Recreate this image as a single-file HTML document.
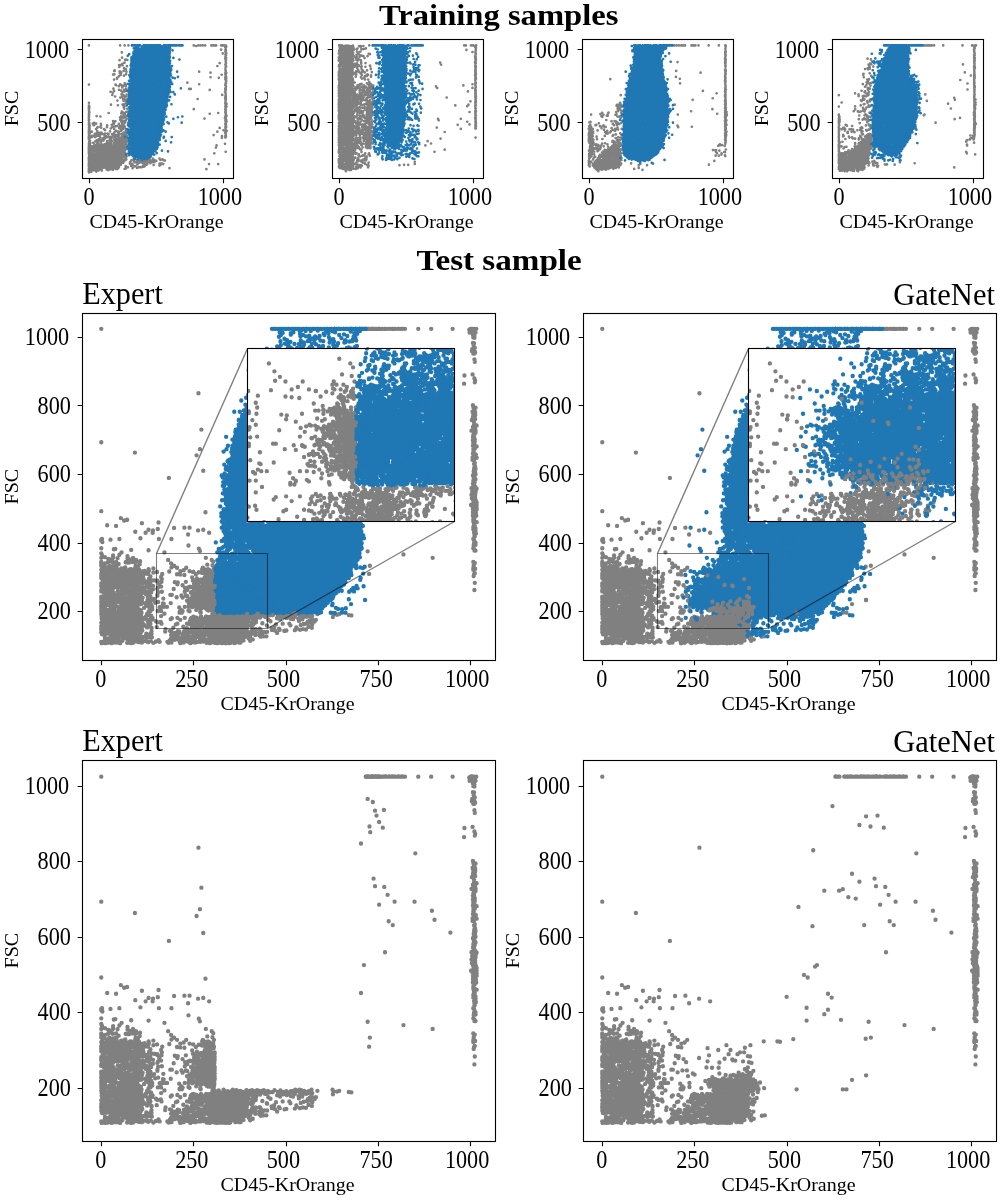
<!DOCTYPE html>
<html lang="en"><head><meta charset="utf-8"><title>Training samples / Test sample</title>
<style>html,body{margin:0;padding:0;background:#fff}svg{display:block}text{font-family:"Liberation Serif", "DejaVu Serif", serif;fill:#000}.tk{font-size:24.2px}.al{font-size:18.2px}.ti{font-size:31px}.st{font-size:29.4px;font-weight:bold}.pg{fill:none;stroke:#7f7f7f;stroke-linecap:round}.pb{fill:none;stroke:#1f77b4;stroke-linecap:round}</style></head><body>
<svg width="1000" height="1200" viewBox="0 0 1000 1200">
<rect width="1000" height="1200" fill="#fff"/>
<defs>
<path id="cgf" d="M9 107h5v3h-5zM79 107h5v3h-5zM292 107h5v3h-5zM311 107h5v3h-5zM335 107h5v3h-5zM344 107h5v3h-5zM0 110h54v3h-54zM72 110h18v3h-18zM100 110h13v3h-13zM180 110h11v3h-11zM212 110h14v3h-14zM248 110h11v3h-11zM283 110h69v3h-69zM371 110h9v3h-9zM7 113h50v3h-50zM72 113h22v3h-22zM95 113h19v3h-19zM183 113h10v3h-10zM211 113h26v3h-26zM246 113h11v3h-11zM265 113h89v3h-89zM360 113h22v3h-22zM9 116h42v3h-42zM52 116h6v3h-6zM71 116h39v3h-39zM185 116h11v3h-11zM210 116h28v3h-28zM245 116h7v3h-7zM266 116h120v3h-120zM9 119h39v3h-39zM69 119h36v3h-36zM187 119h17v3h-17zM205 119h45v3h-45zM267 119h14v3h-14zM289 119h97v3h-97zM21 122h26v3h-26zM57 122h20v3h-20zM78 122h26v3h-26zM190 122h28v3h-28zM219 122h32v3h-32zM266 122h13v3h-13zM292 122h95v3h-95zM23 125h25v3h-25zM56 125h18v3h-18zM81 125h24v3h-24zM191 125h16v3h-16zM222 125h32v3h-32zM256 125h5v3h-5zM262 125h16v3h-16zM293 125h98v3h-98zM396 125h6v3h-6zM24 128h28v3h-28zM53 128h20v3h-20zM82 128h25v3h-25zM190 128h16v3h-16zM223 128h15v3h-15zM248 128h32v3h-32zM291 128h112v3h-112zM24 131h51v3h-51zM80 131h26v3h-26zM189 131h18v3h-18zM221 131h15v3h-15zM249 131h34v3h-34zM288 131h111v3h-111zM1 134h15v3h-15zM22 134h84v3h-84zM190 134h20v3h-20zM220 134h17v3h-17zM253 134h145v3h-145zM0 137h107v3h-107zM198 137h13v3h-13zM222 137h18v3h-18zM260 137h139v3h-139zM-1 140h104v3h-104zM205 140h7v3h-7zM225 140h13v3h-13zM263 140h134v3h-134zM0 143h101v3h-101zM293 143h12v3h-12zM313 143h5v3h-5zM327 143h21v3h-21zM351 143h12v3h-12zM-1 146h103v3h-103zM295 146h8v3h-8zM314 146h36v3h-36zM355 146h9v3h-9zM-1 149h106v3h-106zM314 149h36v3h-36zM356 149h7v3h-7zM-1 152h112v3h-112zM325 152h35v3h-35zM0 155h113v3h-113zM324 155h25v3h-25zM350 155h8v3h-8zM0 158h118v3h-118zM126 158h6v3h-6zM323 158h14v3h-14zM338 158h9v3h-9zM352 158h7v3h-7zM2 161h115v3h-115zM127 161h7v3h-7zM308 161h6v3h-6zM323 161h12v3h-12zM340 161h5v3h-5zM1 164h114v3h-114zM127 164h8v3h-8zM292 164h6v3h-6zM304 164h14v3h-14zM326 164h11v3h-11zM340 164h7v3h-7zM348 164h6v3h-6zM0 167h27v3h-27zM32 167h81v3h-81zM126 167h8v3h-8zM293 167h7v3h-7zM302 167h5v3h-5zM311 167h9v3h-9zM328 167h12v3h-12zM343 167h13v3h-13zM357 167h8v3h-8zM1 170h24v3h-24zM34 170h79v3h-79zM127 170h6v3h-6zM294 170h12v3h-12zM312 170h6v3h-6zM327 170h12v3h-12zM347 170h19v3h-19zM2 173h23v3h-23zM34 173h79v3h-79zM126 173h8v3h-8zM294 173h14v3h-14zM310 173h7v3h-7zM330 173h10v3h-10zM347 173h11v3h-11zM1 176h26v3h-26zM32 176h83v3h-83zM130 176h9v3h-9zM295 176h12v3h-12zM332 176h24v3h-24zM0 179h116v3h-116zM132 179h9v3h-9zM332 179h19v3h-19zM1 182h110v3h-110zM133 182h6v3h-6zM313 182h36v3h-36zM0 185h109v3h-109zM315 185h8v3h-8zM326 185h6v3h-6zM337 185h9v3h-9zM0 188h110v3h-110zM338 188h5v3h-5zM-1 191h16v3h-16zM20 191h90v3h-90zM0 194h13v3h-13zM22 194h88v3h-88zM0 197h13v3h-13zM22 197h89v3h-89zM-1 200h16v3h-16zM20 200h20v3h-20zM42 200h67v3h-67zM0 203h37v3h-37zM45 203h63v3h-63zM130 203h6v3h-6zM-1 206h15v3h-15zM22 206h14v3h-14zM47 206h56v3h-56zM130 206h9v3h-9zM0 209h12v3h-12zM25 209h12v3h-12zM47 209h53v3h-53zM131 209h8v3h-8zM-1 212h13v3h-13zM26 212h13v3h-13zM47 212h52v3h-52zM129 212h11v3h-11zM-1 215h12v3h-12zM25 215h16v3h-16zM52 215h47v3h-47zM126 215h12v3h-12zM-1 218h13v3h-13zM20 218h20v3h-20zM54 218h47v3h-47zM122 218h15v3h-15zM0 221h39v3h-39zM54 221h53v3h-53zM120 221h15v3h-15zM0 224h40v3h-40zM52 224h59v3h-59zM120 224h14v3h-14zM-1 227h44v3h-44zM45 227h65v3h-65zM123 227h11v3h-11zM0 230h111v3h-111zM124 230h12v3h-12zM0 233h112v3h-112zM124 233h16v3h-16zM-1 236h81v3h-81zM82 236h30v3h-30zM126 236h13v3h-13zM-1 239h57v3h-57zM63 239h14v3h-14zM87 239h26v3h-26zM126 239h10v3h-10zM0 242h55v3h-55zM89 242h21v3h-21zM125 242h10v3h-10zM7 245h49v3h-49zM88 245h20v3h-20zM126 245h7v3h-7zM9 248h34v3h-34zM45 248h19v3h-19zM74 248h9v3h-9zM85 248h24v3h-24zM124 248h7v3h-7zM9 251h28v3h-28zM48 251h18v3h-18zM72 251h38v3h-38zM119 251h13v3h-13zM7 254h29v3h-29zM49 254h66v3h-66zM116 254h19v3h-19zM3 257h30v3h-30zM49 257h78v3h-78zM128 257h8v3h-8zM0 260h32v3h-32zM54 260h62v3h-62zM131 260h6v3h-6zM0 263h32v3h-32zM56 263h18v3h-18zM79 263h36v3h-36zM11 266h22v3h-22zM56 266h15v3h-15zM81 266h35v3h-35zM12 269h23v3h-23zM54 269h16v3h-16zM81 269h36v3h-36zM11 272h61v3h-61zM82 272h23v3h-23zM0 275h75v3h-75zM80 275h23v3h-23zM-1 278h104v3h-104zM0 281h15v3h-15zM20 281h84v3h-84zM2 284h10v3h-10zM22 284h85v3h-85zM108 284h8v3h-8zM3 287h8v3h-8zM21 287h98v3h-98zM3 290h9v3h-9zM20 290h98v3h-98zM2 293h13v3h-13zM16 293h100v3h-100zM0 296h116v3h-116zM-1 299h82v3h-82zM90 299h25v3h-25zM-1 302h81v3h-81zM91 302h24v3h-24zM-1 305h82v3h-82zM90 305h25v3h-25zM-1 308h118v3h-118zM-1 311h121v3h-121zM1 314h117v3h-117zM1 317h108v3h-108zM113 317h5v3h-5zM-1 320h11v3h-11zM11 320h94v3h-94zM1 323h5v3h-5zM14 323h31v3h-31zM52 323h16v3h-16zM78 323h6v3h-6zM89 323h14v3h-14zM15 326h29v3h-29zM60 326h7v3h-7zM91 326h10v3h-10zM15 329h28v3h-28zM91 329h9v3h-9zM20 332h5v3h-5zM36 332h4v3h-4zM1007 476h7v3h-7zM1005 479h11v3h-11zM1005 482h11v3h-11zM1006 485h9v3h-9zM1005 488h11v3h-11zM1006 491h9v3h-9zM1006 494h10v3h-10zM1005 497h12v3h-12zM1005 500h13v3h-13zM1005 503h13v3h-13zM1003 506h14v3h-14zM1002 509h16v3h-16zM1004 512h13v3h-13zM1007 515h10v3h-10zM1008 518h10v3h-10zM1006 521h10v3h-10zM1005 524h11v3h-11zM1004 527h10v3h-10zM1003 530h11v3h-11zM1003 533h10v3h-10zM1004 536h9v3h-9zM1002 539h12v3h-12zM1003 542h11v3h-11zM1004 545h11v3h-11zM1003 548h12v3h-12zM1004 551h11v3h-11zM1004 554h12v3h-12zM1003 557h15v3h-15zM1002 560h14v3h-14zM1006 563h8v3h-8zM1008 719h5v3h-5zM1008 722h7v3h-7zM1006 725h9v3h-9zM1004 728h11v3h-11zM1005 731h9v3h-9zM1006 734h7v3h-7zM1005 737h9v3h-9zM1007 740h9v3h-9zM1008 743h6v3h-6zM1003 758h8v3h-8zM1005 761h8v3h-8zM1006 764h7v3h-7zM1005 767h7v3h-7zM1006 770h7v3h-7zM1007 773h7v3h-7zM1006 776h8v3h-8zM1005 779h9v3h-9zM1005 782h9v3h-9zM1007 785h5v3h-5zM1006 1004h5v3h-5zM1006 1007h5v3h-5zM1004 1010h8v3h-8zM1001 1013h13v3h-13zM997 1016h17v3h-17zM996 1019h17v3h-17zM996 1022h18v3h-18z"/>
<path id="cg" vector-effect="non-scaling-stroke" d="M410 119h0m-7-4h0m-18 1h0m-4-1h0m-1 2h0m-2 2h0m-1-9h0m-4 0h0m0 3h0m-5 3h0m-3-2h0m-2 5h0m0-9h0m-6 6h0m-4 3h0m-2-6h0m-2-4h0m0 7h0m-3-8h0m-4 4h0m-5-4h0m-7 4h0m-1-3h0m-2 0h0m-3 4h0m-4-3h0m-1 3h0m0-4h0m-4 4h0m-2-5h0m-4 7h0m0-5h0m-2-1h0m-3 4h0m-1-2h0m-1 4h0m-6-2h0m0-4h0m-2-1h0m-2 7h0m0 2h0m-1-1h0m-3-4h0m-2 7h0m0-4h0m-1-6h0m-9 4h0m-7-1h0m-2 5h0m-6-5h0m-4-1h0m-3 4h0m0-5h0m-5 1h0m-1 8h0m-1-4h0m-6-7h0m-5 11h0m-1-6h0m-6 1h0m0 2h0m-6 3h0m0-9h0m-5 8h0m-4-10h0m-2 5h0m-3 6h0m-10-1h0m-5 0h0m-4-8h0m-4 7h0m-4-8h0m-3 3h0m-21 0h0m-3 5h0m-7-4h0m-7-4h0m-7 5h0m-7-3h0m-2 2h0m-9 1h0m-2 0h0m-4-4h0m-2 7h0m-2-6h0m-1 2h0m-4-2h0m0 2h0m-2-1h0m-1 4h0m-5 0h0m-4-4h0m-3-3h0m-3 5h0m-2-6h0m-5 3h0m-1-1h0m-5-1h0m-13 6h0m-6-7h0m-1 8h0m-4 2h0m-2-6h0m0-2h0m-7 0h0m-9-2h0m-3 5h0m-6-1h0m-1 6h0m0-9h0m-5 1h0m-1 3h0m-1-5h0m-1 11h0m-2-6h0m-3-4h0m-4-1h0m-1 4h0m10 12h0m1-4h0m1 0h0m5 1h0m4 1h0m4-1h0m0 6h0m3 2h0m17-2h0m0-5h0m2 9h0m2-2h0m4 1h0m4-9h0m2 7h0m4-5h0m1 1h0m6-4h0m1 9h0m0-4h0m2-3h0m5 0h0m3 1h0m2 2h0m17 0h0m0-4h0m5 7h0m8-2h0m5 1h0m3 4h0m2-7h0m5 2h0m9-1h0m52-4h0m8 3h0m5 3h0m3-1h0m8-2h0m2-3h0m7 1h0m1 3h0m3 3h0m2 2h0m8-2h0m5-2h0m1-6h0m4 6h0m1-6h0m2 4h0m8 6h0m1-4h0m6 5h0m3-8h0m2 1h0m2-1h0m4 8h0m3-11h0m1 10h0m11 1h0m3-10h0m3 2h0m0 7h0m1-3h0m54-7h0m1 0h0m30 3h0m2 0h0m3 8h0m1-5h0m4 2h0m4 2h0m2-5h0m1-3h0m4 7h0m29-2h0m8 1h0m-31 10h0m-11 2h0m-2-6h0m-7 8h0m-8-3h0m-4 0h0m0 2h0m-5-1h0m-3-3h0m0 4h0m-9 1h0m-1-3h0m-4 2h0m-4 2h0m0-1h0m-2-5h0m-4 6h0m-1-4h0m-2 4h0m-11 0h0m-1-2h0m-9-4h0m-5 1h0m-1 4h0m-4-2h0m-7 1h0m-3-1h0m-3 2h0m-1 1h0m-2-4h0m-4-2h0m-1-4h0m-3 1h0m-6 9h0m-3-10h0m-2 8h0m-1 1h0m-11-7h0m-2 4h0m-7-4h0m-5-2h0m-5 6h0m-4 0h0m-1 2h0m-3-3h0m-2 2h0m-9-1h0m-2 1h0m0 3h0m-4-9h0m-9 8h0m-2-6h0m-2 7h0m-7-11h0m0 6h0m-3-5h0m-3-1h0m-4 10h0m-1-10h0m-16 10h0m-37 0h0m0-7h0m-2 1h0m-6-4h0m-3 1h0m-3 3h0m-15 3h0m-3-6h0m-2-1h0m-1 8h0m-3 3h0m0-5h0m-13-6h0m-5 1h0m-2 4h0m-2-2h0m-1 2h0m-5-1h0m-2-4h0m-11 1h0m-4 3h0m-3-3h0m-25-1h0m-6 5h0m-4 1h0m-2-3h0m-2 4h0m-5-5h0m-4 5h0m0-5h0m-2 6h0m0 7h0m0 5h0m0-2h0m4 0h0m95-2h0m0 4h0m2 0h0m1-2h0m2 3h0m7-8h0m13 9h0m12-1h0m0-2h0m14 4h0m24-6h0m12-5h0m9 9h0m34-8h0m3 7h0m1-7h0m2 2h0m5-3h0m4 1h0m1 8h0m5 1h0m1-1h0m1-7h0m3 3h0m0 2h0m1-1h0m2 2h0m4-5h0m8-3h0m6 0h0m4 8h0m0-8h0m2 5h0m5-1h0m2 6h0m1-3h0m0-7h0m4 0h0m0 9h0m1 2h0m0-8h0m1 1h0m3-4h0m0 5h0m1 1h0m0 4h0m1-8h0m1 1h0m0 6h0m1-9h0m3 10h0m2-7h0m0 4h0m5 3h0m0-9h0m1 4h0m1-3h0m0 8h0m1-3h0m0-5h0m1-1h0m0 7h0m3-1h0m1-5h0m4 7h0m0-6h0m0 4h0m1-7h0m1 3h0m1-1h0m1 4h0m0-5h0m3 10h0m2 0h0m1-3h0m4 1h0m2 2h0m3-9h0m2 4h0m1 4h0m0-9h0m1 5h0m1-3h0m2 7h0m0-2h0m1 3h0m2-3h0m1 3h0m0-9h0m1 5h0m3-1h0m0-4h0m1 7h0m1-9h0m0 6h0m1-1h0m1-4h0m1 0h0m0 10h0m4-7h0m1 4h0m2 3h0m1-11h0m1 11h0m5-7h0m2-4h0m1 2h0m1 7h0m3 2h0m2-6h0m7 1h0m18 14h0m-3 2h0m-1-5h0m0-4h0m-1 8h0m-1-3h0m-9-4h0m-2 6h0m0-4h0m-9 5h0m0-8h0m-1 4h0m-7-4h0m-1 6h0m-9-1h0m-1-4h0m-3 8h0m-5-4h0m0-3h0m0 5h0m-2-6h0m-1 3h0m-1 1h0m-1-1h0m-1-5h0m-1 9h0m0 1h0m0-6h0m-1-4h0m-1 9h0m0-2h0m-1 4h0m-1-2h0m-1 0h0m0 2h0m-1-9h0m-2 6h0m0-7h0m0 4h0m-2-3h0m-2 5h0m-1 4h0m-2-2h0m0-9h0m0 2h0m-3 3h0m-2 3h0m-1-5h0m-3-3h0m0 10h0m-1-8h0m0 3h0m0 1h0m-2 1h0m-1-3h0m-1 3h0m0-6h0m-1 10h0m-1-10h0m-1 10h0m-3-1h0m0-7h0m-1 6h0m-1 1h0m0-1h0m0-2h0m-1-2h0m-1 3h0m-1 2h0m0-5h0m-1 6h0m0-5h0m-1-1h0m-1 1h0m0-1h0m-1 6h0m-1-9h0m-2 6h0m-1 3h0m-1-10h0m-2 4h0m0-2h0m-2 3h0m-2 1h0m-1 1h0m0-3h0m-1 6h0m-1-2h0m0-5h0m-1 7h0m0-2h0m-4-1h0m-1-1h0m-2-1h0m-1-6h0m0 11h0m-1-2h0m-10-3h0m-4-6h0m0 2h0m-4 5h0m-3 0h0m-1-4h0m-2-2h0m0 5h0m-2 2h0m-4-3h0m-7-1h0m-4 3h0m-4 1h0m-7 1h0m-10-9h0m-16 9h0m-4-2h0m-39 2h0m-30 0h0m-2-7h0m-1 9h0m-3 0h0m0-9h0m-10 1h0m-1 2h0m-2 1h0m-1 2h0m-2-8h0m-3 4h0m-81 6h0m-20-5h0m-3-2h0m0 7h0m-4-8h0m0 10h0m3 6h0m2-6h0m16 4h0m0 4h0m1-6h0m2 6h0m6 3h0m3 0h0m1-11h0m1 7h0m1-4h0m3 1h0m72-2h0m0 3h0m2 5h0m12-3h0m3-3h0m3-1h0m3 6h0m4 0h0m10-5h0m4-3h0m9 1h0m27 8h0m26-2h0m26-4h0m2 7h0m1-4h0m5-3h0m3 4h0m7-7h0m4 4h0m3-4h0m2-1h0m0 3h0m1 0h0m2 5h0m5 3h0m2-8h0m1 2h0m1 6h0m3-10h0m7 6h0m5-1h0m0-4h0m1 8h0m1 0h0m0-6h0m1-4h0m2 1h0m0 3h0m0 4h0m1-8h0m0 5h0m1 4h0m1-3h0m0 5h0m1-9h0m1 0h0m1 3h0m0 3h0m1-8h0m0 6h0m0 4h0m3-4h0m1 2h0m1-3h0m1-2h0m1 2h0m0-4h0m2 7h0m0-3h0m0 1h0m1-5h0m0 6h0m0 3h0m2-7h0m7 0h0m1 2h0m3-1h0m1-3h0m1 5h0m1-3h0m0 1h0m1 5h0m1-8h0m0 8h0m0-5h0m0 3h0m2-4h0m2-3h0m0 5h0m1 5h0m1 0h0m1-3h0m1 4h0m2-10h0m1 8h0m1 0h0m1-8h0m0 5h0m1 5h0m2-4h0m0-4h0m1-2h0m1 7h0m0 2h0m1-5h0m1-5h0m1 8h0m0-4h0m1-4h0m2 6h0m3-5h0m0 2h0m1 7h0m1-3h0m1-3h0m0 2h0m2 2h0m1-6h0m4-1h0m1 4h0m0 2h0m3-5h0m1 3h0m1-2h0m2 5h0m3-1h0m4 2h0m2-1h0m0-3h0m6-1h0m5 1h0m11-3h0m8 4h0m3 16h0m-13-7h0m-13 3h0m-1 2h0m-1-6h0m-2 5h0m-1-4h0m-1 2h0m-2-1h0m-4 3h0m-1 3h0m-1 1h0m0-5h0m-2-1h0m-4 2h0m-3-3h0m-1 3h0m-1-3h0m-1-4h0m-2 0h0m-6 9h0m-1-6h0m-1-3h0m-1 2h0m-2-1h0m-1 3h0m-1-2h0m0 8h0m-2-1h0m-1-9h0m-1 7h0m0 4h0m-2-9h0m-1 2h0m-1 2h0m0-4h0m-1 3h0m-1-3h0m-1 2h0m-1 5h0m-1-3h0m-1-4h0m-1 4h0m-1-5h0m0 8h0m0-6h0m-1 8h0m0-5h0m-1-3h0m0 1h0m-2-3h0m-2-1h0m0 11h0m-1-5h0m-2 3h0m-1-6h0m0 4h0m-1-5h0m0 3h0m-1-5h0m-1 2h0m0 2h0m-2 0h0m0 2h0m-1-4h0m0-1h0m-1 0h0m-1 6h0m0-3h0m0 6h0m0-8h0m-2-1h0m0 3h0m0 4h0m-2-7h0m0 6h0m-2-7h0m-1 4h0m-3 6h0m-2-7h0m-2 5h0m-2-3h0m-5-5h0m-2 2h0m-5 2h0m-2-4h0m-5 3h0m-1 2h0m-12-3h0m-2 3h0m-1-5h0m-8 0h0m-5 3h0m-7 2h0m-5-3h0m-38 0h0m-15-1h0m-29 6h0m-23-6h0m-4 7h0m-2-8h0m-3 10h0m-3 1h0m-6-5h0m-2-6h0m-5 1h0m-6 9h0m-1-3h0m-1-7h0m-2 8h0m-78-6h0m-3 7h0m-4 1h0m-1-3h0m-3-1h0m-5 4h0m-7-2h0m-2-8h0m0 7h0m-1 6h0m0 8h0m2-3h0m3 0h0m4-6h0m2 4h0m2 7h0m9-3h0m1-2h0m1 0h0m13 3h0m6-2h0m3 4h0m57-3h0m3-7h0m1 3h0m2 1h0m15-4h0m3 3h0m1 4h0m5 2h0m20 0h0m9 0h0m9-8h0m41 5h0m0-2h0m6 0h0m2 4h0m0 1h0m16 1h0m32-3h0m33-6h0m1 5h0m2 4h0m3-11h0m2 0h0m9 2h0m13 2h0m1-2h0m1-2h0m9 0h0m12 1h0m2-1h0m2 0h0m8 1h0m0 2h0m10-2h0m17 0h0m2 0h0m1-1h0m5 1h0m3-1h0m2 1h0m3 1h0m-107 13h0m0 4h0m-1-6h0m-4 2h0m-1 2h0m-4-2h0m-1 6h0m-1-9h0m-3 7h0m-51 3h0m-20-9h0m-5 7h0m-33 2h0m-8 0h0m-9-3h0m-3 2h0m-20 1h0m0-7h0m-7-1h0m-3 9h0m-12-4h0m-9-7h0m-6 3h0m-3 3h0m0-6h0m-3 4h0m-41 4h0m-3 2h0m-1-10h0m-2 5h0m-1 3h0m-5 3h0m-7-5h0m-1 5h0m0-8h0m-4 2h0m-2 3h0m-4-5h0m-3-2h0m-8 1h0m-2 2h0m-1 5h0m-1-8h0m-3 8h0m-5-7h0m-1 2h0m0 6h0m0 5h0m0 8h0m9-3h0m0-5h0m3 6h0m3-3h0m4 4h0m0-5h0m1-2h0m1 7h0m1-5h0m2-3h0m2 3h0m2-4h0m6 6h0m1-7h0m0 8h0m2 2h0m0-3h0m12 4h0m5-3h0m0-8h0m1 4h0m1-3h0m2 5h0m35-6h0m4 1h0m1 5h0m4-1h0m7 4h0m0-2h0m10 2h0m2 0h0m1-7h0m4 7h0m1-2h0m5 1h0m3-4h0m11 6h0m19-10h0m2 8h0m2-1h0m19 2h0m91-6h0m10 3h0m9-3h0m1 8h0m1-11h0m6 8h0m-8 5h0m-48 7h0m-5 3h0m-13-7h0m-64 6h0m-14-10h0m-11 9h0m-6-4h0m-1 4h0m-2-1h0m-1-6h0m-7 1h0m-1 2h0m-15 1h0m-20 1h0m-4 3h0m-2-7h0m-2 2h0m-5 4h0m-2-3h0m-2 5h0m-7 0h0m-2-5h0m-4 3h0m0-3h0m-7-5h0m0 7h0m0-4h0m-5-1h0m-3-2h0m0 5h0m-4 0h0m-1-4h0m-35 3h0m-2-1h0m-3-3h0m0 8h0m0 7h0m0-2h0m7 3h0m0-5h0m4 5h0m2 1h0m18 5h0m3-1h0m4-1h0m2 0h0m3-6h0m4 2h0m2 3h0m3 1h0m1-7h0m1 4h0m4 5h0m4-1h0m3-8h0m10 4h0m3 2h0m9 1h0m2-9h0m1 5h0m2 2h0m11 3h0m3-5h0m1 5h0m1-8h0m4-1h0m9 10h0m5-9h0m1 2h0m2 7h0m4-7h0m19 2h0m0 3h0m35 0h0m4 0h0m13-7h0m13 5h0m12 0h0m781 16h0m-713-9h0m-15 1h0m-118 3h0m-10-1h0m-19-1h0m-5-2h0m-4 3h0m-4 2h0m-9 3h0m-1-7h0m-23-2h0m-4 0h0m-2 1h0m-7 1h0m-1 1h0m-1 6h0m-2-9h0m-1 4h0m0 6h0m-4-9h0m-4 4h0m-2 5h0m0-9h0m-2 9h0m-1-11h0m-5 7h0m-3-4h0m-3 4h0m-2 1h0m-11-5h0m-4 4h0m0 4h0m-15 0h0m-2-10h0m-5 9h0m-1-6h0m-7 7h0m0-4h0m0 15h0m1-7h0m4-3h0m5 11h0m2-8h0m1 4h0m3 2h0m14 0h0m1-2h0m0-5h0m1 3h0m9 2h0m1 3h0m4 0h0m1-3h0m3 4h0m6-6h0m0 4h0m2-9h0m6 5h0m3-3h0m4-2h0m1 11h0m10-6h0m4-2h0m14 7h0m7-3h0m5 1h0m6-2h0m4 4h0m7-4h0m4-6h0m7 11h0m0-10h0m12 2h0m1 3h0m9 3h0m34-7h0m31 3h0m58 2h0m726 13h0m-722 3h0m-27-7h0m-42-3h0m-13 8h0m-1-5h0m-7 6h0m-36 1h0m-6-8h0m-24 3h0m0-6h0m-4 8h0m-6-6h0m-7 9h0m-2-1h0m-2-3h0m-2 4h0m-8-4h0m-1 1h0m0-6h0m-2 1h0m-17-1h0m-5 1h0m-5 1h0m-3-2h0m-45 6h0m-1 1h0m-4-7h0m-5-2h0m-2 7h0m-1-7h0m-4 9h0m-2-3h0m-2 3h0m-3-8h0m0 5h0m0 16h0m4-8h0m2 7h0m3-9h0m1 7h0m0 3h0m3 1h0m1-4h0m7-4h0m1 6h0m59 1h0m5-2h0m2-3h0m2 5h0m4 0h0m12-8h0m8 7h0m1-5h0m9-4h0m5 8h0m7-4h0m7-1h0m2 0h0m7-3h0m0 2h0m12 5h0m845 14h0m-1-5h0m-723 2h0m-71 2h0m-9 1h0m-40 1h0m-3-9h0m-29 2h0m-7 7h0m-7 1h0m-6-7h0m-2 2h0m-1 3h0m-15-3h0m-6 2h0m-4 2h0m-5-2h0m-1-1h0m-1-4h0m-1 6h0m-77-8h0m0 10h0m0-5h0m0 16h0m2-6h0m9 4h0m0-5h0m2 0h0m2 3h0m27 0h0m2 3h0m7 1h0m1-2h0m0-2h0m14 5h0m1-5h0m3 3h0m2-4h0m5 0h0m2-4h0m3 5h0m2 3h0m4 1h0m5 0h0m9 1h0m2-4h0m1-6h0m6 4h0m3-1h0m1-1h0m2 4h0m10-6h0m1 4h0m1 3h0m12-6h0m10 2h0m33 1h0m30 1h0m9 3h0m784 1h0m4-10h0m1 13h0m-4 6h0m0 4h0m-1-8h0m-280 7h0m-497-6h0m-25 0h0m-8 6h0m-7-5h0m-49-3h0m-13-2h0m-29 7h0m-6 3h0m-1-8h0m0 3h0m-11-5h0m-3 0h0m-13 5h0m-3-2h0m-8-1h0m-12 0h0m-1 6h0m-3 1h0m-1-6h0m-2 3h0m-5 2h0m-6 0h0m-2 2h0m-2-7h0m-3 3h0m-2-1h0m-7 4h0m-4-9h0m-2 0h0m-2 10h0m0 11h0m0-3h0m0-3h0m10 2h0m8 3h0m8 3h0m5-3h0m9 1h0m7-6h0m19 5h0m5-1h0m4 0h0m7 2h0m9-1h0m3 1h0m10-7h0m1 9h0m84-6h0m818 4h0m4-3h0m-114 15h0m-716-6h0m-87 0h0m-7 3h0m-1 3h0m-10-5h0m-5 3h0m-27 1h0m-12 2h0m-2-3h0m-11-1h0m-9 5h0m-10-2h0m0 13h0m2-5h0m30-1h0m17 2h0m22-4h0m747 5h0m195 11h0m-3 4h0m0-4h0m-289-2h0m-550-3h0m-43 6h0m-47 1h0m-26-7h0m-17 10h0m-4-1h0m-34 3h0m1007 0h0m1 9h0m5 1h0m0 6h0m-3-3h0m0 8h0m-1-6h0m-1006 3h0m-3 4h0m0 3h0m2 2h0m23-2h0m24 2h0m57 2h0m50-2h0m34 0h0m817 0h0m2-3h0m1 10h0m4 9h0m-3-8h0m-1 4h0m-1 7h0m-717-1h0m-57-5h0m-96 5h0m-19 0h0m-28 3h0m36 6h0m12-2h0m13 4h0m109-4h0m745 3h0m4-8h0m0 9h0m0-3h0m2-1h0m0 6h0m-2 9h0m-2-7h0m-1 5h0m-1-4h0m-782-1h0m-28-1h0m-157 6h0m-24 2h0m46 14h0m48-8h0m45 2h0m852 4h0m1-4h0m1-4h0m1 9h0m2-5h0m4 1h0m-5 15h0m-4-7h0m-1 10h0m-936-11h0m-17 5h0m953 17h0m0-8h0m1 3h0m2-2h0m1 1h0m1 4h0m1-4h0m2 4h0m1-8h0m1 18h0m0 5h0m-3-4h0m0 2h0m-1-6h0m-1-3h0m-1 10h0m-1-4h0m-2-6h0m-1 6h0m0 5h0m-1006-10h0m1001 18h0m1 1h0m3-1h0m0-5h0m1 7h0m2 2h0m0-9h0m4 9h0m2-10h0m0 6h0m2-1h0m0 8h0m-2 6h0m0-2h0m-1-4h0m-3-1h0m-1 9h0m-1-5h0m-1 2h0m-1 3h0m-3 5h0m3 4h0m1-5h0m1 6h0m0-6h0m2 4h0m2-3h0m0 8h0m0-7h0m1 15h0m0 4h0m-1-8h0m-1 5h0m-1-8h0m-2 4h0m-2 0h0m-2-2h0m0 8h0m-2-9h0m-234 19h0m234 0h0m4-7h0m0 10h0m1-4h0m3-6h0m0 10h0m1-4h0m1-2h0m1 6h0m1-8h0m2 4h0m-5 6h0m-1 3h0m-2 4h0m-2 1h0m1 8h0m1 5h0m3-7h0m2 7h0m-2 4h0m-3 3h0m0 3h0m-2 1h0m-823-7h0m825 19h0m0-8h0m1 3h0m3 2h0m1-5h0m0 15h0m-1 7h0m0-10h0m-2 8h0m-1-4h0m-64-5h0m-156 20h0m220-1h0m2 3h0m0-8h0m-2 16h0m-2 2h0m-2-1h0m-103 3h0m-124-4h0m227 8h0m3 7h0m3-2h0m1-6h0m2 9h0m2-9h0m-5 11h0m-3 7h0m-1 2h0m-1-8h0m-111 9h0m-804-6h0m916 13h0m0 4h0m1-4h0m1 5h0m2-7h0m1 7h0m4 0h0m-6 9h0m0-6h0m-3 10h0m0-4h0m-1-7h0m-158 10h0m-54 0h0m-42-8h0m-752 8h0m1006 6h0m1 6h0m4-3h0m0-6h0m-2 14h0m-1 2h0m0 6h0m-1-4h0m-1-5h0m-231 2h0m227 16h0m4 0h0m4 0h0m1-8h0m2 9h0m0-7h0m0 4h0m3 17h0m-3-2h0m-1-4h0m-2 5h0m-2-4h0m-1-4h0m-1 5h0m-240-6h0m-25 2h0m-4 20h0m272-10h0m0 7h0m3 10h0m-1 3h0m-2-3h0m-2-5h0m0 5h0m-4-3h0m3 9h0m1 8h0m2 0h0m1-6h0m1 2h0m1 1h0m0 4h0m0 5h0m-1 1h0m-1 4h0m-5-4h0m1 19h0m1-4h0m1-5h0m5 2h0m-163 27h0m-587 15h0m719 28h0m29 4h0m1 5h0m-2 6h0m-284 13h0m36-3h0m221-1h0m22 3h0m-260 30h0m266 7h0m-1 7h0m2 20h0m-1 2h0m-1-5h0m-3 0h0m-4 7h0m1 6h0m4-2h0m1-1h0m2 7h0m-2 2h0m0 11h0m-1-7h0m-1 6h0m-1 2h0m4 20h0m0-5h0m-2 2h0m-1-1h0m-1 7h0m-9 7h0m9-3h0m1 5h0m1-8h0m2 7h0m1 3h0m2-4h0m2 11h0m-6 0h0m-1-4h0m-2-1h0m-2 5h0m-1 0h0m0-2h0m-4 2h0m-3-3h0m-45 3h0m-58 0h0m-35 0h0m-36 0h0m-6 0h0m-2 0h0m-5 0h0m-5 0h0m-1 0h0m-7 0h0m-4 0h0m-4 0h0m-2 0h0m-6 0h0m-1 0h0m-6 0h0m-4 0h0m-2 0h0m-5 0h0m-9 0h0m-3 0h0m-6 0h0m-2 0h0m-3 0h0m-4 0h0m-4 0h0m-6 0h0m-5 0h0m-3 0h0m-717 0h0"/>
<path id="cbf" d="M456 197h28v3h-28zM486 197h14v3h-14zM511 197h13v3h-13zM533 197h6v3h-6zM553 197h10v3h-10zM568 197h5v3h-5zM577 197h5v3h-5zM583 197h13v3h-13zM406 200h8v3h-8zM426 200h13v3h-13zM440 200h11v3h-11zM455 200h141v3h-141zM353 203h8v3h-8zM404 203h14v3h-14zM419 203h32v3h-32zM456 203h139v3h-139zM354 206h9v3h-9zM400 206h196v3h-196zM309 209h18v3h-18zM331 209h6v3h-6zM342 209h6v3h-6zM354 209h11v3h-11zM371 209h9v3h-9zM401 209h199v3h-199zM308 212h42v3h-42zM353 212h15v3h-15zM369 212h17v3h-17zM401 212h200v3h-200zM309 215h75v3h-75zM388 215h216v3h-216zM309 218h33v3h-33zM345 218h35v3h-35zM388 218h220v3h-220zM309 221h32v3h-32zM346 221h10v3h-10zM359 221h22v3h-22zM387 221h55v3h-55zM444 221h7v3h-7zM456 221h154v3h-154zM309 224h46v3h-46zM360 224h23v3h-23zM385 224h55v3h-55zM446 224h6v3h-6zM455 224h159v3h-159zM309 227h46v3h-46zM361 227h81v3h-81zM444 227h171v3h-171zM308 230h49v3h-49zM359 230h257v3h-257zM309 233h312v3h-312zM308 236h83v3h-83zM396 236h230v3h-230zM309 239h83v3h-83zM395 239h9v3h-9zM411 239h217v3h-217zM309 242h89v3h-89zM410 242h220v3h-220zM310 245h87v3h-87zM403 245h227v3h-227zM312 248h112v3h-112zM428 248h203v3h-203zM313 251h110v3h-110zM432 251h202v3h-202zM310 254h117v3h-117zM434 254h23v3h-23zM458 254h180v3h-180zM308 257h122v3h-122zM436 257h205v3h-205zM308 260h21v3h-21zM332 260h100v3h-100zM435 260h211v3h-211zM308 263h20v3h-20zM333 263h118v3h-118zM453 263h195v3h-195zM308 266h141v3h-141zM455 266h192v3h-192zM308 269h143v3h-143zM453 269h194v3h-194zM309 272h95v3h-95zM405 272h244v3h-244zM309 275h93v3h-93zM408 275h245v3h-245zM309 278h94v3h-94zM407 278h50v3h-50zM458 278h200v3h-200zM308 281h351v3h-351zM314 284h88v3h-88zM406 284h255v3h-255zM317 287h83v3h-83zM408 287h255v3h-255zM318 290h51v3h-51zM370 290h32v3h-32zM406 290h256v3h-256zM313 293h54v3h-54zM372 293h290v3h-290zM310 296h59v3h-59zM370 296h294v3h-294zM311 299h18v3h-18zM334 299h337v3h-337zM313 302h16v3h-16zM334 302h39v3h-39zM374 302h10v3h-10zM389 302h283v3h-283zM314 305h17v3h-17zM332 305h17v3h-17zM355 305h16v3h-16zM376 305h7v3h-7zM389 305h286v3h-286zM318 308h20v3h-20zM339 308h8v3h-8zM359 308h14v3h-14zM375 308h10v3h-10zM387 308h291v3h-291zM319 311h17v3h-17zM341 311h8v3h-8zM361 311h12v3h-12zM377 311h27v3h-27zM411 311h13v3h-13zM425 311h253v3h-253zM319 314h19v3h-19zM346 314h7v3h-7zM361 314h11v3h-11zM378 314h25v3h-25zM413 314h9v3h-9zM428 314h15v3h-15zM449 314h8v3h-8zM458 314h220v3h-220zM318 317h24v3h-24zM348 317h8v3h-8zM363 317h12v3h-12zM379 317h23v3h-23zM411 317h10v3h-10zM429 317h13v3h-13zM451 317h225v3h-225zM324 320h16v3h-16zM383 320h14v3h-14zM411 320h9v3h-9zM428 320h18v3h-18zM452 320h224v3h-224zM382 323h14v3h-14zM411 323h10v3h-10zM426 323h21v3h-21zM458 323h219v3h-219zM376 326h21v3h-21zM415 326h6v3h-6zM423 326h24v3h-24zM458 326h220v3h-220zM374 329h22v3h-22zM425 329h24v3h-24zM458 329h221v3h-221zM373 332h24v3h-24zM425 332h12v3h-12zM440 332h8v3h-8zM456 332h226v3h-226zM685 332h6v3h-6zM373 335h22v3h-22zM423 335h12v3h-12zM456 335h235v3h-235zM371 338h16v3h-16zM423 338h6v3h-6zM457 338h231v3h-231zM373 341h6v3h-6zM423 341h7v3h-7zM455 341h232v3h-232zM425 344h5v3h-5zM455 344h233v3h-233zM458 347h234v3h-234zM458 350h237v3h-237zM457 353h239v3h-239zM458 356h38v3h-38zM498 356h200v3h-200zM458 359h35v3h-35zM501 359h199v3h-199zM458 362h34v3h-34zM502 362h197v3h-197zM458 365h36v3h-36zM500 365h155v3h-155zM662 365h36v3h-36zM458 368h196v3h-196zM663 368h37v3h-37zM458 371h197v3h-197zM662 371h38v3h-38zM458 374h242v3h-242zM365 377h6v3h-6zM376 377h5v3h-5zM435 377h4v3h-4zM454 377h247v3h-247zM341 380h6v3h-6zM362 380h24v3h-24zM411 380h292v3h-292zM342 383h8v3h-8zM361 383h24v3h-24zM410 383h296v3h-296zM343 386h8v3h-8zM360 386h26v3h-26zM397 386h309v3h-309zM341 389h48v3h-48zM393 389h312v3h-312zM336 392h55v3h-55zM395 392h309v3h-309zM336 395h20v3h-20zM357 395h31v3h-31zM398 395h306v3h-306zM337 398h16v3h-16zM364 398h22v3h-22zM399 398h307v3h-307zM336 401h16v3h-16zM366 401h21v3h-21zM397 401h308v3h-308zM334 404h20v3h-20zM366 404h22v3h-22zM395 404h108v3h-108zM504 404h200v3h-200zM330 407h27v3h-27zM364 407h135v3h-135zM507 407h149v3h-149zM657 407h46v3h-46zM331 410h166v3h-166zM508 410h145v3h-145zM660 410h42v3h-42zM333 413h165v3h-165zM506 413h146v3h-146zM661 413h42v3h-42zM335 416h166v3h-166zM503 416h151v3h-151zM659 416h51v3h-51zM336 419h374v3h-374zM336 422h364v3h-364zM336 425h363v3h-363zM334 428h366v3h-366zM332 431h17v3h-17zM355 431h349v3h-349zM331 434h16v3h-16zM357 434h347v3h-347zM331 437h16v3h-16zM357 437h346v3h-346zM330 440h17v3h-17zM357 440h347v3h-347zM327 443h22v3h-22zM355 443h348v3h-348zM329 446h375v3h-375zM331 449h376v3h-376zM331 452h109v3h-109zM450 452h256v3h-256zM331 455h61v3h-61zM401 455h38v3h-38zM452 455h252v3h-252zM336 458h54v3h-54zM403 458h35v3h-35zM452 458h250v3h-250zM337 461h52v3h-52zM403 461h35v3h-35zM451 461h231v3h-231zM687 461h14v3h-14zM336 464h54v3h-54zM401 464h39v3h-39zM449 464h231v3h-231zM689 464h12v3h-12zM331 467h349v3h-349zM689 467h13v3h-13zM328 470h354v3h-354zM687 470h16v3h-16zM327 473h381v3h-381zM325 476h383v3h-383zM325 479h161v3h-161zM494 479h111v3h-111zM613 479h42v3h-42zM656 479h51v3h-51zM325 482h159v3h-159zM497 482h107v3h-107zM615 482h37v3h-37zM659 482h46v3h-46zM325 485h159v3h-159zM498 485h107v3h-107zM614 485h37v3h-37zM660 485h45v3h-45zM328 488h158v3h-158zM498 488h110v3h-110zM611 488h27v3h-27zM644 488h9v3h-9zM658 488h48v3h-48zM330 491h160v3h-160zM496 491h140v3h-140zM646 491h60v3h-60zM330 494h144v3h-144zM481 494h156v3h-156zM645 494h62v3h-62zM331 497h142v3h-142zM483 497h39v3h-39zM527 497h113v3h-113zM642 497h66v3h-66zM339 500h21v3h-21zM366 500h20v3h-20zM393 500h81v3h-81zM484 500h36v3h-36zM529 500h176v3h-176zM341 503h17v3h-17zM368 503h17v3h-17zM395 503h81v3h-81zM483 503h37v3h-37zM529 503h175v3h-175zM341 506h18v3h-18zM367 506h19v3h-19zM395 506h127v3h-127zM527 506h176v3h-176zM340 509h22v3h-22zM364 509h24v3h-24zM393 509h311v3h-311zM338 512h366v3h-366zM336 515h368v3h-368zM337 518h368v3h-368zM336 521h142v3h-142zM483 521h142v3h-142zM633 521h71v3h-71zM333 524h133v3h-133zM487 524h136v3h-136zM635 524h68v3h-68zM334 527h9v3h-9zM344 527h120v3h-120zM488 527h135v3h-135zM634 527h68v3h-68zM347 530h118v3h-118zM487 530h137v3h-137zM635 530h60v3h-60zM348 533h120v3h-120zM484 533h141v3h-141zM634 533h59v3h-59zM346 536h127v3h-127zM482 536h147v3h-147zM631 536h63v3h-63zM335 539h141v3h-141zM478 539h40v3h-40zM523 539h68v3h-68zM599 539h16v3h-16zM622 539h74v3h-74zM333 542h183v3h-183zM526 542h64v3h-64zM600 542h14v3h-14zM623 542h73v3h-73zM331 545h185v3h-185zM527 545h64v3h-64zM599 545h16v3h-16zM622 545h74v3h-74zM334 548h184v3h-184zM526 548h172v3h-172zM335 551h186v3h-186zM522 551h185v3h-185zM334 554h373v3h-373zM342 557h361v3h-361zM345 560h162v3h-162zM509 560h192v3h-192zM346 563h66v3h-66zM413 563h91v3h-91zM512 563h186v3h-186zM346 566h63v3h-63zM416 566h87v3h-87zM513 566h184v3h-184zM345 569h63v3h-63zM417 569h88v3h-88zM511 569h187v3h-187zM332 572h5v3h-5zM343 572h67v3h-67zM415 572h30v3h-30zM446 572h257v3h-257zM331 575h111v3h-111zM449 575h252v3h-252zM331 578h110v3h-110zM451 578h81v3h-81zM539 578h24v3h-24zM570 578h117v3h-117zM692 578h7v3h-7zM334 581h108v3h-108zM450 581h81v3h-81zM540 581h22v3h-22zM571 581h65v3h-65zM643 581h42v3h-42zM335 584h106v3h-106zM450 584h79v3h-79zM539 584h24v3h-24zM570 584h44v3h-44zM616 584h18v3h-18zM645 584h41v3h-41zM693 584h5v3h-5zM333 587h110v3h-110zM448 587h80v3h-80zM537 587h74v3h-74zM620 587h15v3h-15zM644 587h45v3h-45zM690 587h8v3h-8zM329 590h163v3h-163zM497 590h32v3h-32zM536 590h74v3h-74zM622 590h16v3h-16zM641 590h58v3h-58zM327 593h163v3h-163zM499 593h113v3h-113zM623 593h79v3h-79zM327 596h13v3h-13zM341 596h150v3h-150zM498 596h117v3h-117zM621 596h84v3h-84zM332 599h5v3h-5zM345 599h149v3h-149zM495 599h212v3h-212zM347 602h360v3h-360zM348 605h358v3h-358zM347 608h357v3h-357zM344 611h359v3h-359zM339 614h362v3h-362zM337 617h360v3h-360zM338 620h5v3h-5zM346 620h248v3h-248zM601 620h94v3h-94zM349 623h244v3h-244zM602 623h94v3h-94zM350 626h203v3h-203zM554 626h40v3h-40zM601 626h98v3h-98zM348 629h97v3h-97zM450 629h100v3h-100zM559 629h46v3h-46zM610 629h94v3h-94zM345 632h98v3h-98zM452 632h97v3h-97zM560 632h43v3h-43zM613 632h94v3h-94zM344 635h99v3h-99zM452 635h99v3h-99zM559 635h45v3h-45zM614 635h92v3h-92zM342 638h103v3h-103zM450 638h105v3h-105zM556 638h50v3h-50zM613 638h85v3h-85zM345 641h120v3h-120zM466 641h230v3h-230zM350 644h112v3h-112zM469 644h226v3h-226zM353 647h10v3h-10zM365 647h96v3h-96zM470 647h227v3h-227zM355 650h5v3h-5zM368 650h95v3h-95zM468 650h237v3h-237zM369 653h316v3h-316zM691 653h12v3h-12zM367 656h316v3h-316zM693 656h9v3h-9zM353 659h9v3h-9zM363 659h287v3h-287zM651 659h33v3h-33zM692 659h11v3h-11zM352 662h295v3h-295zM654 662h33v3h-33zM689 662h16v3h-16zM352 665h278v3h-278zM633 665h13v3h-13zM655 665h51v3h-51zM353 668h273v3h-273zM636 668h12v3h-12zM653 668h51v3h-51zM354 671h270v3h-270zM637 671h64v3h-64zM353 674h272v3h-272zM635 674h64v3h-64zM354 677h274v3h-274zM630 677h70v3h-70zM355 680h214v3h-214zM570 680h133v3h-133zM355 683h211v3h-211zM573 683h133v3h-133zM359 686h206v3h-206zM574 686h135v3h-135zM360 689h206v3h-206zM573 689h83v3h-83zM657 689h50v3h-50zM359 692h294v3h-294zM661 692h44v3h-44zM359 695h293v3h-293zM662 695h42v3h-42zM358 698h293v3h-293zM661 698h42v3h-42zM355 701h297v3h-297zM659 701h43v3h-43zM359 704h342v3h-342zM361 707h341v3h-341zM361 710h342v3h-342zM363 713h343v3h-343zM365 716h55v3h-55zM425 716h282v3h-282zM364 719h54v3h-54zM427 719h275v3h-275zM703 719h5v3h-5zM363 722h56v3h-56zM426 722h273v3h-273zM362 725h60v3h-60zM423 725h275v3h-275zM363 728h335v3h-335zM366 731h37v3h-37zM404 731h294v3h-294zM371 734h29v3h-29zM407 734h292v3h-292zM372 737h27v3h-27zM408 737h293v3h-293zM372 740h29v3h-29zM406 740h98v3h-98zM505 740h194v3h-194zM372 743h129v3h-129zM509 743h141v3h-141zM657 743h41v3h-41zM372 746h128v3h-128zM510 746h139v3h-139zM658 746h40v3h-40zM375 749h126v3h-126zM509 749h141v3h-141zM657 749h43v3h-43zM376 752h255v3h-255zM636 752h71v3h-71zM375 755h253v3h-253zM641 755h24v3h-24zM674 755h32v3h-32zM374 758h187v3h-187zM568 758h59v3h-59zM642 758h22v3h-22zM675 758h30v3h-30zM378 761h182v3h-182zM569 761h57v3h-57zM642 761h23v3h-23zM674 761h29v3h-29zM380 764h180v3h-180zM570 764h58v3h-58zM640 764h29v3h-29zM670 764h33v3h-33zM381 767h180v3h-180zM569 767h133v3h-133zM380 770h323v3h-323zM383 773h322v3h-322zM388 776h140v3h-140zM533 776h169v3h-169zM389 779h137v3h-137zM535 779h166v3h-166zM388 782h138v3h-138zM536 782h166v3h-166zM387 785h141v3h-141zM534 785h168v3h-168zM390 788h313v3h-313zM392 791h254v3h-254zM651 791h47v3h-47zM393 794h251v3h-251zM653 794h43v3h-43zM392 797h155v3h-155zM555 797h89v3h-89zM653 797h42v3h-42zM392 800h154v3h-154zM556 800h90v3h-90zM651 800h44v3h-44zM397 803h148v3h-148zM557 803h139v3h-139zM402 806h144v3h-144zM556 806h141v3h-141zM403 809h146v3h-146zM551 809h148v3h-148zM404 812h296v3h-296zM406 815h297v3h-297zM407 818h297v3h-297zM406 821h297v3h-297zM403 824h179v3h-179zM585 824h116v3h-116zM405 827h113v3h-113zM525 827h54v3h-54zM588 827h111v3h-111zM408 830h109v3h-109zM526 830h52v3h-52zM589 830h109v3h-109zM409 833h109v3h-109zM525 833h54v3h-54zM589 833h108v3h-108zM407 836h175v3h-175zM587 836h111v3h-111zM403 839h299v3h-299zM407 842h295v3h-295zM409 845h292v3h-292zM416 848h286v3h-286zM419 851h285v3h-285zM420 854h284v3h-284zM419 857h249v3h-249zM673 857h27v3h-27zM416 860h250v3h-250zM675 860h23v3h-23zM419 863h246v3h-246zM675 863h22v3h-22zM422 866h42v3h-42zM465 866h201v3h-201zM674 866h24v3h-24zM424 869h37v3h-37zM468 869h231v3h-231zM424 872h36v3h-36zM469 872h44v3h-44zM520 872h182v3h-182zM423 875h39v3h-39zM467 875h45v3h-45zM521 875h187v3h-187zM421 878h92v3h-92zM520 878h189v3h-189zM422 881h287v3h-287zM423 884h287v3h-287zM425 887h284v3h-284zM425 890h280v3h-280zM431 893h271v3h-271zM434 896h266v3h-266zM435 899h264v3h-264zM435 902h263v3h-263zM437 905h262v3h-262zM437 908h264v3h-264zM436 911h266v3h-266zM435 914h269v3h-269zM434 917h272v3h-272zM434 920h251v3h-251zM692 920h12v3h-12zM439 923h245v3h-245zM693 923h10v3h-10zM444 926h241v3h-241zM692 926h13v3h-13zM445 929h261v3h-261zM445 932h259v3h-259zM445 935h259v3h-259zM446 938h140v3h-140zM593 938h112v3h-112zM447 941h137v3h-137zM594 941h96v3h-96zM697 941h9v3h-9zM447 944h138v3h-138zM593 944h96v3h-96zM698 944h6v3h-6zM445 947h143v3h-143zM590 947h100v3h-100zM445 950h46v3h-46zM494 950h146v3h-146zM642 950h57v3h-57zM445 953h43v3h-43zM497 953h30v3h-30zM529 953h107v3h-107zM646 953h52v3h-52zM446 956h41v3h-41zM498 956h25v3h-25zM544 956h76v3h-76zM629 956h6v3h-6zM647 956h52v3h-52zM449 959h5v3h-5zM457 959h32v3h-32zM498 959h24v3h-24zM557 959h62v3h-62zM646 959h25v3h-25zM672 959h25v3h-25zM460 962h5v3h-5zM477 962h13v3h-13zM502 962h19v3h-19zM559 962h20v3h-20zM588 962h20v3h-20zM614 962h5v3h-5zM645 962h23v3h-23zM675 962h17v3h-17zM479 965h7v3h-7zM504 965h15v3h-15zM560 965h14v3h-14zM589 965h8v3h-8zM682 965h9v3h-9zM504 968h12v3h-12zM562 968h11v3h-11zM588 968h8v3h-8zM685 968h7v3h-7zM505 971h7v3h-7zM564 971h7v3h-7zM589 971h7v3h-7zM687 971h5v3h-5zM682 995h8v3h-8zM683 998h7v3h-7zM683 1001h6v3h-6zM684 1004h6v3h-6zM685 1007h6v3h-6zM685 1010h9v3h-9zM688 1013h7v3h-7zM690 1016h7v3h-7zM689 1019h13v3h-13zM688 1022h15v3h-15z"/>
<path id="cb" vector-effect="non-scaling-stroke" d="M309 200h0m8 0h0m0 2h0m6-1h0m4-4h0m3 2h0m0 1h0m7 3h0m1 0h0m7-3h0m3 3h0m6 0h0m3-2h0m3 1h0m11 0h0m4-1h0m15 0h0m15-5h0m1 3h0m0 4h0m1-6h0m2 4h0m1 0h0m2-1h0m1-1h0m2 4h0m6-1h0m0-2h0m2 1h0m2 2h0m2-2h0m0 2h0m1-4h0m2 3h0m0-3h0m2 0h0m1 3h0m1-1h0m0-2h0m1 4h0m1-4h0m1 3h0m4 1h0m1-3h0m0 2h0m2 0h0m1-5h0m0 2h0m1 1h0m1 2h0m1-3h0m1 3h0m1-1h0m3-4h0m1 1h0m2 0h0m0 4h0m1-5h0m1 2h0m1 3h0m2-2h0m2-2h0m1 3h0m2-5h0m7 2h0m0 2h0m3-3h0m5 1h0m1 2h0m4-1h0m0 2h0m3 1h0m1-5h0m3-1h0m4 6h0m0-4h0m7 1h0m1 1h0m5-1h0m1 3h0m1 1h0m1-5h0m3 4h0m3-5h0m4 6h0m1-4h0m2 4h0m5-1h0m2-2h0m2-4h0m2 6h0m1-3h0m5 3h0m2-3h0m2 2h0m1-1h0m1-1h0m6 1h0m0-2h0m2 3h0m1-4h0m3 6h0m1-4h0m4 3h0m2-2h0m2-2h0m3 5h0m2-4h0m3 1h0m1-2h0m4 2h0m4-3h0m2-1h0m0 6h0m4 1h0m2-5h0m26-1h0m11-1h0m30 14h0m-10-3h0m-11 1h0m-6 3h0m-37-1h0m-1 3h0m-2 0h0m-2-8h0m-1 4h0m-3-4h0m-9-1h0m-7 1h0m-7 0h0m-5 0h0m-37-1h0m-2 1h0m-22-1h0m-39 0h0m-2 3h0m-3 3h0m-1-4h0m-1 3h0m-1 1h0m-3-4h0m-1 5h0m-1-5h0m0-2h0m-1 3h0m-1-2h0m-4-1h0m-1 0h0m0 2h0m-2-2h0m-7 0h0m-3 1h0m-1 2h0m-3 1h0m0-1h0m0-2h0m-2-1h0m-3 2h0m0 2h0m-1-3h0m-1 5h0m0-1h0m-1-5h0m-1 6h0m-1-1h0m-3-5h0m-1 2h0m-3 1h0m-1 1h0m0-1h0m-2 6h0m0 1h0m0-6h0m-1-2h0m0-2h0m0 7h0m-1-7h0m-1 9h0m-1 0h0m0-6h0m-1 1h0m-2 7h0m-2 0h0m-2-2h0m-1 0h0m0 2h0m0-6h0m-1 2h0m-2 4h0m-5 0h0m0-4h0m-2 2h0m-1 1h0m-3-4h0m-1-4h0m-1 9h0m0-6h0m-1 1h0m-1 2h0m0-1h0m-2 1h0m-1-5h0m-1 1h0m0 5h0m0-2h0m-3 4h0m-2-9h0m-1 8h0m0-2h0m-1-5h0m-1 5h0m-1 3h0m-1-8h0m-1 1h0m0 4h0m-1-5h0m-2 2h0m0 6h0m0-10h0m-2 9h0m0-5h0m-1 3h0m0-5h0m-4 7h0m0-9h0m-2 8h0m-1-5h0m-1 6h0m-1 0h0m-1-5h0m-1-1h0m0 4h0m-1-1h0m-3 3h0m-1-2h0m-1-6h0m-1 6h0m0-2h0m-1-3h0m-1 4h0m-2 1h0m0-3h0m-1-5h0m0 7h0m-1 4h0m-1-4h0m-2-7h0m-1 11h0m-1-10h0m0 5h0m0 2h0m0-5h0m-1 2h0m-2 0h0m-1-1h0m-1 5h0m-1 0h0m0-4h0m0 2h0m0 3h0m-2-6h0m0-1h0m-1 5h0m-2-1h0m-1 4h0m-1-7h0m-2 7h0m0-7h0m0 4h0m-1 2h0m0-6h0m0-1h0m-1 5h0m1 14h0m0-3h0m0-3h0m0-3h0m0 1h0m2 6h0m0-7h0m0 4h0m2-2h0m0-2h0m0 4h0m0 5h0m1-7h0m10-3h0m3 1h0m1-1h0m2 1h0m5 6h0m2-1h0m0-6h0m0 10h0m1 1h0m0-4h0m0-3h0m0-3h0m0 2h0m1 6h0m1-3h0m1 5h0m1-9h0m1 7h0m1-8h0m2 0h0m0 3h0m0 4h0m0-1h0m1-5h0m2 5h0m0-2h0m0 6h0m0-2h0m2-1h0m0-6h0m1 7h0m1-7h0m0 8h0m1-1h0m0 1h0m1-8h0m0 3h0m2-2h0m2 0h0m1 3h0m1 3h0m0 1h0m0-7h0m1-3h0m1 5h0m0 1h0m1-6h0m0 5h0m0 1h0m1-4h0m0 9h0m1-10h0m3 3h0m2-2h0m3 1h0m1 1h0m1 5h0m0-8h0m1 2h0m1 0h0m0 8h0m1-10h0m0 5h0m1 1h0m0-6h0m0 10h0m3-11h0m0 9h0m2-8h0m2 6h0m0-7h0m1 3h0m0 6h0m0 1h0m1-5h0m1 5h0m0-8h0m4 0h0m2 2h0m4-2h0m35 5h0m2-5h0m0 3h0m2 5h0m0-5h0m0-3h0m1 4h0m1-4h0m0-1h0m1 2h0m2 0h0m0 2h0m1 1h0m1 4h0m0-10h0m0 4h0m1 5h0m1-8h0m0 6h0m1 3h0m0-1h0m1-1h0m0-6h0m0 2h0m0 2h0m1-5h0m0 9h0m2-6h0m0 6h0m0-8h0m1-2h0m1 4h0m1 5h0m1 1h0m0-5h0m2 4h0m0-5h0m0-3h0m2 4h0m137-4h0m4-1h0m1 7h0m2 1h0m1-5h0m0 2h0m4 3h0m3 2h0m12-7h0m1 4h0m44 13h0m-44 3h0m-3-2h0m-3-3h0m-3 2h0m-3 0h0m0-1h0m-2-7h0m-155 1h0m-1 3h0m0-1h0m-2-1h0m-1 0h0m-2 2h0m-3-4h0m-2 6h0m0-1h0m0-2h0m-2 3h0m0-2h0m0-3h0m-1 5h0m0-3h0m-1-3h0m-1 1h0m-1 1h0m0 3h0m-2-4h0m-23 8h0m0 1h0m-3 1h0m0-5h0m-1 0h0m-2 1h0m-1 3h0m-2-3h0m0-2h0m0 5h0m-2 0h0m0-5h0m-1 0h0m-1 4h0m0 1h0m-1-3h0m0 1h0m-1-3h0m-1 5h0m-1-2h0m-1 2h0m0-3h0m0 1h0m0-6h0m-1 3h0m-2 2h0m0-3h0m-1 2h0m-1-3h0m0 2h0m-1-3h0m-1 2h0m0 2h0m0 3h0m-2 1h0m-1 0h0m0-3h0m-1 1h0m0-6h0m0 2h0m-2-2h0m0-1h0m-3 0h0m-1 1h0m-16-2h0m0 4h0m-2-2h0m0-1h0m-1 8h0m0-8h0m0 6h0m-1-4h0m-1 1h0m-1 6h0m0-3h0m-1 3h0m-1-1h0m-1-5h0m0 4h0m-1-7h0m0 6h0m-1-4h0m0 4h0m-1-7h0m-1 3h0m-4-2h0m-2 0h0m-2-1h0m-4 0h0m-26 11h0m0-6h0m0-5h0m0 6h0m-2-4h0m-1 3h0m-1 1h0m-1-4h0m0 7h0m1 7h0m0-3h0m1-1h0m1 8h0m0-5h0m0 4h0m1-7h0m1 2h0m0 2h0m1 4h0m0-7h0m0 4h0m0 6h0m0-5h0m2 5h0m70-11h0m3 3h0m1-1h0m1-1h0m1 6h0m0 1h0m2 1h0m1-5h0m0-1h0m0 7h0m0-4h0m1-5h0m0 7h0m0-6h0m0 4h0m3-5h0m1 7h0m1-8h0m0 2h0m0 8h0m1 0h0m1-2h0m0-8h0m0 2h0m1 3h0m1 6h0m1-5h0m1-2h0m0 5h0m0 1h0m2-2h0m0-2h0m1 4h0m1-8h0m0-2h0m0 6h0m0 3h0m1-6h0m1 3h0m0 2h0m1-8h0m4 8h0m1-2h0m0 5h0m1-2h0m1-2h0m0-2h0m1 5h0m0-3h0m0 2h0m1-7h0m2 3h0m2-1h0m0 3h0m1-5h0m0 7h0m0-2h0m0 3h0m1-5h0m2 2h0m1 2h0m0-3h0m1 5h0m1-4h0m2 1h0m1 3h0m16-1h0m1 1h0m1-3h0m1 2h0m0-2h0m3 3h0m2 0h0m159-10h0m4 3h0m0-2h0m1 7h0m3-5h0m1 5h0m55 10h0m-11 1h0m-2-2h0m-20 3h0m-10-2h0m-2 2h0m-3-4h0m-1-3h0m-1 6h0m-2-4h0m-1 1h0m0-5h0m-171 0h0m0 7h0m-2 3h0m-1 1h0m-1-11h0m0 5h0m0 4h0m-1-9h0m0 8h0m-1 3h0m-1-5h0m-1 2h0m0-4h0m-1 5h0m-2 0h0m0 1h0m-2-3h0m0 1h0m0 2h0m-7-5h0m0 2h0m-1-2h0m0 3h0m-1 3h0m0-9h0m-1-1h0m0 5h0m0 5h0m-1-2h0m0-4h0m-1-4h0m0 9h0m-1-7h0m-2 0h0m-2 1h0m0 4h0m-1 2h0m0-6h0m-1 2h0m-1 0h0m-1 5h0m0-8h0m0 5h0m-2-4h0m0-2h0m0 4h0m0 3h0m-1-2h0m0-3h0m-1-4h0m-1 5h0m0-2h0m0 4h0m-3-7h0m-13 0h0m-3 0h0m-4 1h0m-61 9h0m-1-3h0m0 2h0m-1-1h0m-1-2h0m-2-4h0m-1 1h0m-1 5h0m0-4h0m-2-2h0m-1 2h0m0 4h0m0 2h0m-1-4h0m-1 5h0m0-3h0m-2 0h0m-7-7h0m-3 5h0m0-6h0m-1 3h0m0 5h0m-1 0h0m-1-3h0m-2 1h0m0-3h0m0 1h0m0 6h0m0 9h0m0-6h0m0 4h0m1 3h0m0 3h0m1-6h0m1-2h0m0 4h0m0 1h0m0-8h0m1 10h0m0-3h0m0-7h0m0 5h0m11-4h0m1 1h0m0-2h0m1 6h0m0-1h0m1-1h0m0-4h0m1 6h0m1-2h0m0 3h0m1-5h0m1 1h0m3-2h0m1 4h0m0-3h0m2 0h0m60 9h0m2 0h0m1-4h0m1-2h0m0 5h0m1-4h0m1-1h0m0 4h0m0-2h0m0-5h0m2 7h0m3-4h0m1 6h0m1-2h0m2-2h0m18-6h0m4 3h0m0-1h0m0-2h0m3 3h0m2-2h0m6 1h0m0-3h0m2 9h0m0-9h0m0 6h0m1-3h0m1 6h0m0-7h0m1 5h0m1-7h0m1 11h0m0-5h0m1 3h0m0 1h0m1-3h0m1-7h0m0 11h0m1-9h0m0 7h0m1 2h0m1-7h0m0-1h0m0 4h0m1 3h0m0-8h0m0 3h0m183-3h0m4 2h0m0 4h0m5 3h0m28-11h0m4 5h0m2-5h0m7 11h0m3-7h0m16 6h0m-49 13h0m-4-8h0m-1 7h0m-2-3h0m-3-1h0m-2-6h0m-2 3h0m-184 0h0m-2 3h0m-2 1h0m-1-7h0m0 9h0m-1-9h0m0 7h0m-1-5h0m-1-1h0m0 4h0m0 1h0m-1-4h0m-1 3h0m0-3h0m-2 2h0m0-1h0m0-2h0m-2-1h0m-37 2h0m0 7h0m0-9h0m-1 3h0m-1 3h0m0-1h0m0 4h0m0-9h0m-1 2h0m0 8h0m0-6h0m0 2h0m-1-6h0m-1 4h0m-1 3h0m-1-2h0m-2 2h0m0 2h0m-2-7h0m0 3h0m-2 4h0m0-8h0m0 9h0m-1-4h0m0-2h0m0-1h0m-1 8h0m0-9h0m-1 6h0m-1 1h0m-24 2h0m0-2h0m-2 1h0m-1-2h0m-1 2h0m-3 1h0m-43-2h0m-1 1h0m-1-4h0m-1-1h0m-1 2h0m0 1h0m-2 2h0m0-6h0m-1 3h0m-1-2h0m-1 2h0m-1-5h0m-2-2h0m-1 8h0m0-3h0m0 11h0m2 5h0m0-8h0m1 4h0m2 6h0m1-4h0m1 1h0m1-1h0m0-2h0m1 4h0m1-8h0m1 9h0m0-5h0m0 3h0m1-3h0m0-5h0m1 2h0m1-1h0m1 1h0m1 6h0m0 2h0m3 1h0m0-2h0m1 1h0m0-2h0m1-2h0m1-1h0m3 5h0m0-2h0m1 3h0m0-2h0m1-2h0m26-1h0m1 2h0m1 2h0m1 0h0m1-4h0m0-1h0m1-4h0m0 1h0m0 2h0m0 4h0m2 1h0m1-6h0m0 7h0m2-10h0m0 2h0m1 3h0m0 2h0m1 2h0m0 2h0m0-10h0m0 1h0m1-1h0m0 8h0m0 1h0m1-7h0m1 2h0m1 2h0m4 4h0m4-1h0m1-2h0m0 3h0m3-3h0m2 3h0m0-2h0m2 2h0m2-11h0m1 1h0m0 2h0m2 0h0m1 5h0m1-2h0m0-3h0m0 6h0m2-6h0m0 6h0m0-2h0m0-3h0m1 6h0m1-7h0m0 2h0m1 1h0m1 1h0m0-2h0m2-4h0m0 2h0m1 2h0m0 3h0m0-1h0m2-6h0m245 3h0m1 6h0m1-10h0m2 6h0m0-5h0m0 8h0m10 1h0m31-5h0m1 5h0m7 13h0m-32-4h0m-7-3h0m-1 5h0m-3-5h0m-2-3h0m-4-1h0m-199 10h0m-4 1h0m-2 0h0m0-2h0m-4 2h0m-1-2h0m-2 2h0m-1-3h0m-1 2h0m-2-1h0m-1 2h0m0-2h0m-2-1h0m-12 1h0m-3 1h0m0-4h0m-1 4h0m0-1h0m-1-2h0m-1-1h0m-1 3h0m-2 1h0m-1 1h0m-7 0h0m-1-4h0m-1 1h0m-2-1h0m-1-1h0m-1 5h0m-1 0h0m-3-3h0m-2-1h0m-1 4h0m-5-4h0m-1-3h0m0-4h0m-2 3h0m0 2h0m-1 6h0m0-3h0m-1-1h0m0-5h0m0-2h0m-4 1h0m-1 8h0m0 2h0m-1-1h0m-1-8h0m0 2h0m-1 7h0m0-2h0m0-3h0m-1-5h0m-1-1h0m0 5h0m0-3h0m0 8h0m-3-2h0m0-4h0m0-3h0m0 1h0m-2 9h0m-1-10h0m-2 2h0m-1 7h0m0-3h0m-1-4h0m-1 7h0m-1-10h0m-1 6h0m0-4h0m-1-2h0m0 11h0m-4-3h0m0 3h0m-1-7h0m0-1h0m-1 3h0m-1-1h0m0 3h0m-1-1h0m0-3h0m0-4h0m-2 8h0m0-3h0m-1-5h0m-1 4h0m-1-3h0m-1 1h0m-1 2h0m-1-3h0m-1 1h0m0 4h0m-1-1h0m-1-4h0m0 10h0m-2-5h0m-3 5h0m0-4h0m-2-2h0m0 2h0m-1-5h0m-2 7h0m0-5h0m-1 1h0m0-5h0m0 8h0m-1-6h0m-2 9h0m-2-1h0m0-4h0m-2 4h0m0-3h0m0-3h0m0-4h0m-1 3h0m-1 3h0m-2 5h0m0-9h0m-3 6h0m0-4h0m-2 2h0m0 4h0m-1-7h0m-1-3h0m-1 3h0m-2 1h0m0 3h0m-1 3h0m0-6h0m-2-4h0m-2 9h0m0 13h0m3-10h0m1 9h0m2-3h0m3 1h0m1-2h0m0-3h0m1-1h0m0 2h0m0 8h0m3-3h0m1-7h0m0 4h0m2 5h0m1-3h0m0-3h0m1 4h0m0 2h0m1-4h0m1 5h0m2-11h0m0 11h0m1-7h0m1-4h0m0 3h0m0 2h0m0 2h0m2-4h0m0 7h0m2-7h0m1 4h0m0-3h0m1 6h0m1-6h0m0-1h0m1 8h0m0-2h0m2-7h0m2 9h0m1-7h0m1 6h0m0-1h0m2-6h0m0 5h0m1-8h0m0 4h0m3 3h0m0 4h0m1-7h0m1 3h0m4-3h0m3-1h0m0 5h0m1-7h0m0 2h0m0 6h0m2-1h0m0-4h0m1 3h0m2 1h0m1-2h0m0-4h0m1 7h0m1-4h0m0 3h0m2 3h0m0-4h0m0-2h0m4-4h0m0 4h0m1-2h0m1-3h0m0 7h0m1-5h0m1-1h0m1 10h0m2-11h0m0 2h0m0 4h0m1 4h0m6-4h0m3-2h0m0 6h0m0-8h0m1 6h0m0-5h0m1 3h0m1 0h0m1-2h0m1-3h0m0 5h0m1 3h0m0-5h0m1 0h0m2 7h0m3-5h0m2-6h0m1 6h0m1 5h0m1-1h0m1-9h0m0 4h0m1 3h0m0-3h0m2 4h0m0-2h0m1 3h0m0-10h0m0 3h0m1 1h0m1 3h0m0-4h0m1 0h0m1 2h0m3-5h0m3 2h0m0-2h0m0 11h0m1-1h0m1-3h0m0 2h0m0-6h0m1 2h0m1 4h0m0-3h0m0-3h0m0 8h0m0-10h0m1 0h0m1 9h0m0-7h0m0 2h0m1 1h0m3-3h0m1 6h0m1-8h0m2 10h0m0-3h0m0-6h0m0 4h0m1 2h0m0 3h0m0-11h0m2 2h0m0-1h0m0 7h0m2 3h0m1-10h0m2 9h0m1-7h0m0 1h0m1-4h0m0 6h0m1-5h0m0 8h0m1-4h0m1 5h0m0-2h0m0-8h0m1 6h0m0-4h0m1 0h0m1 5h0m0 1h0m0 2h0m2-1h0m0-8h0m0 6h0m1 4h0m1-10h0m210 6h0m2-3h0m2 7h0m1-9h0m32 13h0m-7 2h0m-11-2h0m-8 7h0m-5 1h0m-1-7h0m-2 5h0m-1-6h0m0 2h0m-2-5h0m-208 4h0m-1-4h0m-1 10h0m-2-4h0m-1 5h0m-2-3h0m0-8h0m0 11h0m-1-3h0m-2 1h0m-5-2h0m-1 1h0m0-2h0m0-1h0m-1 5h0m0-7h0m-1 1h0m0-4h0m0 9h0m0-3h0m-1-3h0m-2 0h0m-1 0h0m0 1h0m0 3h0m-2-7h0m0 2h0m-2 6h0m-1-1h0m-1 3h0m0-6h0m-2 2h0m0 5h0m-2-9h0m-1 5h0m-1-3h0m-1-1h0m0-2h0m0 8h0m-1-8h0m0 10h0m-1-6h0m-1 1h0m0-3h0m-2-2h0m-1 10h0m0-8h0m-3-3h0m0 2h0m-1 3h0m-1 2h0m0-2h0m-3-5h0m-1 2h0m-2 7h0m-2-1h0m-1-4h0m0 6h0m-1-6h0m0-2h0m-1 6h0m0-8h0m-2 8h0m0 2h0m-1-1h0m0-7h0m-2 4h0m0-3h0m-3-1h0m-2 6h0m-1-4h0m-1 5h0m-1-9h0m-1 11h0m0-3h0m-1-7h0m0 7h0m-1-3h0m0 6h0m0-5h0m-4 3h0m0-8h0m-2 3h0m-3-2h0m-3 6h0m0-2h0m0-5h0m0 4h0m0 6h0m-2-10h0m-2 5h0m-1 3h0m-7-5h0m-4-3h0m0 6h0m-1-6h0m-1 8h0m-1-1h0m0-1h0m-3-2h0m-6-1h0m-3-2h0m0 4h0m-1 5h0m-1-1h0m0-8h0m-2 1h0m-1 1h0m-1 3h0m-3 1h0m-7 1h0m-2-9h0m-3 7h0m0 1h0m-7-4h0m-3 0h0m-2-3h0m-1 4h0m-1-4h0m0 10h0m-3-9h0m7 13h0m7 3h0m2 2h0m6-2h0m3-3h0m0 3h0m1 3h0m0 2h0m7-9h0m2 5h0m1-7h0m1 4h0m1 7h0m0-2h0m1 2h0m3-4h0m1 3h0m2-1h0m3-9h0m5 3h0m3-2h0m4 2h0m1-1h0m2 3h0m2 1h0m0 3h0m1-9h0m0 4h0m1 7h0m1-3h0m1-2h0m1-6h0m1 4h0m2-3h0m1 2h0m1-3h0m1 4h0m1-3h0m0 4h0m2 4h0m0-8h0m4 0h0m1 7h0m0 2h0m1-9h0m3 1h0m1 2h0m0 4h0m1-7h0m1-1h0m0 11h0m2-1h0m1-8h0m1 5h0m1-6h0m1 6h0m3 3h0m1-9h0m1 10h0m3-6h0m0 2h0m1 4h0m1-2h0m0-5h0m6 4h0m1-4h0m2 4h0m2-4h0m0 7h0m1-6h0m1 6h0m0-10h0m1 6h0m4-4h0m1 3h0m0 5h0m2-5h0m1-1h0m0 5h0m0-1h0m3-9h0m0 7h0m0-2h0m1 0h0m2 1h0m0-1h0m3-3h0m0 6h0m3 3h0m3-2h0m2-2h0m0-2h0m1 1h0m1 4h0m0-9h0m1 5h0m1 5h0m223-6h0m0 5h0m6 1h0m2-11h0m10 23h0m-6-7h0m-4-4h0m-7 1h0m-179 8h0m-2 0h0m-4-5h0m-4 1h0m-1 4h0m-2 1h0m0-4h0m-28 5h0m0-11h0m-4 2h0m-1 2h0m-1 4h0m-2-1h0m-3-6h0m0 9h0m-1-5h0m0 2h0m-4 0h0m0 1h0m-1-5h0m-4 2h0m-1 0h0m-2 0h0m0 4h0m-2-5h0m0 5h0m-1-6h0m-2-1h0m-2 1h0m-4 3h0m-1 5h0m-2-5h0m-4 5h0m0-8h0m-3 3h0m-1 3h0m-2-6h0m-1 3h0m-1 3h0m-1-3h0m-1 0h0m0-2h0m-3 5h0m0-4h0m-3 2h0m-1-6h0m0 10h0m-1-4h0m0-5h0m-1 8h0m-5-9h0m0 5h0m0 3h0m-1-6h0m-2 7h0m-3-7h0m0 3h0m-11-3h0m-2-3h0m0 3h0m-3 7h0m-1-1h0m-4-2h0m-2 0h0m-1 1h0m-4-5h0m-1 5h0m-1-3h0m-6-5h0m-2 0h0m0 9h0m-4 1h0m-1-8h0m-3 9h0m-6-2h0m-3 1h0m-4-4h0m-2 1h0m-3-6h0m-2-1h0m-4 10h0m-1-4h0m-6-4h0m8 14h0m1 6h0m7-9h0m2 2h0m2 2h0m0-4h0m2 0h0m1 10h0m2-1h0m3-5h0m0 2h0m2-7h0m0 3h0m2 2h0m3-1h0m1 1h0m0-5h0m4 9h0m1-6h0m6-2h0m2 4h0m2-3h0m9 1h0m1 4h0m4-1h0m0-2h0m2-2h0m2-2h0m1 5h0m1-5h0m1 1h0m0 6h0m0 3h0m0-2h0m1-4h0m1 7h0m1-10h0m1 7h0m0 2h0m1-3h0m1 1h0m1-5h0m0 1h0m6-4h0m0 11h0m2-11h0m5 4h0m1-2h0m1 0h0m2-1h0m4 0h0m2 10h0m2-9h0m1 6h0m1-3h0m2-2h0m2 0h0m1 1h0m1 5h0m1 1h0m2-2h0m2 1h0m1-1h0m2-7h0m1 4h0m1 3h0m2-3h0m0 5h0m3-6h0m0 4h0m2-1h0m0 1h0m2-2h0m1 5h0m0-5h0m3-4h0m0-2h0m3 11h0m0-9h0m0 2h0m3-1h0m5 2h0m27 1h0m1-6h0m3 11h0m2-4h0m8 1h0m2-7h0m1 7h0m1-6h0m0 3h0m144 6h0m1-5h0m3-1h0m1-5h0m2 2h0m5 2h0m1-1h0m2-2h0m1 7h0m0-2h0m30-5h0m4 9h0m3 12h0m-3 1h0m0-4h0m-1-5h0m-3 3h0m-30-5h0m-3 6h0m-2-3h0m-1 2h0m0-2h0m-5 0h0m-154-2h0m-37-1h0m-1 7h0m-3-4h0m-2 0h0m-2 3h0m-4 5h0m0-11h0m-1 6h0m-2-2h0m-6 2h0m0 3h0m-5-7h0m-1 3h0m-2-4h0m-1 6h0m-4-4h0m0 2h0m-1 6h0m-8-3h0m-3-3h0m-2 2h0m-2 1h0m-2-3h0m-15-3h0m-5 5h0m0-6h0m-2 0h0m-2 3h0m-1 3h0m-6-6h0m-1 4h0m-1 5h0m0-9h0m-1 2h0m-1 3h0m-3-4h0m-1 6h0m-2-5h0m-2 4h0m0-4h0m-2 0h0m-3 1h0m-1 7h0m-14 0h0m-5-5h0m-2 3h0m-1-9h0m-1 4h0m-9-3h0m-10 4h0m-2 6h0m-4-10h0m13 13h0m4 3h0m7 3h0m4 3h0m2-6h0m3-3h0m2 7h0m1-2h0m4 2h0m1-3h0m4 1h0m2-3h0m4-4h0m16 6h0m2-5h0m3 10h0m2-4h0m6 1h0m0-1h0m2-3h0m3-1h0m2 3h0m0-4h0m1 9h0m5-7h0m0-1h0m3 0h0m1 4h0m6-7h0m13 0h0m7 0h0m4 0h0m262 6h0m2-5h0m0 15h0m-3 6h0m-2-10h0m-1 11h0m-41 0h0m-1-5h0m-3 2h0m-146-2h0m-1-2h0m-4-2h0m-2 2h0m-1 5h0m-2 2h0m0-4h0m-98-7h0m-3 7h0m-1 3h0m-11-3h0m-1-4h0m-16 3h0m-2 5h0m-3-10h0m-4-1h0m-5 11h0m-1-11h0m-3 5h0m-9 0h0m-3 0h0m-1-5h0m-1 8h0m-10 2h0m-16-4h0m22 10h0m4 4h0m0-8h0m2 6h0m16 0h0m1-5h0m4 2h0m2 3h0m6-2h0m1-1h0m19-1h0m1 2h0m2-4h0m4 1h0m5 0h0m97 0h0m1 10h0m6-1h0m2 1h0m3-6h0m2-5h0m138 6h0m2 5h0m1-9h0m1 8h0m1-10h0m5 11h0m3-9h0m1 3h0m2 5h0m32 0h0m1-8h0m3 2h0m1 5h0m5 2h0m5-5h0m-2 8h0m-5-2h0m-6 10h0m-1-10h0m-1 7h0m-36-6h0m-2 1h0m-5 1h0m-2 0h0m-150 1h0m-1-2h0m-2 1h0m-140 5h0m-1-2h0m-2 0h0m-5 4h0m-2-3h0m-1 2h0m-6-4h0m-1-5h0m-1 9h0m-1-3h0m-1-4h0m-3 8h0m-3 5h0m0 8h0m4-11h0m10 9h0m0-5h0m1-3h0m12 7h0m0-5h0m2 7h0m1-9h0m336 2h0m4-3h0m1 9h0m2-8h0m4 17h0m-5 5h0m-1-8h0m-4 7h0m-18 1h0m-230-9h0m-1 5h0m-9 0h0m-3 4h0m-1-4h0m-1 3h0m-29 1h0m-5-5h0m-4 4h0m-6 1h0m-36-10h0m0 3h0m-4-1h0m-1 2h0m-3-1h0m-2-2h0m-9 6h0m-5-5h0m-5-2h0m0 18h0m5-7h0m6 10h0m0-9h0m1 6h0m49 3h0m0-7h0m1 6h0m0-6h0m9 8h0m7-6h0m28 2h0m2 3h0m0-10h0m2 5h0m0-5h0m8 11h0m7-3h0m1 3h0m1-10h0m1 6h0m220 4h0m4-1h0m1-7h0m1-2h0m4 3h0m1-2h0m5 6h0m1-2h0m7-2h0m1-3h0m1 10h0m0-8h0m8 15h0m-3 5h0m-2-1h0m-16-6h0m-6 2h0m-1 2h0m-3-6h0m-2 2h0m-13 7h0m-7 0h0m-42 0h0m0-6h0m-6 0h0m-1 4h0m-6 0h0m-105 2h0m-6-2h0m-3 1h0m-34-10h0m-3 0h0m-2 3h0m-6-2h0m-2 1h0m-37 2h0m-2-4h0m-4 0h0m-2 1h0m-3 3h0m-53-1h0m-2 1h0m-2-4h0m-1 4h0m-4 0h0m-4 6h0m0 9h0m7 4h0m0-6h0m143 5h0m1 1h0m4-4h0m2 2h0m0-6h0m5 8h0m9-10h0m2 10h0m1-5h0m1-5h0m1 9h0m1-6h0m20 7h0m79-4h0m0 1h0m2-8h0m5 10h0m6 1h0m1-10h0m3 8h0m17 1h0m0-5h0m2-3h0m2 2h0m1 3h0m7 3h0m0-9h0m1 8h0m1-2h0m11 1h0m1-2h0m1-6h0m37 3h0m3 6h0m2-1h0m7 10h0m-7-5h0m-1 8h0m-41-8h0m-6 1h0m-2 1h0m-5-3h0m-5 6h0m-2 5h0m-5-3h0m-4-6h0m-20-2h0m-81 7h0m0 1h0m-2 2h0m-4-7h0m-6 2h0m0-4h0m-2 4h0m0 3h0m-20-7h0m-8 3h0m-1-2h0m-2 8h0m-3-7h0m-1 1h0m-7-4h0m-3 11h0m-2-3h0m0-1h0m-74-1h0m-1 2h0m-1 1h0m-3-2h0m-4-1h0m-6 1h0m0 2h0m-9 2h0m-5-1h0m0-6h0m-1 4h0m0-5h0m-3 1h0m-1 0h0m0-1h0m-4 5h0m-5 3h0m-8 0h0m-6-3h0m0-1h0m-7-7h0m-1 7h0m-1-2h0m0-4h0m-9 14h0m17 6h0m3-6h0m1 8h0m0-5h0m10-2h0m0-2h0m6 6h0m1 0h0m1-1h0m8 1h0m0-7h0m4-1h0m11 3h0m7 5h0m4-2h0m3-2h0m79 2h0m0 5h0m0-8h0m4 4h0m1-5h0m2 0h0m33 0h0m0 5h0m4-3h0m8 1h0m113-4h0m60 8h0m0-3h0m1 8h0m-1 5h0m-2 3h0m-61-1h0m-2-5h0m-2 3h0m-6-3h0m-5-3h0m-1 1h0m-2 5h0m0 4h0m-132 0h0m-4-11h0m0 6h0m-3-4h0m-1 2h0m-2-2h0m-2 3h0m-2 0h0m-2 3h0m-2-6h0m-3 5h0m-2-1h0m-2-3h0m-2 2h0m-1 3h0m-67-7h0m-7-1h0m-27 0h0m-15 11h0m-2-1h0m-2-4h0m-3 3h0m-1-9h0m0 7h0m-4 3h0m-6-1h0m10 13h0m0-7h0m3 7h0m8-1h0m3-3h0m2-1h0m110 0h0m4 2h0m3 0h0m13 2h0m1-2h0m0 2h0m6-6h0m21 8h0m4 0h0m1-4h0m6 3h0m0-5h0m6 5h0m60-3h0m0 1h0m4 1h0m1-4h0m5 5h0m1-4h0m3 3h0m13 1h0m3-5h0m0-5h0m5 6h0m1 4h0m9-1h0m2-8h0m1 9h0m1-10h0m2 5h0m49-3h0m3 2h0m1 7h0m3-11h0m5 2h0m4 7h0m3 10h0m-8 4h0m-5-7h0m0-4h0m-4 1h0m-63 4h0m-2-3h0m-2 4h0m-1 2h0m-3 3h0m-4 0h0m-3-8h0m-2-1h0m-7 3h0m0-2h0m-3 5h0m-2 2h0m-4-1h0m-3 0h0m-2-2h0m-1-7h0m-3 2h0m-56 1h0m0 6h0m-3 2h0m-1-10h0m-10 7h0m-3-4h0m-1 3h0m-27-4h0m-3 1h0m-1-3h0m-2 0h0m-3 0h0m-2 3h0m-126 0h0m-2-4h0m-4 3h0m-5 7h0m-1-2h0m-2-4h0m-4 1h0m4 11h0m4 0h0m2-3h0m1 1h0m2 3h0m3-2h0m2 1h0m1 5h0m1-4h0m62 0h0m0 6h0m4 0h0m4 0h0m83-5h0m2-3h0m0 6h0m0-2h0m4-4h0m1 5h0m1-4h0m11 0h0m0-3h0m70-1h0m25 1h0m5 0h0m77-1h0m1 9h0m1-7h0m6 2h0m-4 18h0m-4-2h0m-2-8h0m-1 0h0m0 11h0m-4 0h0m-4 0h0m-47 0h0m-3 0h0m-68-3h0m-3 3h0m-5-2h0m-20 1h0m-5-2h0m-19-6h0m0 5h0m-6 0h0m-3 2h0m-4-1h0m-2-3h0m-2 5h0m-2-4h0m-45 3h0m-4-5h0m-2 1h0m-7 1h0m0 5h0m-20-3h0m-2-3h0m-3-5h0m-1 11h0m-8-5h0m-1-3h0m-1 5h0m-55-6h0m-1 5h0m0 1h0m-1-8h0m-1 7h0m-5 4h0m-5-1h0m-3-6h0m-4-1h0m1 11h0m5 9h0m1-1h0m3-7h0m4-2h0m3-1h0m61 1h0m2 1h0m3 1h0m5-2h0m18 3h0m3-2h0m1 9h0m1-6h0m11 2h0m0-6h0m3 1h0m0 2h0m33 7h0m7 0h0m2-2h0m12-8h0m18 3h0m3 2h0m2-6h0m5 0h0m4 0h0m1 4h0m18 6h0m0-10h0m0 4h0m1 4h0m0-1h0m6-7h0m3 11h0m2-8h0m1-3h0m4 7h0m34-2h0m1 4h0m1-1h0m3-2h0m1 1h0m5-1h0m7 4h0m1-5h0m6 0h0m6-1h0m1-4h0m3 6h0m1 5h0m2-5h0m33 2h0m2-5h0m1 7h0m2-8h0m6 0h0m3 5h0m2-3h0m0 5h0m7 13h0m-3-3h0m-4-4h0m-5-1h0m-3 0h0m-1 4h0m-2-1h0m-41 2h0m-1-4h0m-4 1h0m-1 6h0m-2-4h0m-2-3h0m-1 3h0m-4-6h0m-4 6h0m-1-4h0m-2 7h0m-2-9h0m-5 11h0m-4-3h0m-1 0h0m-2-1h0m-2-1h0m0 2h0m-2-7h0m-37 1h0m-1 0h0m-2 2h0m-4 0h0m-1-3h0m-22-1h0m0 9h0m-4-2h0m-5-2h0m-4-2h0m-25 5h0m-3-8h0m-4 1h0m-2 0h0m-2 3h0m-1 5h0m-3-2h0m-37-1h0m-3-1h0m-2-3h0m-2 3h0m-3-3h0m0 2h0m-92 2h0m-1 5h0m-5-7h0m-1 4h0m-4 2h0m-6-7h0m-3 6h0m8 6h0m14-2h0m1 5h0m1 3h0m141-6h0m1 3h0m3-5h0m1 0h0m1 5h0m115-6h0m9 1h0m84 0h0m0 5h0m-4 6h0m-3 4h0m-2-4h0m-2 7h0m-2 3h0m-87-3h0m-3 2h0m0-6h0m-1 4h0m-4-1h0m-5 0h0m-4 4h0m-35-1h0m-110 2h0m-93-5h0m0 4h0m-6-2h0m-1-7h0m-1 4h0m-4 6h0m-1-7h0m-4 13h0m13 3h0m8-5h0m1 1h0m85 6h0m2-3h0m2-2h0m1-5h0m3 2h0m2 2h0m2 2h0m1 4h0m3-5h0m89-2h0m2 1h0m1 7h0m4-9h0m6 2h0m3 2h0m0 2h0m31-5h0m3 4h0m3 3h0m2 0h0m3-8h0m0 2h0m2 0h0m1-3h0m4 4h0m4 3h0m80-5h0m2 7h0m2-3h0m2-3h0m7 4h0m-2 15h0m-2-9h0m-9 3h0m-1 3h0m-2-5h0m-77 7h0m-2-5h0m-6 5h0m-2-7h0m-2-2h0m-41 2h0m-2 4h0m-2 1h0m-4-3h0m-1-2h0m-6-2h0m-75 10h0m-2-5h0m-6-1h0m-3 3h0m-1 2h0m-3-7h0m-1 2h0m-2-2h0m-3 7h0m-2-5h0m-2 2h0m-4-2h0m-1-5h0m-2 5h0m-69 6h0m-6-4h0m-3 1h0m-1-2h0m-1 3h0m-4 1h0m-2-5h0m-4 0h0m0 3h0m-5-3h0m-2-2h0m13 13h0m2 0h0m3-4h0m7 10h0m1-10h0m4 8h0m0-7h0m1 4h0m86-4h0m6 4h0m6-5h0m158 11h0m17-2h0m6 2h0m5-1h0m22 0h0m0-3h0m2 2h0m7-5h0m1-4h0m5 10h0m2 0h0m2-8h0m5 2h0m2 16h0m-1-5h0m-3 5h0m-5 1h0m0-5h0m-2-4h0m-1 7h0m-3 2h0m0-5h0m-5 0h0m-6-2h0m-20 4h0m-1 4h0m-2-9h0m-1 0h0m-1 10h0m-3 0h0m-7 0h0m0-8h0m-3 2h0m-1 5h0m-1 1h0m-1-7h0m-5-3h0m-1 4h0m-4-4h0m-1 2h0m-2 5h0m-2 2h0m-4-1h0m-249-7h0m-7-1h0m-5 2h0m0 5h0m-4-7h0m-2 5h0m-21 1h0m8 7h0m15 2h0m3 6h0m204-1h0m3 2h0m3-4h0m2 0h0m1 1h0m5 3h0m1-2h0m44-7h0m1 4h0m1 3h0m2-2h0m3 1h0m3 2h0m2-4h0m5 2h0m0-6h0m1 2h0m2-4h0m9 1h0m2 3h0m3-2h0m44 9h0m0-10h0m5 9h0m6 5h0m-3 2h0m-44 4h0m0-5h0m-2-1h0m-2-3h0m-6 6h0m-1 1h0m-4 1h0m-21-7h0m-50 8h0m-1-6h0m-3 6h0m-4 0h0m-4-3h0m-3-5h0m-200 0h0m-1 9h0m-5-10h0m-12 0h0m12 18h0m4 2h0m4-8h0m2 10h0m280-7h0m2 4h0m2-3h0m1-4h0m8 8h0m3-2h0m1 2h0m2-6h0m34 6h0m2-2h0m3-6h0m2 19h0m-5-7h0m-2 7h0m-46-6h0m-224 7h0m-3 0h0m-2-4h0m-4 2h0m-6 5h0m-49-7h0m-2 0h0m-24-2h0m25 13h0m0 2h0m1 6h0m35-1h0m4 1h0m2-2h0m1-2h0m3 4h0m3-11h0m4 0h0m0 9h0m3-3h0m3 5h0m3 0h0m1-4h0m3-2h0m2-5h0m262 3h0m0 7h0m3-3h0m0 3h0m3-10h0m8 1h0m2 10h0m-9 7h0m-4-1h0m-2 4h0m-37-3h0m-1 4h0m-3-3h0m-144 2h0m-3-3h0m0-4h0m-5 7h0m-1-5h0m-1 6h0m-1-4h0m-86 1h0m-3-5h0m-1 6h0m-2-8h0m0 10h0m-3 1h0m-3-11h0m-4 8h0m-2 0h0m-18-1h0m-3 2h0m-3-8h0m2 13h0m5 4h0m0 4h0m22-7h0m5-3h0m91 4h0m2-1h0m1 1h0m1 6h0m1 0h0m5-1h0m5-9h0m1 4h0m3-2h0m46 7h0m4-1h0m4 3h0m58-3h0m0-3h0m2 5h0m6-5h0m3 0h0m1 4h0m3 1h0m2-6h0m3 1h0m2-5h0m1 8h0m3 1h0m7-6h0m7 6h0m4-3h0m3 4h0m19-8h0m2 6h0m0-4h0m2-3h0m0 8h0m1-2h0m9 0h0m5-3h0m-7 10h0m-3 1h0m0 6h0m-3-4h0m0-3h0m-1 9h0m-18-7h0m-4 2h0m-5 4h0m-6-2h0m-1-1h0m-2-6h0m-1 8h0m-3-8h0m-11 7h0m0-6h0m-2 5h0m-1-4h0m0 3h0m0 4h0m-7 1h0m-9-1h0m-1-10h0m-4 8h0m-1-4h0m-49 4h0m-2-2h0m-7-6h0m-5 7h0m-1 3h0m-2-4h0m-55-6h0m-116 8h0m-6-3h0m-6-2h0m9 12h0m1 2h0m3 1h0m6 3h0m1-1h0m130 0h0m1-2h0m3 1h0m2-1h0m5 2h0m0-4h0m1-1h0m22-3h0m5 7h0m0-4h0m4 0h0m6 2h0m3-5h0m51 1h0m3 1h0m5 2h0m1-4h0m3 1h0m30 2h0m3-1h0m2 1h0m25-2h0m2 8h0m7-3h0m-4 16h0m-2-7h0m-2-3h0m-1 5h0m-47 0h0m-1 5h0m-4-2h0m-2 2h0m-95 1h0m-8-10h0m-3 10h0m-3-4h0m-1 3h0m-7-3h0m-1 3h0m-1-10h0m-2 5h0m-1-3h0m-128 6h0m-3 0h0m0-8h0m-1 7h0m-3 0h0m-11-4h0m-15 0h0m33 16h0m0-7h0m3 10h0m2-7h0m2 6h0m142 0h0m1-5h0m1 6h0m1-4h0m2-3h0m3-2h0m4 3h0m3 5h0m1-8h0m1 4h0m82 3h0m1-3h0m3 5h0m3 1h0m5-11h0m0 9h0m3 2h0m1-5h0m36 1h0m1-5h0m0 9h0m11-3h0m8-8h0m-3 12h0m-13 5h0m-2 0h0m-43-3h0m-1 2h0m0-4h0m-5 1h0m-3 1h0m-83 2h0m-1 2h0m-6 0h0m-4 1h0m-8-1h0m0-5h0m-135 6h0m-2 1h0m-5-8h0m-9 0h0m-11 12h0m13 8h0m10 2h0m6-7h0m1 2h0m3-3h0m103 9h0m3-2h0m2-2h0m9 1h0m19-7h0m30 8h0m1-5h0m1 3h0m3 1h0m2-3h0m2-2h0m1 2h0m1 4h0m3-1h0m107 1h0m3-4h0m0-5h0m10 23h0m-4 0h0m-11-11h0m-1 9h0m-1-3h0m-101 1h0m-2-6h0m-2 3h0m-4 7h0m-3 0h0m-4-2h0m-3-6h0m-46 0h0m-2 1h0m-2-4h0m-1 9h0m-7 1h0m-2-4h0m-4-4h0m-100 5h0m-2-2h0m-1-3h0m-1 8h0m-10-5h0m4 8h0m7 2h0m1 8h0m6-3h0m1-5h0m3 3h0m3 2h0m96-7h0m4-1h0m2 0h0m51 0h0m7 0h0m2 2h0m3 2h0m107-4h0m4 9h0m2 2h0m1-10h0m7 0h0m-1 15h0m-1 0h0m-8 1h0m0-3h0m-6 3h0m-17-2h0m0 5h0m-2-4h0m-1-4h0m-2 4h0m-2-3h0m-4 5h0m-2-3h0m-197 5h0m-4 0h0m-39-4h0m-2-1h0m-5 8h0m-4-3h0m-3-3h0m14 9h0m2 6h0m2-6h0m2 5h0m26-2h0m0 3h0m2-2h0m5-4h0m7 2h0m1 4h0m2-6h0m38 5h0m3-5h0m2 4h0m4-2h0m1 2h0m2 5h0m3-2h0m138-8h0m1 2h0m0 7h0m1-5h0m9 5h0m1-4h0m0-3h0m1 0h0m0 3h0m20-4h0m3 7h0m6 1h0m3-3h0m0 14h0m-1-5h0m-183 1h0m-2-5h0m-2 7h0m-7 3h0m-1-5h0m-2-3h0m0 5h0m-3-7h0m-36 1h0m-10 0h0m-1 6h0m-3-6h0m-26 10h0m-5-9h0m-2 6h0m-3-5h0m2 15h0m6-1h0m3-1h0m7 7h0m260-2h0m3-6h0m4-1h0m-6 19h0m-3-2h0m-1-5h0m-3 0h0m-252 2h0m-1 6h0m-2-2h0m-1-6h0m-2 0h0m-36 3h0m36 14h0m1-4h0m11 7h0m236-1h0m1-3h0m6-1h0m0-2h0m4 8h0m5-5h0m0-3h0m1-1h0m1 7h0m6-4h0m-2 12h0m-4 6h0m-6-7h0m0-3h0m-1 10h0m-5-5h0m-9-1h0m0-3h0m-1-1h0m-87 10h0m-3-3h0m-4 3h0m-135-4h0m0 2h0m-3-7h0m-1 8h0m0-3h0m-7-7h0m-10 0h0m17 13h0m2 5h0m0-6h0m39 10h0m1-1h0m6 2h0m3 0h0m84 0h0m1-6h0m4-4h0m2-1h0m7 0h0m0 9h0m0-5h0m1 0h0m0-1h0m1 7h0m43 1h0m45-6h0m1-4h0m1 7h0m10-4h0m2-1h0m0 6h0m3-8h0m1 7h0m2-2h0m-5 6h0m-3 10h0m-2-6h0m-3 4h0m0-5h0m-1 5h0m-2-4h0m-1-3h0m-14 5h0m-2 2h0m-2-2h0m-1 4h0m-3-2h0m-17-7h0m-2 5h0m-3-3h0m-4-2h0m-3 2h0m-4 6h0m-1-3h0m-1 4h0m0-4h0m-1-3h0m-6 3h0m-2-4h0m-2 5h0m-3-4h0m-1 3h0m-3 3h0m-19-5h0m0-1h0m-6 1h0m0-3h0m-1 10h0m-2-11h0m-2 8h0m-1-5h0m-23 6h0m-8-4h0m0 6h0m-5-1h0m-6-7h0m-3 4h0m-4 1h0m-2-4h0m-2-3h0m-5 5h0m-1-3h0m-4 6h0m-18-2h0m-1 4h0m-1-3h0m0-2h0m-3-3h0m-2-3h0m-7 2h0m-1 3h0m-7 6h0m-5 0h0m-7-2h0m-5 1h0m-7 1h0m-9-3h0m-1-7h0m3 18h0m3-7h0m11 4h0m8-4h0m7 2h0m2 8h0m4-9h0m0 6h0m1-7h0m1 4h0m4-2h0m5 1h0m7-2h0m4 8h0m8 1h0m3-8h0m2 4h0m2-6h0m10 9h0m30-3h0m4 5h0m5-6h0m2 5h0m2-9h0m5 2h0m6-3h0m5 9h0m0-8h0m3 8h0m3-4h0m2-1h0m6-3h0m0 3h0m1-2h0m4 0h0m8 0h0m0 9h0m2-7h0m12 5h0m2-4h0m1-4h0m10 2h0m6 1h0m7 0h0m4-3h0m5 0h0m0 8h0m3-9h0m2 11h0m6-3h0m1-8h0m2 4h0m5 0h0m4-3h0m2 8h0m5-9h0m10 0h0m-13 15h0m-5-3h0m-46 11h0m-3-7h0m-9 4h0m-1-2h0m-28-3h0m-11 0h0m-8 5h0m-11 2h0m-2-8h0m-19 6h0m-2-5h0m-7-2h0m-5 8h0m-12 0h0m-14-9h0m-2 10h0m-1-7h0m-2 3h0m-7 4h0m-11-4h0m-10-4h0m9 15h0m18 3h0m9-5h0m28 4h0m5-6h0m3 0h0m11 4h0m4 1h0m14 1h0m1 3h0m15-3h0m8-2h0m17-4h0m6 7h0m4 3h0m2-7h0m28-3h0m2 6h0m1-5h0m0 6h0m11-4h0m7 1h0m2 5h0m9-3h0m-2 7h0m0 7h0m-5-3h0m-17 2h0m-16-6h0m-6 9h0m-26-10h0m-2 4h0m-12 6h0m-13-3h0m-3-5h0m-9 4h0m-4-5h0m-6-2h0m-6 2h0m0 7h0m-9-2h0m-8 4h0m-7-4h0m0 3h0m-43-10h0m-10 11h0m-5-5h0m2 13h0m2-4h0m6 2h0m22-5h0m0 4h0m7 3h0m17 4h0m1-9h0m15 9h0m14 0h0m35-8h0m7 7h0m6-6h0m11 6h0m2 0h0m5-3h0m24-6h0m18 8h0m10-5h0m8-1h0m7 8h0m16 6h0m-3 0h0m-4 0h0m-5 0h0m-3 0h0m-3 0h0m-5 0h0m-3-4h0m-1 4h0m-2 0h0m-7 0h0m-2 0h0m-4 0h0m-10 0h0m-4 0h0m-4 0h0m-8 0h0m-4 0h0m-1 0h0m-6 0h0m-5 0h0m-1 0h0m-7 0h0m-2 0h0m-4 0h0m-2-5h0m-4 5h0m-1 0h0m-6 0h0m-5 0h0m-3-1h0m-3 1h0m-6 0h0m-2-5h0m0 5h0m-4 0h0m-5 0h0m-2 0h0m-4 0h0m-5 0h0m-4 0h0m-6 0h0m-1 0h0m-6 0h0m-2 0h0m-4 0h0m-2-5h0m-5 5h0m-2 0h0m-5 0h0m-4 0h0m-2 0h0m-6 0h0m-2 0h0m-7 0h0m-2 0h0m-5 0h0m-4 0h0m-5 0h0m-4 0h0m-4 0h0m-4-1h0m-1 1h0m-7 0h0m-2 0h0m-5 0h0m-3 0h0"/>
<path id="daf" d="M534 176h5v3h-5zM480 179h6v3h-6zM534 179h12v3h-12zM477 182h11v3h-11zM500 182h5v3h-5zM536 182h12v3h-12zM478 185h33v3h-33zM537 185h21v3h-21zM564 185h5v3h-5zM478 188h34v3h-34zM536 188h35v3h-35zM482 191h6v3h-6zM532 191h20v3h-20zM559 191h11v3h-11zM534 194h8v3h-8zM299 203h5v3h-5zM297 206h7v3h-7zM297 209h9v3h-9zM300 212h7v3h-7zM301 215h5v3h-5zM288 218h8v3h-8zM299 218h8v3h-8zM285 221h10v3h-10zM300 221h7v3h-7zM286 224h10v3h-10zM299 224h8v3h-8zM280 227h26v3h-26zM280 230h27v3h-27zM288 233h17v3h-17zM271 236h5v3h-5zM290 236h16v3h-16zM269 239h18v3h-18zM288 239h19v3h-19zM268 242h6v3h-6zM276 242h30v3h-30zM278 245h9v3h-9zM288 245h19v3h-19zM276 248h9v3h-9zM290 248h18v3h-18zM277 251h10v3h-10zM288 251h20v3h-20zM277 254h31v3h-31zM268 257h12v3h-12zM281 257h27v3h-27zM261 260h16v3h-16zM283 260h23v3h-23zM265 263h11v3h-11zM282 263h24v3h-24zM266 266h7v3h-7zM280 266h27v3h-27zM265 269h8v3h-8zM277 269h30v3h-30zM274 272h33v3h-33zM278 275h29v3h-29zM280 278h24v3h-24zM279 281h7v3h-7zM289 281h13v3h-13zM277 284h8v3h-8zM290 284h14v3h-14zM271 287h16v3h-16zM288 287h8v3h-8zM270 290h23v3h-23zM275 293h9v3h-9z"/>
<path id="da" vector-effect="non-scaling-stroke" d="M392 130h0m36 1h0m19-3h0m29 10h0m-27 3h0m-8 0h0m-5-4h0m-4 6h0m-4-5h0m-11-6h0m0 7h0m-8 4h0m0-4h0m-2 4h0m-1-8h0m-3 0h0m-10 6h0m-5-3h0m21 10h0m9 1h0m2-1h0m9 2h0m3-5h0m29 7h0m1-5h0m6 8h0m2-10h0m11 5h0m2-3h0m13-3h0m5 1h0m23 1h0m4 8h0m1-3h0m9-4h0m8 2h0m8-1h0m16 5h0m1 10h0m-10-7h0m-4 10h0m-9-2h0m-8-3h0m-28-1h0m-3 5h0m-18 0h0m-18-2h0m-24-4h0m-1 1h0m-12 6h0m-27-7h0m-2 1h0m0-2h0m-34 2h0m-4 7h0m-113 10h0m135-7h0m5 4h0m1 5h0m13-11h0m0 11h0m4-6h0m4-4h0m1 8h0m33-1h0m6-4h0m26 6h0m29 1h0m6-1h0m15 1h0m1-6h0m9 5h0m15-7h0m5 4h0m1-7h0m7 8h0m5-5h0m1 2h0m3 3h0m96 13h0m-7 1h0m-32 1h0m-11-7h0m-56 3h0m-5-1h0m-1 4h0m-2-3h0m-1 2h0m-5 1h0m-2-5h0m-7 2h0m-3-5h0m0 6h0m-1-4h0m-4 3h0m-2 0h0m-12 4h0m-2-6h0m-3 3h0m-9 2h0m-1 0h0m-5-5h0m-4-3h0m-6 7h0m-2 1h0m-1-6h0m-2 4h0m-3-2h0m-2 5h0m-6-2h0m-1-3h0m-1 4h0m-2-9h0m-12 9h0m-8-1h0m-1 1h0m-6-3h0m-4-2h0m-1 6h0m-1-4h0m0-2h0m-3 4h0m-3 0h0m-6-1h0m-1-5h0m0 1h0m0 7h0m-2 0h0m-1-6h0m-3 1h0m-2 4h0m-1 0h0m-1-10h0m0 9h0m-2 1h0m0-1h0m-1-1h0m-1 3h0m-1-7h0m-4 6h0m-7-7h0m-1 1h0m-1 7h0m-1-4h0m-1-3h0m-3 4h0m-2-5h0m0 2h0m-5 2h0m-14-6h0m-24 4h0m-54-2h0m0 3h0m-46-4h0m-26 0h0m13 19h0m30-4h0m32 5h0m2-7h0m0 8h0m2-8h0m1-1h0m50 2h0m8-3h0m29 2h0m11-3h0m3 2h0m8-2h0m7 3h0m2-1h0m5-2h0m4 1h0m7 2h0m11-2h0m18 2h0m16-1h0m16-2h0m12 0h0m7 1h0m5 0h0m0 3h0m9-4h0m2 4h0m3-3h0m2 2h0m8-2h0m12-1h0m8 4h0m16-3h0m41 3h0m2-4h0m16 1h0m-338 17h0m0 3h0m-2-1h0m0-8h0m-1 5h0m0 3h0m-1 3h0m-1-1h0m-1-7h0m-2 4h0m0-7h0m-1 4h0m-4 1h0m-1 5h0m0-4h0m-1 5h0m-1-5h0m-1-2h0m-2 4h0m-1-6h0m-1 3h0m-1 3h0m-1 0h0m0-2h0m-7 5h0m-4-5h0m-4-1h0m-2 5h0m-8-3h0m-1-6h0m-11 8h0m-20 1h0m11 9h0m1-1h0m1-1h0m2 6h0m2-6h0m2 0h0m2 5h0m1-6h0m6-4h0m4 10h0m6-6h0m0 3h0m1 2h0m1-1h0m0-1h0m1-7h0m4 4h0m1 5h0m0-9h0m0 11h0m1-9h0m1 1h0m1 6h0m3 2h0m0-3h0m0-6h0m0 3h0m1-5h0m1 5h0m0 2h0m0 2h0m2-8h0m0 3h0m2-1h0m1 8h0m1-4h0m0-4h0m1 6h0m2 1h0m0-1h0m0-3h0m2-6h0m0 7h0m0 3h0m1-7h0m1-3h0m0 5h0m0 6h0m1-7h0m0 2h0m0-3h0m0 6h0m2 1h0m1-6h0m1-1h0m2 2h0m0-3h0m0 4h0m1 3h0m0 2h0m1-10h0m1 1h0m1-2h0m1 4h0m0-1h0m0 5h0m0 2h0m1-6h0m0 3h0m1 2h0m0 14h0m0-8h0m-1 1h0m-2 4h0m0 2h0m-2-10h0m0 4h0m-1 1h0m-1 2h0m0 2h0m0-7h0m0-1h0m-1 2h0m0-3h0m-2 1h0m0 3h0m0-2h0m-3 4h0m0 2h0m0 3h0m-1-1h0m0-9h0m0 1h0m-1 6h0m-1-5h0m0 3h0m-1 5h0m0-3h0m-1-8h0m0 3h0m-2-3h0m-1 2h0m0 4h0m-1-5h0m-1 6h0m0-2h0m0 5h0m-2-8h0m0 2h0m0-4h0m-1 5h0m-1-4h0m-1 10h0m-2-6h0m-2 4h0m-1-3h0m-3 0h0m-1 5h0m-6-9h0m-1-2h0m0 6h0m-2 2h0m0-5h0m-2 8h0m-4-7h0m-3 4h0m-6-2h0m-4 2h0m-3-1h0m-19 6h0m10 5h0m3-1h0m14 2h0m2 1h0m5-6h0m0 5h0m0 4h0m1-6h0m5 3h0m1 2h0m1-1h0m3-3h0m1 2h0m2-5h0m1 3h0m0-5h0m1 5h0m2-4h0m2 1h0m1 6h0m0 1h0m0-10h0m1 10h0m1-7h0m1 5h0m2-2h0m0-1h0m0-4h0m2 8h0m0-7h0m0 3h0m0 5h0m1-10h0m1 10h0m0-8h0m0 5h0m1-2h0m1-2h0m1 2h0m3 5h0m0-4h0m0 2h0m0-8h0m1 5h0m1-5h0m0 3h0m0 6h0m0-2h0m0 3h0m2-4h0m7-4h0m0 4h0m1-5h0m1 9h0m0-1h0m0-5h0m1 7h0m0-5h0m0 3h0m1-6h0m0-2h0m0 4h0m1 5h0m1-3h0m0 6h0m0 3h0m0-1h0m-1 4h0m-1-1h0m0-5h0m-1 7h0m0 2h0m-1-2h0m0-2h0m-1-3h0m-1 7h0m-7-9h0m-1-1h0m-1 2h0m-2 3h0m-1-2h0m-1-3h0m-1 5h0m0 5h0m-1-9h0m-1 8h0m0-7h0m0-1h0m-1 6h0m-1-6h0m0 10h0m0-8h0m-1 1h0m-1 1h0m-2 0h0m0-5h0m0 6h0m-2-6h0m0 6h0m-1 3h0m-1-4h0m-1 3h0m0 3h0m-1-6h0m0 2h0m-3-3h0m-1 5h0m-2-1h0m-2-1h0m-1 3h0m-2-6h0m0 3h0m-1 1h0m-1-2h0m-2-4h0m0-2h0m-5 2h0m0-2h0m-2 1h0m-3 5h0m-5-2h0m-17 2h0m7 6h0m2 7h0m5 2h0m2-1h0m6 0h0m2-5h0m1 2h0m1 1h0m5-2h0m2-4h0m0 2h0m2 5h0m1-2h0m3 1h0m1-5h0m1 3h0m1 5h0m1-6h0m0-2h0m1 8h0m0-5h0m0-2h0m2 3h0m2 2h0m0 2h0m1-8h0m2 9h0m1 1h0m0-8h0m1 5h0m3-1h0m1-7h0m0 2h0m1 5h0m0-5h0m1-1h0m1 10h0m16-1h0m0-4h0m0-2h0m0 4h0m0-8h0m1 2h0m1 9h0m0-3h0m1-7h0m0 3h0m0 2h0m1-1h0m0 3h0m0-5h0m1 16h0m0-7h0m-1 11h0m-3-2h0m0-9h0m0 3h0m-1 8h0m-1-6h0m-1-5h0m0 7h0m0-5h0m-1-2h0m-1 5h0m-1 2h0m0 4h0m-2-2h0m-1-2h0m-1 0h0m-1-3h0m0 4h0m-1-5h0m0 6h0m-1-2h0m-2-2h0m0-2h0m0-2h0m-4 4h0m0 5h0m0-7h0m-1 5h0m0-5h0m-1 2h0m0 2h0m-2-2h0m0 1h0m0-6h0m0 11h0m-1 0h0m-2-2h0m-1-9h0m-2 1h0m-3 9h0m-11 1h0m-2-9h0m-7 3h0m-22 6h0m19 4h0m5 0h0m6 6h0m1-5h0m6-2h0m3 3h0m1-2h0m1 2h0m1-4h0m3 5h0m1-3h0m0-2h0m1 6h0m2-4h0m2 4h0m0 4h0m0-9h0m2 4h0m1 0h0m2-3h0m2-3h0m0 2h0m1 9h0m1-4h0m0 1h0m0-8h0m3 3h0m1-3h0m0 3h0m6 4h0m0-3h0m5-4h0m2 7h0m0-4h0m418 19h0m-420 0h0m-1-4h0m-3 2h0m0 3h0m-4-1h0m-1-1h0m-1-6h0m-5 1h0m0 3h0m-1-3h0m0 4h0m-1-8h0m-1 4h0m-2 7h0m-3-3h0m-2-8h0m-24 9h0m-10-9h0m-21 7h0m14 11h0m10-2h0m15-1h0m9-2h0m1 6h0m2-1h0m9 0h0m6-3h0m2 2h0m1 4h0m6-6h0m1 1h0m2 3h0m0-5h0m2 14h0m-4 7h0m-12-11h0m-10 0h0m-4 4h0m-2-4h0m14 13h0m16 9h0m-4 5h0m-16 6h0m-16 20h0m-31 16h0m28-9h0m12 55h0m427 13h0m-464-7h0m43 45h0m429 36h0m-435 85h0m-18 45h0m9 18h0m4 57h0m432 117h0m25 30h0m24 27h0m-11 30h0m24 2h0m-30 21h0m-14 8h0m37 59h0m-6 0h0m-2 0h0m-4 0h0m-10 0h0m-3 0h0m-2 0h0m-6 0h0m-3 0h0m-6 0h0"/>
<path id="dbf" d="M353 197h11v3h-11zM376 197h5v3h-5zM350 200h35v3h-35zM388 200h6v3h-6zM345 203h9v3h-9zM359 203h34v3h-34zM345 206h5v3h-5zM358 206h37v3h-37zM343 209h5v3h-5zM358 209h50v3h-50zM335 212h15v3h-15zM357 212h7v3h-7zM369 212h41v3h-41zM337 215h12v3h-12zM354 215h7v3h-7zM371 215h6v3h-6zM380 215h17v3h-17zM399 215h9v3h-9zM339 218h6v3h-6zM381 218h6v3h-6zM379 221h5v3h-5zM378 224h6v3h-6z"/>
<path id="db" vector-effect="non-scaling-stroke" d="M310 202h0m1-1h0m1-3h0m3 2h0m3-1h0m2-1h0m0 2h0m2 1h0m2-2h0m2 2h0m0 1h0m2-1h0m2 1h0m1-4h0m1-2h0m2 4h0m3-2h0m2-2h0m3 5h0m1 1h0m2-5h0m0 1h0m1 4h0m5-2h0m2 2h0m0-5h0m3 3h0m1-2h0m0-1h0m1 4h0m1 2h0m0-7h0m3 4h0m1-1h0m0-2h0m1 3h0m0 2h0m2-1h0m1 1h0m2-3h0m2 1h0m0 3h0m1-2h0m0-4h0m0 1h0m2 2h0m1 3h0m1-2h0m0-3h0m2-1h0m1 4h0m0 1h0m1 1h0m1-5h0m1 1h0m2 3h0m3 1h0m2 0h0m0-5h0m2 5h0m1 0h0m1-6h0m1 4h0m4 0h0m1 2h0m1-2h0m0-5h0m6 2h0m5 4h0m6-3h0m6-1h0m15 2h0m88-3h0m125 0h0m10 0h0m-234 18h0m-7-10h0m-4 4h0m0 5h0m-1-5h0m-5 5h0m-2-5h0m-1 1h0m-2-6h0m0 7h0m-1-2h0m0 3h0m-1 2h0m-1-5h0m-2 3h0m-1-7h0m-1 7h0m-1-1h0m0-3h0m-1 5h0m-2-1h0m0 3h0m0-6h0m-1 6h0m-1-10h0m-1 3h0m-5-3h0m-2 9h0m-3-3h0m-1-7h0m-1 5h0m0 5h0m-2 1h0m0-10h0m0 8h0m0-2h0m-2 3h0m-1-1h0m0-2h0m-1-6h0m-1 4h0m-1 4h0m0 1h0m-1-7h0m0 4h0m-1 0h0m-1-3h0m0 5h0m-1-1h0m-1-3h0m-1 0h0m-1-4h0m-2 2h0m0 7h0m-1-2h0m-1-4h0m-1 7h0m0-2h0m-1-3h0m-1 5h0m-1-7h0m-3 6h0m0-10h0m0 4h0m-3 6h0m-1-10h0m0 3h0m-2 4h0m0-5h0m0 6h0m-1 2h0m-1-6h0m0 5h0m0-7h0m-1 5h0m-1 3h0m-1-1h0m-3-2h0m-1 1h0m-2-7h0m-1 9h0m-1-2h0m-2-1h0m0-7h0m-1 11h0m-1-11h0m0 5h0m-1 4h0m-1-4h0m-1-2h0m-1-3h0m-2 4h0m0 3h0m-1-4h0m0 8h0m0-5h0m-2 1h0m0-2h0m-1-3h0m-2 6h0m0-5h0m-1 8h0m0-9h0m-1-1h0m-1 1h0m-2 9h0m-2-2h0m-2-9h0m-1 13h0m4 5h0m5-5h0m4 4h0m6 5h0m3-2h0m6-8h0m3 7h0m0-5h0m1 2h0m1-3h0m2 3h0m0-3h0m3 0h0m2 7h0m3-7h0m3 0h0m2 0h0m0 3h0m4-1h0m2 6h0m2 0h0m2-6h0m3 0h0m2-2h0m1 1h0m2 0h0m2 9h0m2-5h0m0 2h0m3-7h0m1 2h0m1 6h0m0-8h0m1 2h0m0 2h0m2-5h0m2 0h0m1 3h0m3 0h0m2 1h0m3 3h0m1-7h0m0 7h0m3-5h0m0-2h0m2 6h0m0-6h0m3 1h0m3 6h0m5-4h0m262 3h0m38 12h0m-311 3h0m-3-7h0m-2 4h0m-2-4h0m0-2h0m-4 6h0m-3-5h0m-1 4h0m-5-4h0m-3-1h0m0 9h0m-1-3h0m-7 2h0m-6-6h0m-6 3h0m-1 0h0m-5 2h0m-7-5h0m0 3h0m-13 2h0m-17 4h0m52 2h0m17 9h0m6-5h0m5-4h0m7-1h0m5 6h0m-15 9h0m-79-1h0m2 14h0m36 6h0m7-1h0m21-2h0m16-2h0m7-2h0m-4 17h0m-6 1h0m-42-9h0m-21 2h0m11 12h0m24 0h0m7 5h0m11 0h0m2 12h0m-39-6h0m-33 0h0m22 13h0m65 0h0m80 9h0m232 8h0m-196-1h0m-43-6h0m-37 0h0m209 57h0m-93-2h0m48 17h0m-48 17h0m58-5h0m-112 34h0m122-2h0m-10 10h0m-55 43h0m-10 7h0m35 26h0m-5-4h0m-7 107h0m140 3h0m-178 48h0m135 26h0m20-4h0m-85 21h0m40 0h0m10 4h0m45 20h0m-20 21h0m-105 62h0m125 67h0m18 23h0m-91 27h0m89 78h0m-4 0h0m-3 0h0m-5 0h0m-1 0h0m-7 0h0m-4 0h0m-4 0h0m-7 0h0m-4 0h0m-2 0h0m-5 0h0m-3 0h0m-6 0h0m-2 0h0m-13 0h0m-4 0h0m-6 0h0m-1 0h0"/>
<path id="ove" vector-effect="non-scaling-stroke" d="M378 119h0m-10-3h0m-3-2h0m0-2h0m-5-4h0m-11 1h0m-12-1h0m-10 0h0m-18 2h0m-4 7h0m-3-2h0m-2 4h0m-8-4h0m-56 4h0m22 7h0m13-3h0m25 0h0m5-1h0m4 2h0m2 6h0m3-7h0m1 6h0m6 1h0m1-7h0m3 4h0m7-6h0m14 0h0m19 6h0m24 10h0m-8 4h0m-8-4h0m-9 0h0m-2-2h0m-13 2h0m-5 3h0m0-7h0m-3 2h0m-6 2h0m-5-3h0m-13 8h0m-10-1h0m-6 2h0m-10-9h0m-25 5h0m-22 2h0m50 10h0m16 3h0m11-2h0m4-6h0m7 0h0m6 9h0m6-9h0m1 9h0m0-4h0m5-1h0m5 2h0m8-2h0m2-5h0m7 3h0m14 5h0m80-6h0m34-3h0m33 7h0m28 15h0m-9-2h0m-153-4h0m-37 5h0m-5-9h0m-1 9h0m-2-2h0m-2 2h0m-1 2h0m-1-8h0m-18 7h0m-3-3h0m-2-6h0m-24 5h0m-6 3h0m-7-3h0m-8 11h0m18-1h0m3 4h0m13-5h0m4-2h0m0 6h0m18-3h0m11-4h0m2 9h0m6-4h0m3-5h0m11 2h0m51-1h0m34 7h0m82 3h0m10-1h0m-23 10h0m-19-6h0m-26-1h0m-12 9h0m-44-1h0m-20-5h0m-5 2h0m-8-2h0m-18-4h0m-11 2h0m-22 2h0m-16 6h0m0-8h0m-1 3h0m-22-2h0m-5 1h0m-8 1h0m-14 0h0m36 9h0m89-1h0m29 1h0m96-1h0m5 3h0m-223 15h0m0-3h0m-1-3h0m-3 6h0m-2-2h0m-4-2h0m-2-3h0m-12 14h0m2 4h0m13-6h0m4 4h0m9 0h0m1 5h0m-1 7h0m-7-1h0m-1-2h0m0 6h0m-11-4h0m-24-3h0m-24 7h0m30 6h0m13 8h0m8-3h0m7-5h0m4 1h0m2 2h0m1 6h0m-3 5h0m-6 2h0m-1 4h0m-3 0h0m-6-8h0m-2 0h0m-4 5h0m-6-1h0m-30-1h0m16 10h0m2 5h0m13 0h0m12-2h0m2-4h0m2 5h0m2 2h0m10 3h0m0-5h0m4 2h0m1 4h0m-11 3h0m-4-3h0m0 4h0m-12 1h0m-20 11h0m21 7h0m20 12h0m-11-7h0m-41 12h0"/>
<path id="ovg" vector-effect="non-scaling-stroke" d="M378 119h0m-10-3h0m0 3h0m-3-5h0m0-2h0m-5-4h0m-11 1h0m-8 6h0m0-3h0m-4-4h0m-10 1h0m-7 2h0m-4 4h0m-7-5h0m-2 7h0m-2 0h0m-3-2h0m-1-7h0m-1 11h0m-4-6h0m-4 2h0m-6 4h0m-2-9h0m-48 9h0m-13 0h0m0-9h0m-10-2h0m0 16h0m13 4h0m16-8h0m2 2h0m3-2h0m11 6h0m6 5h0m7-8h0m19 8h0m6-8h0m5 7h0m0-8h0m4 2h0m2 6h0m3-3h0m0-4h0m1 6h0m3 1h0m3 0h0m1-7h0m3 4h0m4 3h0m3-9h0m3 2h0m4 4h0m7-6h0m8 0h0m11 6h0m23-4h0m1 14h0m-8 4h0m-8-4h0m-9 0h0m-2-2h0m-9 0h0m-4 2h0m-1-2h0m0 4h0m-4 1h0m0-7h0m-3 2h0m-6 2h0m-5-3h0m-5-2h0m-7 2h0m-1 8h0m-10-1h0m-2-1h0m-4 3h0m-10-9h0m-6 9h0m-19-4h0m-7-4h0m-5-2h0m-3 5h0m-7 3h0m-11-5h0m-3 3h0m25 14h0m1-7h0m10 1h0m28 4h0m12-4h0m4 7h0m11-2h0m4-6h0m3 6h0m1 1h0m3-7h0m3 8h0m0-4h0m3 5h0m6-9h0m0 1h0m1 8h0m0-4h0m1 3h0m4-4h0m5 2h0m3 0h0m5-2h0m1 3h0m1-8h0m7 3h0m1 4h0m9-4h0m4 5h0m15 5h0m-2 2h0m-9 5h0m-1-4h0m-26 1h0m-1 3h0m-2-4h0m-3-5h0m-1 9h0m0-5h0m-2 3h0m-2 2h0m-1 2h0m-1-8h0m-2 2h0m-4 2h0m-12 3h0m-1-5h0m-2 2h0m-2-6h0m-13 3h0m-11 2h0m-4 5h0m-2-2h0m-7-3h0m-1-6h0m-25 1h0m0 5h0m-6-1h0m-11 14h0m22-6h0m13 4h0m18-1h0m3-3h0m0 7h0m6-3h0m0 3h0m7-5h0m4-2h0m0 6h0m0 3h0m15-4h0m2 3h0m1-5h0m11-4h0m2 9h0m6-4h0m3-5h0m11 2h0m10 1h0m18 15h0m-5-3h0m-3 1h0m-15 0h0m-3-4h0m-11 2h0m-4 8h0m-7-6h0m-11 0h0m-4-4h0m-12 7h0m0 3h0m0-8h0m-1 3h0m-11-2h0m-4 2h0m-5-5h0m-2 3h0m-5 1h0m-8 1h0m-14 0h0m-1-5h0m-49 22h0m90 0h0m8-3h0m6 0h0m10 1h0m8 1h0m4 1h0m7-5h0m4 1h0m0-1h0m7 3h0m2-7h0m0 8h0m0-1h0m5 0h0m5-7h0m3 9h0m2-4h0m14-5h0m11 0h0m120 4h0m-116 17h0m-5-10h0m-1 8h0m-1 2h0m-4-10h0m-3 6h0m-2 2h0m-2-7h0m-5 4h0m-8-1h0m-1-2h0m-6 3h0m-2 2h0m-2-3h0m-4-3h0m-4 3h0m-2 3h0m-9-7h0m-2 2h0m0 6h0m-2 1h0m-15-4h0m0-5h0m-3 3h0m-3 4h0m-1 4h0m-3-9h0m-2 1h0m-2-2h0m-5 8h0m-9-2h0m-1-6h0m-5 4h0m-4-2h0m-2-3h0m22 18h0m15 4h0m13-6h0m22 5h0m4-6h0m18 0h0m2-3h0m6 3h0m2 1h0m3 3h0m317 11h0m-318-6h0m-7 1h0m-6 0h0m-11 7h0m-6-6h0m-19 0h0m-49-1h0m-69 18h0m163-2h0m5-4h0m-44 33h0m44-5h0m-45 7h0m-21 2h0m-125 2h0m178 15h0m-70 6h0m-29 5h0"/>
</defs>
<text class="st" x="379" y="24.7" textLength="239.4" lengthAdjust="spacingAndGlyphs">Training samples</text>
<text class="st" x="416.4" y="269.9" textLength="165.4" lengthAdjust="spacingAndGlyphs">Test sample</text>
<clipPath id="ct0"><rect x="82.50" y="39.50" width="151.00" height="139.00"/></clipPath><g clip-path="url(#ct0)" fill="none" stroke-linecap="round"><g transform="translate(89.36,195.50) scale(0.13419,-0.146)"><path d="M-5 162h13v7h-13zM11 162h4v7h-4zM-5 169h25v7h-25zM47 169h10v7h-10zM-4 176h78v7h-78zM88 176h5v7h-5zM130 176h18v7h-18zM172 176h5v7h-5zM-5 183h100v7h-100zM126 183h54v7h-54zM193 183h20v7h-20zM-4 190h107v7h-107zM118 190h102v7h-102zM-5 197h191v7h-191zM199 197h19v7h-19zM-5 204h190v7h-190zM200 204h19v7h-19zM-4 211h191v7h-191zM198 211h39v7h-39zM422 211h8v7h-8zM-5 218h243v7h-243zM426 218h8v7h-8zM-1 225h256v7h-256zM357 225h17v7h-17zM390 225h12v7h-12zM425 225h11v7h-11zM451 225h10v7h-10zM-2 232h261v7h-261zM358 232h19v7h-19zM385 232h103v7h-103zM-5 239h195v7h-195zM191 239h62v7h-62zM359 239h12v7h-12zM401 239h9v7h-9zM437 239h16v7h-16zM471 239h9v7h-9zM-6 246h189v7h-189zM198 246h51v7h-51zM268 246h8v7h-8zM-6 253h189v7h-189zM198 253h51v7h-51zM268 253h4v7h-4zM-4 260h191v7h-191zM194 260h62v7h-62zM261 260h12v7h-12zM-2 267h278v7h-278zM-3 274h277v7h-277zM-4 281h274v7h-274zM-4 288h36v7h-36zM45 288h221v7h-221zM-5 295h5v7h-5zM11 295h18v7h-18zM46 295h218v7h-218zM13 302h17v7h-17zM45 302h218v7h-218zM-5 309h5v7h-5zM11 309h255v7h-255zM-6 316h117v7h-117zM120 316h155v7h-155zM-6 323h114v7h-114zM123 323h143v7h-143zM-4 330h113v7h-113zM122 330h140v7h-140zM-3 337h13v7h-13zM36 337h39v7h-39zM84 337h88v7h-88zM173 337h88v7h-88zM276 337h6v7h-6zM-4 344h11v7h-11zM55 344h17v7h-17zM88 344h5v7h-5zM110 344h55v7h-55zM182 344h80v7h-80zM275 344h5v7h-5zM-3 351h9v7h-9zM58 351h13v7h-13zM126 351h26v7h-26zM185 351h93v7h-93zM-4 358h10v7h-10zM59 358h6v7h-6zM130 358h6v7h-6zM187 358h90v7h-90zM56 365h8v7h-8zM189 365h90v7h-90zM51 372h15v7h-15zM152 372h15v7h-15zM187 372h90v7h-90zM151 379h13v7h-13zM185 379h93v7h-93zM-5 386h7v7h-7zM152 386h13v7h-13zM187 386h19v7h-19zM217 386h60v7h-60zM-5 393h11v7h-11zM154 393h13v7h-13zM186 393h11v7h-11zM219 393h7v7h-7zM240 393h41v7h-41zM-5 400h9v7h-9zM183 400h13v7h-13zM243 400h42v7h-42zM-3 407h5v7h-5zM43 407h15v7h-15zM73 407h8v7h-8zM176 407h23v7h-23zM244 407h34v7h-34zM-4 414h7v7h-7zM42 414h36v7h-36zM175 414h10v7h-10zM259 414h8v7h-8zM-5 421h8v7h-8zM54 421h23v7h-23zM-4 428h8v7h-8zM-4 435h10v7h-10zM-5 442h8v7h-8zM-2 449h6v7h-6zM-3 456h7v7h-7zM-4 463h8v7h-8zM-2 470h6v7h-6zM-3 477h7v7h-7zM-5 484h7v7h-7zM-3 491h4v7h-4zM1014 505h9v7h-9zM1014 512h8v7h-8zM1013 519h8v7h-8zM1010 526h9v7h-9zM1011 533h9v7h-9zM261 540h4v7h-4zM1014 540h8v7h-8zM256 547h10v7h-10zM1016 547h6v7h-6zM254 554h13v7h-13zM252 561h6v7h-6zM1014 603h6v7h-6zM1014 610h7v7h-7zM1015 617h5v7h-5zM1013 624h10v7h-10zM1014 631h5v7h-5z" fill="#808080" stroke="none"/><path vector-effect="non-scaling-stroke" d="M52 164h0m-38-1h0m-14-3h0m0 4h0m-3-5h0m-1 5h0m0 8h0m3 3h0m1-2h0m6 4h0m5 2h0m0-9h0m9 8h0m7-5h0m5 1h0m2 1h0m5-2h0m9 6h0m5-7h0m14 7h0m1-7h0m23 6h0m1-7h0m38 7h0m6-3h0m4-1h0m4 2h0m31 0h0m697 4h0m-275 7h0m-241 2h0m-34-2h0m-51-2h0m-8-2h0m-50 6h0m-3-6h0m-1-1h0m-2-1h0m-10 2h0m-3 2h0m-7 3h0m-16 2h0m-5-2h0m-6 0h0m0-8h0m-17 6h0m-8-4h0m-1 7h0m-10-2h0m-27 1h0m-1 2h0m-10-7h0m-3 3h0m-3 3h0m-2-9h0m-2 5h0m-2 6h0m-6-6h0m-6-2h0m-7-3h0m-25 4h0m-27 4h0m-5 3h0m-2-6h0m0 16h0m0 2h0m4-9h0m2 3h0m91 0h0m7-4h0m10-1h0m4 3h0m1 3h0m2 5h0m7-3h0m2-5h0m0 3h0m53-3h0m2 4h0m4-2h0m2-2h0m5 2h0m10-4h0m0 9h0m6-5h0m1-4h0m6 9h0m5-10h0m51 9h0m16-8h0m24 9h0m26-3h0m6 2h0m25-6h0m11-1h0m11 0h0m14 3h0m8 3h0m548 15h0m-68 0h0m-341 0h0m-21-6h0m-7-4h0m-44 4h0m-53 1h0m-7 4h0m-9-2h0m-4-7h0m-5 0h0m-43 8h0m-34-5h0m-17 6h0m-72-2h0m-4-3h0m-6 3h0m-6 2h0m-4-4h0m-6-4h0m-9 6h0m-18-3h0m-6-1h0m-175 2h0m0-2h0m-5 4h0m0 10h0m3 2h0m2-3h0m178 1h0m9-2h0m3-2h0m1 7h0m5-1h0m4-1h0m6-7h0m23 6h0m0 4h0m6-4h0m14 3h0m2-1h0m50-5h0m18-3h0m20 11h0m22-6h0m6 2h0m18 4h0m11-3h0m31-6h0m4-2h0m22 5h0m69-3h0m5-1h0m11 4h0m24 18h0m-65-2h0m-14-2h0m0-7h0m-7 3h0m-10-3h0m-7 5h0m0 5h0m-9-8h0m-1 6h0m-3-5h0m-12-3h0m0 4h0m-6 5h0m-3-8h0m-1 4h0m-11 0h0m-3-2h0m-3-1h0m-6 7h0m-23-9h0m0 6h0m-2-5h0m-8 0h0m-6 1h0m-6 2h0m-9-4h0m-13 4h0m-31-4h0m-45 7h0m-10 0h0m-4 3h0m-4-9h0m-5 1h0m-45 9h0m-3-4h0m-183-1h0m-8 3h0m-1 14h0m0-7h0m7 7h0m2-7h0m180-2h0m11 3h0m5-2h0m44 5h0m7-5h0m12-2h0m5 3h0m1 6h0m5-3h0m39-7h0m17 1h0m0 8h0m7 1h0m20-4h0m9 0h0m1-5h0m3-1h0m19 0h0m3 2h0m12 4h0m4-3h0m13-3h0m15 0h0m3 5h0m1 2h0m7 0h0m2-3h0m22-1h0m5-1h0m8 0h0m45 2h0m15 4h0m7-6h0m306 5h0m-335 5h0m-50 1h0m-200-1h0m-6 8h0m-8 2h0m-13-7h0m-2 6h0m-5-6h0m-38 8h0m-1-10h0m-6 9h0m-14-9h0m-177 5h0m-7 3h0m0-6h0m3 13h0m5-4h0m2 7h0m171-4h0m11 2h0m3 1h0m7 1h0m49-1h0m4 4h0m3-8h0m0 9h0m6-7h0m1 5h0m11-1h0m6-4h0m1 18h0m-8-6h0m-2-3h0m-229 2h0m-10 7h0m-4-5h0m-25 1h0m-2-6h0m-2 6h0m-1 11h0m2 2h0m5-4h0m3 5h0m5-5h0m5 0h0m6 3h0m5-6h0m1 6h0m0-5h0m19 4h0m3 4h0m1-6h0m203 6h0m2-5h0m6-3h0m2 8h0m667-8h0m85 10h0m-754 11h0m-4-8h0m-204-1h0m-8 3h0m-9 4h0m-9-2h0m-4 5h0m-2-10h0m-4 0h0m-22 0h0m0 16h0m0-5h0m7 9h0m6-8h0m7 4h0m1-4h0m6 2h0m22-2h0m56 6h0m6 3h0m1-9h0m1 4h0m9-4h0m2-1h0m4 11h0m132-9h0m4 1h0m3 8h0m5-10h0m1 6h0m5-2h0m669 11h0m-669-1h0m-14 4h0m-5-6h0m-75 7h0m-54-4h0m0 7h0m-2-3h0m-19-3h0m-23 0h0m-11 0h0m-3 3h0m-33 1h0m-20-4h0m-8 4h0m-2 2h0m-2-7h0m-7 2h0m0-6h0m0 20h0m1-2h0m8-4h0m0 8h0m5-7h0m14-3h0m5 0h0m8 4h0m7 2h0m8-4h0m2 8h0m7-2h0m4 2h0m2-8h0m4 5h0m6-4h0m10 3h0m2 2h0m13-2h0m8 2h0m1-4h0m5-3h0m7 9h0m1-6h0m3-4h0m5 11h0m20-5h0m2 1h0m5-6h0m3 10h0m2-8h0m5-3h0m11 5h0m1 5h0m2-7h0m70 8h0m0-11h0m6 2h0m19 1h0m0 6h0m10-8h0m660 6h0m63 11h0m-734-3h0m-7 3h0m-9 0h0m0-5h0m0 8h0m-5-4h0m-63 1h0m-9-6h0m-20 9h0m-17-8h0m-1 10h0m-4-10h0m-12 9h0m-10-6h0m-8-2h0m-22 2h0m-20 0h0m-3 7h0m-8-5h0m-20-5h0m-32 10h0m-5-2h0m-3-6h0m-2 6h0m1 8h0m4 2h0m27-6h0m16 10h0m10-3h0m32-1h0m45-3h0m35 6h0m18-10h0m5 2h0m4 4h0m75-1h0m3-3h0m2-2h0m5 9h0m-3 13h0m-4-2h0m-5-7h0m-48 10h0m-16-2h0m-13-9h0m-3 4h0m-21-1h0m-3 3h0m-9-6h0m-1 4h0m-2 3h0m-18-7h0m-26 11h0m-1-7h0m-10 3h0m-10-2h0m-4-1h0m-15 0h0m-5 3h0m-8-1h0m-49-3h0m-8 8h0m-1 12h0m0-8h0m6 4h0m2 4h0m67-11h0m28 7h0m16 0h0m38-1h0m5-3h0m7 4h0m21-7h0m2 11h0m14-3h0m5-4h0m12 2h0m5-5h0m9 9h0m8-5h0m27 3h0m8 1h0m14 1h0m698 1h0m30 9h0m-3-6h0m-1 7h0m-1-7h0m-25 8h0m-705 1h0m-10-3h0m-16 2h0m-12-7h0m0 8h0m-16-10h0m-13 7h0m-23-2h0m-18 2h0m-14-3h0m-18 2h0m-4 1h0m-11-6h0m-5 8h0m-4-2h0m-10-8h0m-29 1h0m-2 8h0m-27 0h0m-8-5h0m-18 7h0m-4-5h0m-5-2h0m-9-2h0m-2 4h0m-5 4h0m-3 1h0m-1-3h0m2 12h0m3 0h0m19-7h0m20 10h0m5-9h0m1 5h0m11-6h0m7 8h0m3-7h0m13 5h0m29 2h0m8-8h0m61 3h0m1 4h0m17-2h0m8-1h0m3-3h0m4 7h0m5-7h0m11 9h0m16-1h0m17-7h0m2 5h0m4-7h0m7-1h0m1 10h0m652-4h0m88-3h0m3 2h0m0-4h0m-1 16h0m0 6h0m-4-2h0m-750-9h0m-2 7h0m-4 4h0m-15-9h0m-23 7h0m-37-6h0m-12-2h0m-26 0h0m-8 3h0m-19 0h0m-16-3h0m-6 3h0m-5 7h0m-13-2h0m-12-1h0m-10-3h0m-13-2h0m-39 3h0m-5-4h0m-1 7h0m1 10h0m4-6h0m5 5h0m12-1h0m41 3h0m95-1h0m33-7h0m12 11h0m5-2h0m7-1h0m5-8h0m6 4h0m50 1h0m9-4h0m673 4h0m62 3h0m8 2h0m-7 4h0m-1 4h0m-2-6h0m-15 3h0m-712-1h0m-3 0h0m-2 6h0m-9 2h0m-1-7h0m-24 7h0m-11-10h0m-52 11h0m-68-7h0m-7 6h0m-60 1h0m-49-5h0m-1-3h0m-2 1h0m-2-3h0m1 16h0m0 5h0m4-1h0m1-7h0m55 3h0m31 3h0m71-5h0m9 8h0m54-5h0m1-2h0m11 1h0m8 1h0m7 2h0m3-8h0m719 7h0m43-1h0m1-2h0m4 16h0m0-8h0m-3 2h0m-2-1h0m-750 0h0m-4 9h0m-16 0h0m-15 0h0m-3-10h0m-19 8h0m-12-2h0m-14-2h0m-50-4h0m-49 2h0m-20-2h0m-59 9h0m-2-8h0m-2 2h0m-3 16h0m2-7h0m2 6h0m31-5h0m4 0h0m51 10h0m1-10h0m46-1h0m34 4h0m53 6h0m33-4h0m760 1h0m4 3h0m1-7h0m0 15h0m-4-5h0m-726 5h0m-23 1h0m-20-7h0m0 6h0m-5 5h0m-57-11h0m-3 4h0m-1 6h0m-129-10h0m-14 6h0m-10-6h0m-26 4h0m-2-1h0m-1 6h0m180 8h0m17-1h0m43 0h0m9-3h0m8 6h0m18 3h0m742-1h0m2-7h0m3 9h0m3-9h0m-3 15h0m-2 5h0m-3-3h0m-156 4h0m-580-3h0m-39 0h0m-9-6h0m-231 0h0m-3-2h0m0 14h0m0 2h0m232 4h0m6-7h0m7 9h0m16-6h0m11 5h0m742-8h0m3 6h0m0 4h0m5-2h0m4 9h0m-6-1h0m-733-1h0m-26 4h0m-17-7h0m-3 1h0m-155-1h0m-28 3h0m-56-3h0m-2 8h0m1 12h0m1-7h0m240 8h0m18-6h0m7-1h0m2 8h0m1-10h0m631 7h0m119-4h0m0 6h0m3-10h0m-3 17h0m-3 2h0m-53-6h0m-675 8h0m-10 0h0m-20-7h0m-10 5h0m-3 3h0m-98-9h0m-144 3h0m-2 0h0m-1 14h0m1-5h0m1016-1h0m3 4h0m1 1h0m-2 16h0m-1-5h0m-2-1h0m-235 0h0m-495 3h0m-23 1h0m-262-5h0m-2 6h0m0 6h0m2 8h0m2-6h0m256 1h0m6 6h0m752-3h0m0 3h0m4-5h0m4 3h0m-4 6h0m-2 5h0m-768 1h0m-1 2h0m-34-5h0m-52 4h0m-164-6h0m0 19h0m262-11h0m13 10h0m741-5h0m4 3h0m0-4h0m5-1h0m-6 12h0m-2 5h0m-730-2h0m-75 8h0m45-1h0m5 7h0m3 2h0m6-7h0m14 8h0m734-5h0m1 15h0m0-6h0m-4 6h0m-1-6h0m-205-2h0m-550 1h0m-6 0h0m-20 9h0m-39 7h0m53-2h0m22-1h0m10 5h0m737 0h0m0-6h0m3 2h0m-1 9h0m0 3h0m-26 1h0m-712 2h0m-22-6h0m-2 2h0m-6 2h0m-9 4h0m-68-4h0m4 16h0m72 2h0m768-5h0m1-3h0m0 20h0m-5-9h0m-722 3h0m-27-1h0m-25 6h0m-53-2h0m-26-6h0m63 14h0m37 0h0m8 0h0m9 4h0m1-8h0m468 10h0m12 0h0m141-7h0m117 2h0m2 4h0m0-7h0m0 13h0m-3-3h0m-719 6h0m-49 2h0m-66-8h0m21 23h0m20-6h0m23 2h0m13 2h0m15-5h0m743 7h0m3-11h0m1 5h0m-3 12h0m-1 0h0m-196 1h0m-545-4h0m-4 9h0m-31-11h0m-8 6h0m-35-3h0m-198 1h0m267 9h0m466 4h0m287 0h0m1-4h0m2 15h0m-1-3h0m-835 13h0m22 6h0m808-6h0m0 8h0m2-6h0m4 4h0m-1 11h0m-4 2h0m-2-3h0m-48-4h0m-62 4h0m-696-4h0m13 10h0m14 10h0m24-5h0m728 6h0m30-1h0m1-1h0m3 14h0m-7-7h0m-739-1h0m-46 5h0m-41-6h0m-10-2h0m48 20h0m7 0h0m6-6h0m38 6h0m542 0h0m85-7h0m111 1h0m2 1h0m0 4h0m0 8h0m-2 6h0m-758-8h0m-67 1h0m-1 3h0m-3-5h0m73 21h0m5-5h0m10-4h0m742 10h0m4 10h0m-2-5h0m-63 8h0m-674-1h0m-57-6h0m-1 13h0m12 0h0m13-1h0m767 4h0m1-6h0m1 8h0m2 10h0m-47-1h0m-709 3h0m-17-8h0m771 20h0m1-9h0m1 14h0m-2 6h0m-733-5h0m-10 3h0m-7-2h0m-41-2h0m19 17h0m769-7h0m6 5h0m-3 14h0m-1-5h0m-1-3h0m0 18h0m3 0h0m1-5h0m2 12h0m-26 0h0m-752 7h0m772 9h0m0-5h0m2 0h0m2 5h0m-2 14h0m0-4h0m-2 1h0m-32-1h0m31 14h0m7 5h0m-2 9h0m-4-7h0m-9 8h0m-11 0h0m-12 0h0m-37 0h0m-11 0h0m-12 0h0m-13 0h0m-46 0h0m-17 0h0m-17 0h0m-17 0h0m-17-4h0m-17 4h0m-487 0h0m-28 0h0m-34 0h0m-232 0h0" stroke="#808080" stroke-width="2.7"/><path d="M381 253h9v7h-9zM405 253h30v7h-30zM370 260h72v7h-72zM444 260h7v7h-7zM327 267h133v7h-133zM321 274h141v7h-141zM296 281h10v7h-10zM310 281h157v7h-157zM294 288h185v7h-185zM295 295h6v7h-6zM302 295h176v7h-176zM309 302h173v7h-173zM308 309h186v7h-186zM303 316h194v7h-194zM303 323h205v7h-205zM306 330h203v7h-203zM305 337h205v7h-205zM298 344h214v7h-214zM296 351h219v7h-219zM297 358h10v7h-10zM315 358h199v7h-199zM296 365h7v7h-7zM319 365h196v7h-196zM293 372h11v7h-11zM318 372h197v7h-197zM295 379h224v7h-224zM294 386h231v7h-231zM300 393h224v7h-224zM303 400h224v7h-224zM302 407h230v7h-230zM297 414h236v7h-236zM293 421h236v7h-236zM288 428h242v7h-242zM293 435h244v7h-244zM294 442h249v7h-249zM305 449h235v7h-235zM308 456h233v7h-233zM307 463h231v7h-231zM302 470h237v7h-237zM292 477h245v7h-245zM293 484h243v7h-243zM297 491h241v7h-241zM300 498h250v7h-250zM299 505h252v7h-252zM296 512h260v7h-260zM297 519h262v7h-262zM297 526h259v7h-259zM294 533h261v7h-261zM293 540h261v7h-261zM288 547h267v7h-267zM291 554h45v7h-45zM349 554h212v7h-212zM296 561h39v7h-39zM350 561h213v7h-213zM297 568h42v7h-42zM346 568h216v7h-216zM298 575h265v7h-265zM299 582h265v7h-265zM302 589h266v7h-266zM301 596h264v7h-264zM304 603h262v7h-262zM305 610h273v7h-273zM305 617h274v7h-274zM300 624h278v7h-278zM289 631h168v7h-168zM472 631h105v7h-105zM290 638h166v7h-166zM473 638h105v7h-105zM292 645h168v7h-168zM469 645h112v7h-112zM294 652h289v7h-289zM292 659h289v7h-289zM298 666h284v7h-284zM298 673h287v7h-287zM294 680h290v7h-290zM296 687h289v7h-289zM297 694h295v7h-295zM296 701h296v7h-296zM295 708h301v7h-301zM293 715h310v7h-310zM298 722h302v7h-302zM299 729h300v7h-300zM299 736h302v7h-302zM301 743h300v7h-300zM300 750h208v7h-208zM521 750h80v7h-80zM298 757h209v7h-209zM523 757h77v7h-77zM304 764h205v7h-205zM521 764h75v7h-75zM306 771h291v7h-291zM305 778h302v7h-302zM305 785h301v7h-301zM310 792h40v7h-40zM361 792h238v7h-238zM311 799h37v7h-37zM363 799h235v7h-235zM306 806h43v7h-43zM362 806h236v7h-236zM304 813h294v7h-294zM300 820h305v7h-305zM305 827h302v7h-302zM306 834h299v7h-299zM305 841h106v7h-106zM424 841h181v7h-181zM306 848h104v7h-104zM425 848h181v7h-181zM306 855h8v7h-8zM328 855h89v7h-89zM418 855h191v7h-191zM308 862h5v7h-5zM329 862h277v7h-277zM312 869h4v7h-4zM326 869h276v7h-276zM312 876h290v7h-290zM310 883h289v7h-289zM308 890h178v7h-178zM500 890h96v7h-96zM311 897h174v7h-174zM501 897h96v7h-96zM315 904h175v7h-175zM497 904h102v7h-102zM317 911h281v7h-281zM316 918h286v7h-286zM315 925h283v7h-283zM314 932h284v7h-284zM312 939h287v7h-287zM321 946h93v7h-93zM429 946h172v7h-172zM326 953h87v7h-87zM430 953h170v7h-170zM329 960h87v7h-87zM427 960h172v7h-172zM329 967h270v7h-270zM328 974h273v7h-273zM331 981h268v7h-268zM339 988h261v7h-261zM340 995h261v7h-261zM339 1002h31v7h-31zM384 1002h219v7h-219zM347 1009h20v7h-20zM390 1009h105v7h-105zM506 1009h11v7h-11zM534 1009h43v7h-43zM349 1016h18v7h-18zM396 1016h97v7h-97zM508 1016h7v7h-7zM535 1016h41v7h-41zM354 1023h14v7h-14zM405 1023h20v7h-20zM427 1023h10v7h-10zM445 1023h14v7h-14zM461 1023h11v7h-11zM480 1023h14v7h-14zM508 1023h8v7h-8zM554 1023h12v7h-12zM567 1023h5v7h-5z" fill="#1f77b4" stroke="none"/><path vector-effect="non-scaling-stroke" d="M338 249h0m22-1h0m30-5h0m20 6h0m13 2h0m27 11h0m-3-1h0m-15-8h0m-1 10h0m-11-6h0m-3-2h0m-1 5h0m-6 0h0m-2-7h0m-4 3h0m-12 2h0m-4-3h0m-2 4h0m-4 3h0m-4-7h0m-2 7h0m-3-4h0m-49 13h0m7-5h0m7 0h0m3 8h0m8-8h0m6-1h0m4 0h0m10 7h0m4-6h0m20-1h0m7 1h0m5-1h0m29 3h0m10 5h0m14 0h0m0-6h0m25 12h0m-6 6h0m-9 1h0m-6-7h0m-8-1h0m-128 7h0m-5 1h0m-1-8h0m-7 4h0m-9 5h0m0-4h0m-8-7h0m-23 4h0m21 9h0m6 10h0m1-3h0m7 3h0m6-9h0m144-1h0m6 5h0m3-3h0m7-1h0m1 5h0m1-3h0m26-2h0m84 12h0m-45 5h0m-49-3h0m-1 7h0m-5-6h0m-6-1h0m-8 3h0m-154-2h0m-5 0h0m-18-4h0m-5 22h0m1-6h0m16-2h0m4 5h0m2-8h0m169 4h0m1-3h0m3 8h0m2 2h0m16-3h0m4 9h0m-7-4h0m-11 4h0m0-5h0m-177 0h0m0 9h0m-6-5h0m-1 2h0m-22 3h0m15 12h0m8-3h0m1-1h0m2 4h0m193-7h0m0 5h0m5-2h0m16 8h0m-13 6h0m-5-7h0m-183 5h0m-8-1h0m-5 4h0m-4 0h0m-10-3h0m0 18h0m3-11h0m0 5h0m4-2h0m11-2h0m7 7h0m0-7h0m6 6h0m177-5h0m0 3h0m7-5h0m2 7h0m96-3h0m-40 10h0m-44 8h0m-11-4h0m-2-5h0m-2 5h0m-184 5h0m-8-6h0m-2 6h0m-10-1h0m-4-6h0m-2 3h0m-7-2h0m-3 16h0m10 0h0m0-8h0m6 7h0m1-4h0m5-4h0m1 3h0m11-2h0m190 9h0m2-6h0m6-4h0m1 6h0m30 5h0m61 5h0m-58 1h0m-27 4h0m-6-5h0m-7 1h0m-206 4h0m-5 1h0m-2-7h0m-37 3h0m34 11h0m8 6h0m214-4h0m3 3h0m5-6h0m4 5h0m-8 12h0m-1-5h0m-228-4h0m-4 4h0m-7 4h0m4 6h0m8 6h0m4-2h0m1 4h0m226 0h0m4-7h0m9 4h0m27-2h0m-16 9h0m-15 0h0m-1 6h0m-223 3h0m-6-10h0m0 4h0m-4 3h0m-9-6h0m-4 4h0m-7 5h0m23 12h0m221-4h0m6-6h0m5 3h0m1 17h0m-2-3h0m-6 5h0m-1-4h0m-3 4h0m-212-10h0m-2-1h0m-3 10h0m-2-4h0m-2-1h0m-11 1h0m-8 8h0m4 5h0m4 0h0m10 2h0m1-8h0m226 5h0m21 3h0m134 10h0m-96-5h0m-10 7h0m-32-5h0m-5 7h0m-1-7h0m-11-2h0m-226-1h0m-3 4h0m-6-2h0m-2 15h0m11 1h0m238 3h0m4-3h0m2-1h0m2 3h0m73 12h0m-70 1h0m0-7h0m-8 6h0m-1-4h0m-241-1h0m-7 6h0m-2-7h0m-3 17h0m10-4h0m2-2h0m247 8h0m107-2h0m33 5h0m-120-1h0m-23 7h0m-3-7h0m-197 10h0m-4 0h0m-4-4h0m-9 2h0m-38-3h0m0 4h0m-8 0h0m5 10h0m1 1h0m4-7h0m4 6h0m26 2h0m2-1h0m3-3h0m6-3h0m14 8h0m1-4h0m196-5h0m6-1h0m7 6h0m-1 9h0m-4-1h0m-1 1h0m-4-2h0m-199 2h0m-16 7h0m-1-5h0m-6 4h0m-23 2h0m-1-9h0m-2 1h0m-5-2h0m-3 10h0m4 12h0m7-2h0m26-5h0m16 0h0m203-4h0m1 2h0m5 5h0m2-5h0m8 10h0m-2 5h0m-11 2h0m-1-5h0m-249 9h0m-3-11h0m-6 15h0m5 0h0m8 2h0m250 0h0m7 2h0m9 2h0m3 9h0m-10-4h0m-6-1h0m-249 1h0m-3 6h0m-3-7h0m-2 9h0m-26-5h0m10 14h0m5-3h0m6 4h0m3-6h0m8 2h0m142-1h0m4 3h0m4-2h0m3-2h0m0 4h0m7-5h0m1 5h0m7 5h0m89-3h0m1-3h0m6 2h0m0-4h0m37-2h0m-35 17h0m-6-2h0m-96 2h0m-22-1h0m-153 5h0m-2-5h0m-12 5h0m13 11h0m151-9h0m3 5h0m3-5h0m0 4h0m9 0h0m1-4h0m107 1h0m5 2h0m1-1h0m2 6h0m13-5h0m-15 9h0m-4 11h0m-115-11h0m-153 10h0m-4-10h0m-3 11h0m-10-8h0m5 19h0m5-7h0m2 2h0m1 4h0m272-5h0m7-4h0m1 8h0m19-5h0m35 17h0m-47 3h0m-3-2h0m-5-2h0m-2 3h0m-3-3h0m-3-6h0m-268 8h0m-1-6h0m-8 2h0m0 13h0m287 4h0m5-6h0m37 8h0m-20 1h0m-6 10h0m-7-8h0m-292-2h0m-5 3h0m-16 7h0m17 3h0m7-2h0m0 4h0m288-2h0m5 6h0m3-7h0m82 13h0m-82 8h0m-2-5h0m-8-1h0m-1-3h0m-281 8h0m-5-9h0m-1 3h0m-1 7h0m-3-6h0m3 17h0m9-4h0m193 1h0m3 3h0m3-9h0m8 0h0m6 3h0m2-1h0m2 4h0m67-2h0m4 2h0m19 13h0m-17-3h0m-8-2h0m-1 8h0m-4 0h0m-56-1h0m-3-7h0m-4-2h0m-20 3h0m-7 0h0m-186 2h0m-4 5h0m-17-2h0m16 6h0m2 6h0m5 1h0m187-3h0m1-5h0m5 10h0m2-5h0m4-1h0m3-4h0m7 1h0m5 6h0m62-4h0m6 3h0m3 4h0m13-4h0m-6 6h0m-1 10h0m-8-4h0m-6 1h0m-227-4h0m-8 1h0m-11 5h0m-2-3h0m-23 4h0m-8-4h0m-4-6h0m-2 3h0m-9 2h0m13 6h0m11 9h0m22 0h0m3-3h0m4-3h0m12-2h0m4 8h0m1-8h0m5 7h0m218-5h0m3 6h0m45 2h0m23 9h0m-40-5h0m-23-2h0m-2 7h0m-4 0h0m-1-4h0m-224 1h0m-7 3h0m0-1h0m-9 4h0m-3-6h0m-1 6h0m-6 0h0m-29-11h0m-7 5h0m-6 14h0m3 2h0m6-9h0m7 1h0m52 3h0m228 3h0m1-1h0m11 0h0m0 10h0m-4 3h0m-175 4h0m-2-5h0m-10 0h0m-1-2h0m-4 2h0m-96-5h0m-6 5h0m-1 4h0m-2 8h0m8 3h0m1-5h0m7 3h0m6 0h0m4 3h0m70-9h0m4 9h0m2-10h0m0 7h0m6-7h0m13 4h0m4 2h0m2 3h0m170-6h0m2 8h0m50-3h0m-45 11h0m-4-1h0m-9-6h0m-1 11h0m-162-8h0m-7-3h0m-5 4h0m-3 4h0m-2 2h0m-10-3h0m-4-2h0m-72-3h0m-5 1h0m-4 0h0m-11 1h0m-3 1h0m1 8h0m4 5h0m3 3h0m12-2h0m5-3h0m262 0h0m5 7h0m11-10h0m6 22h0m-5-2h0m-10-1h0m-10-1h0m-84 2h0m-14-3h0m-4-1h0m-159-4h0m-2 1h0m-6 4h0m-2 3h0m-7-4h0m-1 6h0m-4 3h0m3 8h0m164 0h0m1-3h0m0 3h0m12-9h0m14 4h0m1 4h0m0-9h0m2 4h0m82-1h0m3 4h0m1 2h0m4-7h0m6 14h0m-11 2h0m-81-3h0m-3-1h0m-5 5h0m-9 0h0m-8-5h0m0 2h0m-6 6h0m0-3h0m-160-5h0m-5 4h0m0 17h0m7-1h0m4-10h0m162 4h0m3 3h0m5-5h0m4-1h0m6 2h0m84 8h0m2-10h0m7 7h0m5 1h0m69 10h0m-76-2h0m-4-1h0m-278 14h0m1 4h0m0-9h0m7 8h0m6-3h0m92 4h0m7-4h0m0-5h0m1 0h0m3 9h0m1-2h0m164-1h0m1-6h0m4 10h0m26-5h0m-29 15h0m-163-7h0m0 4h0m-2 1h0m-22-6h0m0 9h0m-7-2h0m-70-3h0m-7 2h0m-4-5h0m-36 7h0m11 11h0m32-7h0m6 7h0m71-6h0m1 7h0m11-2h0m2-1h0m3-2h0m4-1h0m5 7h0m2-7h0m156 3h0m2-3h0m4 2h0m3 13h0m-1-6h0m-8 6h0m-1 4h0m-255-4h0m-4 4h0m-2-8h0m6 13h0m7-1h0m4 4h0m44 5h0m202-6h0m2 6h0m5-5h0m0 4h0m22 0h0m-17 13h0m-4-5h0m-15 4h0m-9-2h0m-2 1h0m-41 1h0m-7-2h0m-1 2h0m-16-3h0m0-3h0m-7 1h0m-5-1h0m-5 1h0m-97 5h0m-3-2h0m-9-1h0m-4-6h0m-5 7h0m-2-8h0m-5 9h0m-7-2h0m-13-1h0m-1-5h0m-3 0h0m-5 10h0m-6 1h0m10 2h0m4-2h0m8 5h0m5 2h0m2-7h0m4 8h0m23-8h0m11 2h0m2 5h0m20 3h0m16-1h0m5-1h0m16-1h0m22-1h0m11 2h0m1-5h0m8-2h0m5 2h0m7 8h0m7-8h0m16 0h0m5 1h0m9 6h0m2-4h0m5 1h0m16 0h0m6-7h0m4 1h0m8 1h0m10 3h0m95 15h0m-3 0h0m-9 0h0m-5 0h0m-10 0h0m-16 0h0m-3 0h0m-10 0h0m-4 0h0m-9 0h0m-7 0h0m-5 0h0m-6 0h0m-9 0h0m-8 0h0m-4 0h0m-12-6h0m-4 6h0m-8-8h0m0 8h0m-7 0h0m-8-6h0m-12 2h0m-9 4h0m-7 0h0m-5 0h0m-4 0h0m-12 0h0m-4 0h0m-7 0h0m-5 0h0m-13 0h0m-5 0h0m-9 0h0m-3 0h0m-5 0h0m-13 0h0m-4 0h0m-9 0h0m-7 0h0m-6 0h0m-3 0h0m-13-8h0m-14 8h0m-4 0h0m-10 0h0m-5 0h0m-3 0h0m-5-8h0m-7 8h0m-7 0h0m-8 0h0m-3 0h0m-9 0h0" stroke="#1f77b4" stroke-width="2.7"/></g></g>
<rect x="82.50" y="39.50" width="151.00" height="139.00" fill="none" stroke="#000" stroke-width="1.11"/>
<path d="M89.50 178.50v4.86M223.50 178.50v4.86M82.50 122.50h-4.86M82.50 49.50h-4.86" stroke="#000" stroke-width="1.11" fill="none"/>
<g class="tk">
<text x="88.96" y="205.00" text-anchor="middle" textLength="11.1" lengthAdjust="spacingAndGlyphs">0</text>
<text x="219.85" y="205.00" text-anchor="middle" textLength="44.4" lengthAdjust="spacingAndGlyphs">1000</text>
<text x="70.50" y="131.10" text-anchor="end" textLength="33.3" lengthAdjust="spacingAndGlyphs">500</text>
<text x="69.10" y="57.80" text-anchor="end" textLength="44.4" lengthAdjust="spacingAndGlyphs">1000</text>
</g>
<text class="al" x="156.50" y="228" text-anchor="middle" textLength="134" lengthAdjust="spacingAndGlyphs">CD45-KrOrange</text>
<text class="al" transform="translate(18.10,108.5) rotate(-90)" text-anchor="middle" textLength="35.6" lengthAdjust="spacingAndGlyphs">FSC</text>
<clipPath id="ct1"><rect x="332.50" y="39.50" width="151.00" height="139.00"/></clipPath><g clip-path="url(#ct1)" fill="none" stroke-linecap="round"><g transform="translate(339.36,195.50) scale(0.13419,-0.146)"><path d="M42 176h7v7h-7zM70 176h20v7h-20zM25 183h69v7h-69zM-2 190h105v7h-105zM-3 197h107v7h-107zM-2 204h107v7h-107zM0 211h32v7h-32zM44 211h64v7h-64zM-1 218h28v7h-28zM48 218h58v7h-58zM-5 225h31v7h-31zM47 225h58v7h-58zM-4 232h32v7h-32zM41 232h63v7h-63zM-5 239h113v7h-113zM-3 246h112v7h-112zM4 253h106v7h-106zM4 260h100v7h-100zM1 267h29v7h-29zM47 267h55v7h-55zM3 274h26v7h-26zM48 274h53v7h-53zM2 281h31v7h-31zM44 281h59v7h-59zM-3 288h118v7h-118zM-6 295h118v7h-118zM-4 302h44v7h-44zM49 302h62v7h-62zM-3 309h39v7h-39zM52 309h63v7h-63zM-1 316h38v7h-38zM51 316h64v7h-64zM-2 323h30v7h-30zM48 323h60v7h-60zM209 323h4v7h-4zM-2 330h29v7h-29zM51 330h58v7h-58zM125 330h16v7h-16zM199 330h32v7h-32zM-3 337h32v7h-32zM50 337h58v7h-58zM124 337h13v7h-13zM199 337h30v7h-30zM-3 344h118v7h-118zM117 344h16v7h-16zM198 344h30v7h-30zM-2 351h103v7h-103zM109 351h25v7h-25zM195 351h36v7h-36zM-3 358h96v7h-96zM116 358h22v7h-22zM197 358h47v7h-47zM-4 365h96v7h-96zM117 365h43v7h-43zM201 365h34v7h-34zM-5 372h100v7h-100zM114 372h10v7h-10zM136 372h20v7h-20zM203 372h31v7h-31zM-4 379h107v7h-107zM202 379h34v7h-34zM-4 386h106v7h-106zM194 386h45v7h-45zM-4 393h104v7h-104zM175 393h22v7h-22zM218 393h26v7h-26zM-1 400h102v7h-102zM182 400h14v7h-14zM223 400h23v7h-23zM0 407h107v7h-107zM190 407h13v7h-13zM223 407h20v7h-20zM245 407h5v7h-5zM-4 414h115v7h-115zM150 414h5v7h-5zM197 414h17v7h-17zM216 414h17v7h-17zM-4 421h111v7h-111zM147 421h13v7h-13zM198 421h34v7h-34zM-5 428h113v7h-113zM142 428h19v7h-19zM213 428h22v7h-22zM14 435h62v7h-62zM92 435h14v7h-14zM143 435h15v7h-15zM159 435h15v7h-15zM214 435h30v7h-30zM-5 442h5v7h-5zM15 442h42v7h-42zM70 442h5v7h-5zM93 442h9v7h-9zM145 442h6v7h-6zM167 442h8v7h-8zM196 442h5v7h-5zM210 442h13v7h-13zM-4 449h8v7h-8zM11 449h45v7h-45zM71 449h7v7h-7zM90 449h13v7h-13zM144 449h7v7h-7zM192 449h28v7h-28zM-3 456h62v7h-62zM68 456h36v7h-36zM128 456h22v7h-22zM184 456h35v7h-35zM-2 463h26v7h-26zM39 463h69v7h-69zM116 463h31v7h-31zM183 463h28v7h-28zM213 463h13v7h-13zM227 463h12v7h-12zM-4 470h27v7h-27zM40 470h73v7h-73zM128 470h16v7h-16zM174 470h19v7h-19zM223 470h16v7h-16zM-3 477h30v7h-30zM36 477h38v7h-38zM89 477h16v7h-16zM129 477h15v7h-15zM175 477h15v7h-15zM224 477h14v7h-14zM-2 484h75v7h-75zM90 484h14v7h-14zM128 484h21v7h-21zM222 484h22v7h-22zM-3 491h80v7h-80zM85 491h19v7h-19zM126 491h30v7h-30zM217 491h26v7h-26zM0 498h105v7h-105zM223 498h7v7h-7zM2 505h111v7h-111zM1 512h108v7h-108zM206 512h7v7h-7zM215 512h11v7h-11zM-4 519h113v7h-113zM207 519h25v7h-25zM-5 526h14v7h-14zM23 526h85v7h-85zM205 526h31v7h-31zM-5 533h13v7h-13zM24 533h88v7h-88zM183 533h6v7h-6zM202 533h34v7h-34zM-4 540h14v7h-14zM22 540h82v7h-82zM170 540h17v7h-17zM206 540h30v7h-30zM-5 547h106v7h-106zM175 547h6v7h-6zM205 547h37v7h-37zM-3 554h105v7h-105zM205 554h34v7h-34zM-2 561h110v7h-110zM204 561h36v7h-36zM-3 568h113v7h-113zM152 568h25v7h-25zM207 568h39v7h-39zM-4 575h105v7h-105zM127 575h33v7h-33zM162 575h5v7h-5zM206 575h39v7h-39zM-4 582h104v7h-104zM117 582h16v7h-16zM148 582h5v7h-5zM202 582h42v7h-42zM-4 589h104v7h-104zM205 589h38v7h-38zM-5 596h107v7h-107zM206 596h25v7h-25zM241 596h7v7h-7zM-6 603h115v7h-115zM210 603h17v7h-17zM-4 610h112v7h-112zM117 610h7v7h-7zM125 610h4v7h-4zM210 610h17v7h-17zM-4 617h107v7h-107zM120 617h13v7h-13zM208 617h26v7h-26zM235 617h13v7h-13zM-6 624h110v7h-110zM119 624h17v7h-17zM157 624h6v7h-6zM202 624h45v7h-45zM-5 631h116v7h-116zM112 631h50v7h-50zM205 631h43v7h-43zM-3 638h142v7h-142zM209 638h22v7h-22zM-4 645h141v7h-141zM225 645h5v7h-5zM-3 652h141v7h-141zM157 652h20v7h-20zM-2 659h83v7h-83zM96 659h35v7h-35zM146 659h34v7h-34zM1 666h79v7h-79zM97 666h34v7h-34zM146 666h35v7h-35zM0 673h80v7h-80zM96 673h42v7h-42zM139 673h41v7h-41zM213 673h9v7h-9zM224 673h20v7h-20zM-4 680h86v7h-86zM95 680h7v7h-7zM112 680h28v7h-28zM156 680h24v7h-24zM212 680h35v7h-35zM-4 687h103v7h-103zM158 687h14v7h-14zM192 687h9v7h-9zM203 687h18v7h-18zM232 687h17v7h-17zM-4 694h104v7h-104zM156 694h15v7h-15zM192 694h27v7h-27zM235 694h15v7h-15zM-5 701h122v7h-122zM189 701h7v7h-7zM209 701h9v7h-9zM-4 708h119v7h-119zM172 708h19v7h-19zM211 708h10v7h-10zM-5 715h114v7h-114zM173 715h15v7h-15zM210 715h5v7h-5zM-3 722h63v7h-63zM73 722h35v7h-35zM178 722h9v7h-9zM-4 729h63v7h-63zM74 729h28v7h-28zM123 729h7v7h-7zM179 729h6v7h-6zM231 729h5v7h-5zM-4 736h67v7h-67zM70 736h31v7h-31zM127 736h17v7h-17zM177 736h9v7h-9zM225 736h19v7h-19zM-5 743h107v7h-107zM133 743h13v7h-13zM176 743h12v7h-12zM225 743h22v7h-22zM-3 750h106v7h-106zM138 750h10v7h-10zM221 750h22v7h-22zM-2 757h103v7h-103zM228 757h9v7h-9zM-1 764h100v7h-100zM2 771h92v7h-92zM95 771h6v7h-6zM3 778h84v7h-84zM-1 785h89v7h-89zM-5 792h105v7h-105zM-1 799h100v7h-100zM2 806h91v7h-91zM1 813h93v7h-93zM-5 820h100v7h-100zM1010 820h8v7h-8zM-3 827h105v7h-105zM1013 827h5v7h-5zM-2 834h111v7h-111zM1013 834h5v7h-5zM-4 841h106v7h-106zM1013 841h5v7h-5zM-1 848h100v7h-100zM1012 848h5v7h-5zM2 855h96v7h-96zM1011 855h7v7h-7zM1 862h13v7h-13zM27 862h58v7h-58zM92 862h8v7h-8zM28 869h52v7h-52zM96 869h5v7h-5zM25 876h56v7h-56zM95 876h12v7h-12zM-3 883h10v7h-10zM26 883h87v7h-87zM-3 890h16v7h-16zM22 890h97v7h-97zM5 897h96v7h-96zM6 904h48v7h-48zM70 904h29v7h-29zM4 911h49v7h-49zM71 911h27v7h-27zM2 918h55v7h-55zM68 918h31v7h-31zM-5 925h110v7h-110zM132 925h8v7h-8zM-4 932h104v7h-104zM126 932h14v7h-14zM-4 939h101v7h-101zM125 939h7v7h-7zM0 946h98v7h-98zM3 953h105v7h-105zM2 960h101v7h-101zM0 967h102v7h-102zM0 974h26v7h-26zM43 974h59v7h-59zM1 981h24v7h-24zM44 981h51v7h-51zM-1 988h28v7h-28zM42 988h54v7h-54zM1 995h105v7h-105zM3 1002h106v7h-106zM2 1009h102v7h-102zM2 1016h33v7h-33zM36 1016h50v7h-50zM88 1016h15v7h-15zM2 1023h6v7h-6zM16 1023h4v7h-4z" fill="#808080" stroke="none"/><path vector-effect="non-scaling-stroke" d="M49 166h0m-7 12h0m25 0h0m10-4h0m10 1h0m50 12h0m-8-1h0m-7-4h0m-17 2h0m-7 2h0m-7 2h0m-4 0h0m-1 2h0m-8-9h0m0 2h0m-5 5h0m-9-1h0m-10 1h0m-3-7h0m-6 4h0m-7-5h0m-9 2h0m-2 4h0m-10 0h0m-2 4h0m-5-3h0m-8 2h0m-6 9h0m3-5h0m6 3h0m9 0h0m17-4h0m0 10h0m3 1h0m56-5h0m4-1h0m6-3h0m3 7h0m22-5h0m8-4h0m15 7h0m10-7h0m56 1h0m299 17h0m-31 0h0m-34-2h0m-230-4h0m-8 4h0m-42-4h0m-8 5h0m-18 1h0m-3-2h0m-31 6h0m-8-3h0m-2-5h0m-2 2h0m-42 4h0m-7-3h0m-3 5h0m-7-7h0m-6 8h0m-4-5h0m-2-4h0m-25 3h0m-3 14h0m5-7h0m2 3h0m13 7h0m10-8h0m20-1h0m8 2h0m0 5h0m41-6h0m8 4h0m19-6h0m4 8h0m50 1h0m10 0h0m6-9h0m25 9h0m344-9h0m0 15h0m-394-1h0m-6 5h0m0 4h0m-19-2h0m-11-4h0m-27 6h0m-2-1h0m-1-10h0m-1 4h0m-5-3h0m-41 7h0m-9-5h0m-5 3h0m-12 2h0m-6-8h0m-18 6h0m-1-5h0m-8 0h0m0 21h0m0-8h0m10 6h0m13-8h0m7 2h0m6-1h0m7 3h0m4-3h0m1 5h0m56 4h0m7-4h0m26-5h0m10 7h0m32-5h0m2 3h0m8 0h0m8-1h0m6-4h0m3 8h0m-1 4h0m-9 2h0m-55 0h0m-19 4h0m-11 0h0m-12 0h0m-41 2h0m-12-1h0m-17 0h0m-14 0h0m-3-4h0m-2 6h0m-2-10h0m-4 17h0m7 6h0m3-4h0m10-3h0m2 4h0m10-5h0m4-2h0m1 1h0m9 2h0m5 1h0m43 1h0m5 3h0m2-8h0m45 6h0m2-1h0m7-3h0m17 6h0m15 1h0m17-8h0m21 9h0m2-3h0m-9 11h0m-40-7h0m-32 6h0m-3-6h0m-20 10h0m-16 1h0m-7-5h0m-7-6h0m-39 11h0m-1-4h0m-1-5h0m-6 9h0m-4-3h0m-4 0h0m-5 0h0m-11 1h0m-13-4h0m-5 0h0m-8 14h0m3-6h0m4 0h0m7 2h0m17 2h0m1-2h0m9 7h0m8 0h0m50-9h0m7 2h0m12 4h0m7-4h0m7 0h0m37 7h0m28-9h0m29-1h0m487 11h0m-601 11h0m-4-10h0m-44 4h0m-2 5h0m-6-1h0m-2-5h0m-8 1h0m-3-2h0m-5 9h0m-3-9h0m-4 4h0m-22 1h0m-9-5h0m1 10h0m3 11h0m0-8h0m20 7h0m2-7h0m7 5h0m25-2h0m2-3h0m4 8h0m48-7h0m9-4h0m35 6h0m12-5h0m621 1h0m-553 10h0m-9 10h0m-6-8h0m-7-2h0m-13 7h0m-24-2h0m-25 0h0m-14-3h0m-9 3h0m-2-5h0m-17 9h0m-1-7h0m-3 1h0m0 5h0m-50-2h0m-8-6h0m-15 0h0m-4 1h0m-3 9h0m-22-4h0m-1-3h0m-3 18h0m3-7h0m4 6h0m1-3h0m20 4h0m2-8h0m2 4h0m6 4h0m8-2h0m9 2h0m3-3h0m40 5h0m10-10h0m13 9h0m3-1h0m7-9h0m10 4h0m31 4h0m32-6h0m6 1h0m7-1h0m6-2h0m4 7h0m8-5h0m410 5h0m42 13h0m-434 1h0m-8-1h0m-9 0h0m-2-2h0m-8-1h0m-17-5h0m-8 1h0m-3 4h0m-19 2h0m-7-1h0m-5 1h0m-3-6h0m-26 7h0m-9-6h0m-12 8h0m-8-4h0m-10 5h0m-4-8h0m-43-1h0m-9-1h0m-10 1h0m-29 4h0m-4 9h0m2 6h0m4-3h0m80-1h0m6 2h0m31-4h0m4 7h0m6-3h0m13 0h0m8-5h0m7 9h0m1-2h0m41-5h0m5 1h0m21 5h0m12-5h0m3-1h0m418 8h0m-422 11h0m-5-8h0m-6 5h0m-14-4h0m-6 6h0m-2-10h0m-21 2h0m-30 8h0m-9-7h0m-3 5h0m-14-6h0m-5 0h0m-8 1h0m-6 2h0m-6 3h0m-6-5h0m-7 6h0m0-4h0m-88 3h0m-3-5h0m-1 9h0m2 7h0m6-4h0m85-2h0m4 8h0m2-5h0m4 5h0m1-3h0m20-2h0m8 6h0m6-1h0m22-7h0m24 3h0m7 3h0m8-5h0m13 5h0m4-7h0m4 10h0m7-8h0m2 7h0m17 0h0m512-4h0m261 7h0m-769 8h0m-10 1h0m-4-9h0m-11-1h0m0 3h0m-27-3h0m-10 9h0m-3-4h0m-4-5h0m-4 1h0m-21-1h0m-29 1h0m-18 10h0m-14-8h0m-91 3h0m-2-5h0m-2 2h0m1 16h0m3 0h0m6-3h0m92 1h0m1-5h0m6 8h0m13 2h0m8-4h0m24 4h0m3-9h0m35 2h0m4-2h0m6 7h0m3-4h0m3-3h0m1 4h0m16 1h0m6 5h0m2-11h0m10 4h0m9-3h0m2 4h0m-18 16h0m-3-7h0m-16 5h0m-8 0h0m-1-1h0m-3-2h0m-10 6h0m-15-10h0m-18 1h0m-6 4h0m-10 2h0m-4 1h0m-12-1h0m-22-3h0m0 6h0m-23-4h0m-2 5h0m-4-1h0m-57 1h0m-8-5h0m-9-4h0m-4 0h0m-1 9h0m3 7h0m14-3h0m2 2h0m3 6h0m4 0h0m36-2h0m4-4h0m1 1h0m0 3h0m21-6h0m1-3h0m10 7h0m10 0h0m2-6h0m11 4h0m9 5h0m18-6h0m1 7h0m3-10h0m1 10h0m3-3h0m3-6h0m3-2h0m6 6h0m1 4h0m2-7h0m10-3h0m20 11h0m17-3h0m8-6h0m9 3h0m11 3h0m6-8h0m536 3h0m-553 9h0m-14 7h0m-11-4h0m-6 5h0m-11 0h0m-6 3h0m-11-9h0m-4 3h0m-20 4h0m-4 0h0m-14 2h0m-12-11h0m-18 8h0m-3-5h0m-3-3h0m-3 9h0m-10 0h0m-9-4h0m-1-4h0m-19 8h0m0-9h0m-5 11h0m-1-11h0m0 5h0m-22 6h0m-10-4h0m-8 4h0m0-3h0m-11-8h0m0 12h0m3 11h0m6-6h0m0 1h0m15 3h0m4-3h0m10-4h0m0 4h0m1-6h0m5 9h0m13-1h0m1-6h0m7 2h0m14 2h0m2-6h0m18 4h0m6-4h0m2 11h0m15-3h0m15-3h0m11 5h0m6-7h0m39 7h0m11-4h0m3 1h0m9 2h0m5-3h0m8 4h0m10-6h0m1 5h0m490 0h0m179-9h0m109 3h0m3 0h0m1 16h0m-3-7h0m0 10h0m-1-9h0m-765 0h0m-13 3h0m-10 6h0m-8-9h0m-17 4h0m-17 2h0m-5-1h0m-5-5h0m-4-1h0m-27 3h0m-4 5h0m-10-3h0m-19 3h0m-5-8h0m-3 3h0m-8 1h0m-6 4h0m-11-3h0m-2 4h0m-4-7h0m-4 8h0m-1-7h0m-9-3h0m-11 0h0m-4 5h0m-22 0h0m-2 4h0m-5-1h0m-15 3h0m-2-5h0m3 12h0m20-3h0m3 6h0m10-4h0m1-5h0m8 0h0m4 0h0m19 8h0m7 1h0m19 0h0m2-8h0m2 7h0m0 3h0m8-2h0m27-6h0m16 6h0m3-3h0m14 0h0m13 1h0m2-7h0m9 0h0m2 5h0m5 4h0m29-2h0m5-1h0m4-3h0m3-3h0m5 4h0m7 2h0m636-2h0m88 3h0m44-1h0m2 3h0m2 2h0m-1 8h0m-3 4h0m-773-5h0m-10 3h0m-4 0h0m-4-4h0m-10-2h0m-6 3h0m-6 4h0m-4-7h0m-42 6h0m-11-6h0m-2 2h0m-11-2h0m0 4h0m-7-4h0m-21 5h0m-10 2h0m-3-7h0m-2 3h0m-6-2h0m-10 3h0m-2-3h0m-64 0h0m-5 6h0m-3-7h0m-1 2h0m5 18h0m1-11h0m6 1h0m61-1h0m9 0h0m21 4h0m6-3h0m12 3h0m1-3h0m19 8h0m29 0h0m18-3h0m5 3h0m14-2h0m11 3h0m7-3h0m1-1h0m22-3h0m495 8h0m213-10h0m62 5h0m1 1h0m1 14h0m-2-4h0m-1 5h0m-109-1h0m-170 0h0m-496-4h0m-10-1h0m-8-2h0m-13 5h0m-42-2h0m-17 2h0m-12 1h0m-30-3h0m-6-2h0m-70 8h0m-10-3h0m-3 0h0m-6 1h0m-1-2h0m-6 2h0m-5-7h0m-3 1h0m-1 17h0m1-8h0m8 9h0m17-9h0m4 9h0m79-8h0m11 7h0m11 1h0m19-9h0m1 0h0m9 3h0m29 3h0m7-4h0m7 4h0m3-3h0m3 7h0m8-4h0m14-1h0m4-4h0m4 5h0m777-1h0m3 5h0m2 11h0m-3 0h0m-767 0h0m-4 0h0m-11-2h0m-17-5h0m-6 7h0m-3-9h0m-21 5h0m-13-4h0m0 7h0m-13-7h0m-7 2h0m-24-3h0m-12 1h0m-8 1h0m-10 8h0m-66-9h0m-12 8h0m-4-4h0m-9-2h0m-3-3h0m-1 6h0m-7 3h0m2 8h0m6 2h0m4-6h0m2-1h0m82 3h0m0 5h0m4-8h0m5 6h0m5 5h0m27-7h0m1-4h0m19 9h0m25-8h0m26 0h0m30 7h0m1-3h0m780-2h0m0 14h0m0-3h0m-2-2h0m-43 8h0m-724 1h0m-4-7h0m-3 5h0m-6 1h0m-3-8h0m-14 3h0m-11-2h0m-29 8h0m-3-5h0m-4-2h0m-9-1h0m-9 10h0m-15-5h0m-26 4h0m-9-6h0m-4 0h0m-96 2h0m-2 0h0m0-4h0m-3 13h0m0 2h0m8 5h0m88-7h0m5 7h0m6-10h0m15 5h0m4 4h0m2-8h0m7 9h0m1-7h0m11 3h0m7 5h0m15-7h0m12-3h0m27 6h0m1-4h0m5 2h0m31 4h0m1-7h0m771-1h0m2 5h0m2-4h0m-1 17h0m-2-1h0m-767 4h0m-7-6h0m-15-2h0m-23 0h0m-11-1h0m-4 8h0m-60-9h0m-2 5h0m-7-4h0m-20 5h0m-2-1h0m-5 6h0m-87-11h0m-2 10h0m-5 1h0m0-8h0m-1 15h0m0 5h0m6-4h0m99 1h0m5-6h0m14 9h0m8 0h0m8-11h0m14 6h0m6-5h0m1 2h0m15-2h0m17 6h0m19-5h0m0-1h0m6 6h0m8-4h0m2 4h0m6-7h0m13 0h0m3 6h0m767 4h0m1-4h0m3 12h0m-2-5h0m-1 10h0m-52-1h0m-9-10h0m-89 5h0m-616 2h0m-4-6h0m-3 7h0m-9-1h0m-10-5h0m-2 8h0m-9-8h0m-40 6h0m-12 3h0m-28-4h0m-10-1h0m-14-4h0m-14 5h0m-97 3h0m0 3h0m0 7h0m99-3h0m1 6h0m5-8h0m19 1h0m8-4h0m0 10h0m5-1h0m8-4h0m2 6h0m7-3h0m12-6h0m24-2h0m13 4h0m5-3h0m2 10h0m16 0h0m7-6h0m2-3h0m12 7h0m3 0h0m768-2h0m1 2h0m2 8h0m-4-2h0m-36 6h0m-724-5h0m-4 2h0m-16-4h0m-4 0h0m-10 8h0m-4-9h0m-53 9h0m-2-9h0m-10 0h0m-12 4h0m-17-3h0m-16-2h0m-102 5h0m-6-4h0m-1 15h0m0-2h0m6-2h0m70 6h0m7 0h0m5 4h0m9-2h0m7-2h0m5 4h0m20 1h0m4-8h0m10 5h0m17-1h0m10 1h0m6-4h0m4 2h0m17-2h0m12-1h0m23 0h0m786 5h0m1-1h0m2-6h0m1 14h0m-218 8h0m-552-11h0m-5 9h0m-40-9h0m-1 5h0m-21 6h0m-4-11h0m-17 7h0m-9-7h0m-5 11h0m-18-6h0m-24 4h0m-1-7h0m-6-2h0m-19 11h0m-1-11h0m-4 2h0m-1 8h0m-64-6h0m-3-4h0m-2 10h0m-5-6h0m-2 17h0m6 1h0m2-10h0m70 6h0m4 1h0m18 4h0m1-10h0m4 1h0m4 8h0m13-3h0m10-7h0m2 7h0m15 3h0m3-5h0m6 4h0m4-5h0m18 2h0m37 5h0m1-11h0m3 9h0m1-6h0m6 5h0m5-7h0m2 8h0m5-7h0m9 7h0m768-8h0m1 9h0m1-1h0m3-3h0m-2 14h0m-2-1h0m-767 0h0m-4-5h0m-3 9h0m-5-2h0m0-1h0m-13-3h0m-14-2h0m-13 0h0m-1 6h0m-15-8h0m-8 2h0m-9 3h0m-2 2h0m-26-1h0m-10-6h0m-5 5h0m-2 1h0m-19-5h0m-1 0h0m-12 0h0m-13 0h0m-71 5h0m-3-2h0m-2 10h0m1 5h0m8-3h0m88-3h0m2 3h0m5-3h0m16 6h0m36-1h0m3-5h0m3 5h0m10-6h0m8 10h0m13-3h0m17-2h0m10-3h0m20 4h0m12-4h0m765 1h0m1-2h0m1 1h0m1 7h0m0 12h0m-2-5h0m-1 6h0m-55-6h0m-707-1h0m-24 5h0m-6-6h0m-1 6h0m-4 0h0m-3-9h0m-21 0h0m-5 7h0m-14-3h0m-22 6h0m-38-3h0m-8-4h0m-53 5h0m-50-4h0m-4 0h0m-2 6h0m3 8h0m3-6h0m51 10h0m6-7h0m8-2h0m5 2h0m9-1h0m2 9h0m13-6h0m2 6h0m4-7h0m4 4h0m20-2h0m30-2h0m7 2h0m16-2h0m7 1h0m21-5h0m2 3h0m24 7h0m15-2h0m765 2h0m1-9h0m2 1h0m0 19h0m-24-4h0m-263 0h0m-486 6h0m-3-2h0m-15-3h0m-10-4h0m-14 6h0m-15 0h0m-7-3h0m-26-3h0m-9 4h0m-1 5h0m-5-7h0m-9 5h0m-6-7h0m-3 5h0m-22-3h0m-3-4h0m0 7h0m-18 2h0m-1-8h0m-14 5h0m-6-5h0m-4 6h0m-48-7h0m-5 9h0m-2-8h0m-1 9h0m0 9h0m4-5h0m59 3h0m6 2h0m1-5h0m5 2h0m20 7h0m6-8h0m3-2h0m4 4h0m31 5h0m6 1h0m7-1h0m17-9h0m9 1h0m8 9h0m14-9h0m25 6h0m15-6h0m5 4h0m4-4h0m8 6h0m467-5h0m204 7h0m90 1h0m1-5h0m1-3h0m-2 14h0m-22 1h0m-754-2h0m-2-4h0m-4 8h0m-15-4h0m-52 5h0m-7-2h0m-10-6h0m-3 0h0m-46 3h0m-8 0h0m-91 1h0m-1 10h0m9 3h0m73-3h0m4 8h0m3-4h0m9-4h0m3 6h0m14-3h0m91-6h0m18 9h0m790-8h0m1 8h0m0-6h0m2-2h0m0 5h0m-3 16h0m-911 0h0m-21-5h0m-3 6h0m-1-8h0m-71 3h0m-1-6h0m-6 7h0m-3 14h0m0-7h0m4 8h0m2-10h0m82 10h0m6-10h0m2 2h0m7 9h0m69-2h0m16 2h0m7-8h0m24-1h0m798 6h0m5-1h0m-2 10h0m-2-2h0m-778 6h0m-48 0h0m-27-3h0m-39 4h0m-36-3h0m-1 3h0m-80-9h0m-1 7h0m-8 15h0m0-8h0m10 8h0m2-2h0m80-2h0m4-6h0m1 9h0m74-2h0m26-4h0m12-1h0m8 7h0m23-3h0m775 0h0m3-7h0m1 0h0m0 4h0m2 7h0m0 11h0m-3-9h0m-1 10h0m-804-10h0m-50 8h0m-33-8h0m-5 7h0m-6 3h0m-7-3h0m-6-7h0m0 9h0m-100 1h0m-6 2h0m1 9h0m6-9h0m95 7h0m2-4h0m6-4h0m18 10h0m14 0h0m7-2h0m4-4h0m7-3h0m13 3h0m20-1h0m53 2h0m771 5h0m2-5h0m1 2h0m0 12h0m-2 2h0m-1-3h0m-807-1h0m-30-2h0m-6 1h0m-3 6h0m-27 0h0m-41 0h0m-4-9h0m-8 6h0m-6-5h0m-49 1h0m-6 0h0m-11 6h0m-3-2h0m-4 4h0m-5-7h0m-2 11h0m9 2h0m18-3h0m3 7h0m42-8h0m2 9h0m2-6h0m4-3h0m3 1h0m10-2h0m4 9h0m34-1h0m102-6h0m1 2h0m779 0h0m1 0h0m2 9h0m-2 8h0m-1-6h0m-1 8h0m-783-1h0m-36-4h0m-28 2h0m-3-8h0m-16 11h0m-18-7h0m-20 0h0m-5-3h0m-2 5h0m-6-2h0m-3 5h0m-5-1h0m-10-5h0m-7-1h0m-36-1h0m-3 6h0m-5 4h0m-1-9h0m-19 9h0m-4-6h0m-3 1h0m-3 2h0m1 11h0m5-1h0m3 4h0m5-6h0m4 2h0m17-2h0m23 5h0m12 2h0m8-2h0m10-6h0m10 7h0m5 0h0m5-9h0m16 1h0m15 4h0m8-2h0m84-3h0m530 8h0m255-5h0m3-3h0m1 19h0m-4-2h0m-262 5h0m-556-4h0m-32-4h0m-31 2h0m-16-3h0m-19 2h0m-1 7h0m-19-8h0m-3 0h0m-16 0h0m-9 5h0m-20-7h0m-10 2h0m-11-3h0m-2 11h0m-10 12h0m10 0h0m5-8h0m36 3h0m4-2h0m2 7h0m3-3h0m13 3h0m4-10h0m1 6h0m24 4h0m38 0h0m26-11h0m0 6h0m849-6h0m3 7h0m3 4h0m0 12h0m-2-7h0m-855-1h0m-15 6h0m-9-6h0m-8 7h0m-2-4h0m-22-6h0m-2 10h0m-7 1h0m0-11h0m-5 11h0m-23-2h0m-3-7h0m-2 6h0m-2-6h0m-54 6h0m0-5h0m-10 1h0m0 18h0m2-8h0m0-2h0m2 9h0m2-5h0m90 6h0m2-8h0m28 6h0m16-7h0m50 4h0m825 6h0m0-10h0m2 4h0m1 7h0m-1 4h0m-3 1h0m-802 1h0m-31 0h0m-14 4h0m-12-1h0m-2-6h0m-21 1h0m-20 0h0m-5 7h0m-3-2h0m-4-7h0m-3 7h0m-5-2h0m-82-6h0m-1 5h0m-4-2h0m0 11h0m2 6h0m16-3h0m15 5h0m59 0h0m5-8h0m27 1h0m13 6h0m11-7h0m68 8h0m9-3h0m788-3h0m1 5h0m-2 9h0m-1-2h0m0 3h0m-22 3h0m-849-5h0m-40 0h0m-3-6h0m-8 9h0m-2-1h0m-39 1h0m-19-7h0m-9 0h0m-3 4h0m-11 4h0m0-6h0m-13-3h0m2 17h0m5-5h0m4 9h0m8-6h0m7-4h0m12 11h0m1-2h0m10-3h0m1-6h0m3 4h0m39 0h0m4 1h0m40-4h0m25 1h0m858 4h0m2 11h0m0-2h0m-70-2h0m-755 8h0m-14-2h0m-14-1h0m-29 4h0m-7-5h0m-20-2h0m-3 3h0m-2-6h0m-6 3h0m-52 1h0m-2 2h0m-6-6h0m-5 7h0m-10-3h0m-4-4h0m-10 7h0m-6-4h0m1 16h0m1-5h0m6 6h0m1-6h0m6 6h0m8 1h0m1-6h0m7 3h0m5-6h0m3 10h0m4-4h0m6 5h0m19-1h0m6-4h0m3-2h0m1 7h0m10-4h0m3 1h0m13-7h0m55 9h0m37-10h0m814 9h0m2-4h0m4-3h0m2 18h0m-4-7h0m-2 6h0m-18 1h0m-15 0h0m-38 0h0m-13 0h0m-707 0h0m-44-4h0m-19-1h0m-13 0h0m-45 3h0m-1-5h0m-5 4h0m-18-1h0m-9 1h0m-9-4h0m-5 6h0m-11-2h0m-17-1h0m-9 4h0m-13 0h0m-7 0h0" stroke="#808080" stroke-width="2.7"/><path d="M349 246h6v7h-6zM351 253h36v7h-36zM354 260h37v7h-37zM353 267h42v7h-42zM368 274h21v7h-21zM373 281h14v7h-14zM372 288h17v7h-17zM318 295h24v7h-24zM373 295h19v7h-19zM317 302h25v7h-25zM372 302h9v7h-9zM294 309h8v7h-8zM313 309h23v7h-23zM374 309h6v7h-6zM479 309h25v7h-25zM291 316h39v7h-39zM410 316h6v7h-6zM479 316h16v7h-16zM498 316h7v7h-7zM311 323h9v7h-9zM322 323h7v7h-7zM402 323h19v7h-19zM480 323h6v7h-6zM360 330h5v7h-5zM391 330h52v7h-52zM360 337h12v7h-12zM382 337h67v7h-67zM325 344h13v7h-13zM361 344h87v7h-87zM325 351h15v7h-15zM359 351h85v7h-85zM329 358h13v7h-13zM363 358h80v7h-80zM364 365h81v7h-81zM360 372h104v7h-104zM320 379h17v7h-17zM347 379h121v7h-121zM304 386h17v7h-17zM352 386h114v7h-114zM275 393h9v7h-9zM315 393h5v7h-5zM351 393h117v7h-117zM269 400h14v7h-14zM339 400h129v7h-129zM260 407h17v7h-17zM335 407h4v7h-4zM352 407h120v7h-120zM330 414h7v7h-7zM354 414h118v7h-118zM321 421h18v7h-18zM355 421h116v7h-116zM323 428h17v7h-17zM352 428h123v7h-123zM264 435h14v7h-14zM322 435h14v7h-14zM356 435h122v7h-122zM260 442h19v7h-19zM318 442h15v7h-15zM357 442h124v7h-124zM260 449h12v7h-12zM311 449h4v7h-4zM351 449h127v7h-127zM258 456h8v7h-8zM288 456h25v7h-25zM346 456h14v7h-14zM373 456h102v7h-102zM303 463h12v7h-12zM352 463h6v7h-6zM374 463h102v7h-102zM310 470h13v7h-13zM356 470h4v7h-4zM372 470h107v7h-107zM311 477h5v7h-5zM359 477h124v7h-124zM310 484h7v7h-7zM358 484h126v7h-126zM292 491h21v7h-21zM359 491h128v7h-128zM295 498h15v7h-15zM360 498h124v7h-124zM298 505h7v7h-7zM357 505h127v7h-127zM347 512h137v7h-137zM343 519h145v7h-145zM355 526h134v7h-134zM270 533h5v7h-5zM358 533h132v7h-132zM566 533h16v7h-16zM271 540h16v7h-16zM357 540h140v7h-140zM564 540h11v7h-11zM270 547h13v7h-13zM355 547h151v7h-151zM565 547h7v7h-7zM268 554h9v7h-9zM345 554h153v7h-153zM569 554h4v7h-4zM269 561h7v7h-7zM339 561h158v7h-158zM266 568h4v7h-4zM342 568h140v7h-140zM344 575h137v7h-137zM342 582h144v7h-144zM337 589h150v7h-150zM331 596h155v7h-155zM345 603h142v7h-142zM269 610h10v7h-10zM346 610h139v7h-139zM271 617h9v7h-9zM343 617h143v7h-143zM273 624h9v7h-9zM347 624h147v7h-147zM272 631h14v7h-14zM296 631h7v7h-7zM348 631h149v7h-149zM267 638h34v7h-34zM345 638h152v7h-152zM280 645h20v7h-20zM345 645h149v7h-149zM285 652h13v7h-13zM342 652h146v7h-146zM332 659h156v7h-156zM300 666h6v7h-6zM331 666h160v7h-160zM299 673h20v7h-20zM333 673h165v7h-165zM307 680h11v7h-11zM334 680h163v7h-163zM308 687h5v7h-5zM336 687h164v7h-164zM338 694h164v7h-164zM338 701h163v7h-163zM338 708h150v7h-150zM336 715h149v7h-149zM311 722h175v7h-175zM310 729h13v7h-13zM334 729h147v7h-147zM305 736h6v7h-6zM340 736h140v7h-140zM340 743h147v7h-147zM304 750h5v7h-5zM339 750h141v7h-141zM301 757h15v7h-15zM340 757h139v7h-139zM298 764h14v7h-14zM336 764h147v7h-147zM334 771h151v7h-151zM333 778h161v7h-161zM327 785h165v7h-165zM321 792h170v7h-170zM319 799h175v7h-175zM321 806h169v7h-169zM319 813h170v7h-170zM336 820h156v7h-156zM337 827h159v7h-159zM335 834h164v7h-164zM329 841h171v7h-171zM323 848h177v7h-177zM332 855h170v7h-170zM555 855h13v7h-13zM333 862h168v7h-168zM557 862h18v7h-18zM330 869h166v7h-166zM555 869h5v7h-5zM326 876h169v7h-169zM327 883h172v7h-172zM323 890h171v7h-171zM326 897h167v7h-167zM326 904h169v7h-169zM322 911h176v7h-176zM323 918h174v7h-174zM320 925h180v7h-180zM324 932h170v7h-170zM495 932h8v7h-8zM331 939h156v7h-156zM332 946h155v7h-155zM329 953h161v7h-161zM322 960h172v7h-172zM326 967h172v7h-172zM326 974h184v7h-184zM323 981h174v7h-174zM322 988h173v7h-173zM325 995h171v7h-171zM326 1002h177v7h-177zM322 1009h182v7h-182zM315 1016h187v7h-187zM314 1023h13v7h-13zM328 1023h6v7h-6zM343 1023h5v7h-5zM367 1023h10v7h-10zM379 1023h10v7h-10zM405 1023h6v7h-6zM414 1023h5v7h-5zM436 1023h5v7h-5zM444 1023h29v7h-29zM475 1023h6v7h-6z" fill="#1f77b4" stroke="none"/><path vector-effect="non-scaling-stroke" d="M323 248h0m25-5h0m7 6h0m22 1h0m14-6h0m14 4h0m4 0h0m23 1h0m127 1h0m-14 4h0m-97 4h0m-33 2h0m0-3h0m-27 3h0m-10 3h0m-14-11h0m-4 11h0m-11-8h0m-30-1h0m2 14h0m33 1h0m6 1h0m3 5h0m5-5h0m22-4h0m8 7h0m3-2h0m7-3h0m2 5h0m20-5h0m69-3h0m12 8h0m9-5h0m1-4h0m59 5h0m9 0h0m-19 18h0m0-11h0m-10 7h0m-35 0h0m-16-2h0m-8 5h0m-7-2h0m-22-6h0m-10 8h0m0-10h0m-8 9h0m-26-4h0m-42-2h0m-3 8h0m0-6h0m-5-5h0m-10 2h0m-12-2h0m-70 5h0m-12 17h0m22-9h0m23 8h0m3-6h0m16 2h0m13-5h0m22 4h0m3 3h0m7-1h0m6-2h0m5 2h0m13 3h0m10 1h0m10-10h0m13 1h0m18 5h0m2-3h0m4 2h0m63-5h0m17 6h0m20-4h0m18 2h0m11 3h0m-26 7h0m-15 4h0m-9-4h0m-40 7h0m-12-2h0m-12 3h0m-4-5h0m-77-4h0m-14 1h0m-13 2h0m-18 3h0m-4 1h0m-10-8h0m-2 5h0m-7-1h0m-8-1h0m-4 3h0m-20 3h0m-1-2h0m-30-5h0m-6 17h0m18-3h0m3 7h0m2-3h0m8-5h0m11 1h0m5 0h0m3-3h0m14 7h0m8-5h0m42 0h0m3 0h0m28 8h0m5-6h0m3 5h0m2-5h0m28 3h0m17-7h0m20 7h0m8 2h0m0-6h0m4-1h0m30 5h0m10-4h0m11 2h0m35 4h0m-45 4h0m-23-2h0m-6 0h0m-22 5h0m-11 4h0m-32-8h0m-9 2h0m-11 6h0m-3-4h0m-10 1h0m-12-4h0m-8 9h0m-25-5h0m-34-1h0m-14 0h0m-16-5h0m-36 1h0m-2 6h0m-3 1h0m37 15h0m11-6h0m20 3h0m8-2h0m3 3h0m23-8h0m15 2h0m17 2h0m7 1h0m4-5h0m28-1h0m7 10h0m0-8h0m7 5h0m2-5h0m8 8h0m5-1h0m1-7h0m34 8h0m12-5h0m14 3h0m30-7h0m3 10h0m1-11h0m41 15h0m-25-3h0m-38 2h0m-27 2h0m-63 2h0m-5 1h0m-53-4h0m-14 8h0m0-4h0m-9-5h0m-1 8h0m-22-3h0m-3-7h0m-9 7h0m-17-1h0m-39-2h0m-12 17h0m8 2h0m4-7h0m34-3h0m27 5h0m12-2h0m23 7h0m4-7h0m64-4h0m6 9h0m1-4h0m17 5h0m6-6h0m34 6h0m27 0h0m17-5h0m17 0h0m7-1h0m22 0h0m3-3h0m4 0h0m-19 22h0m-32-2h0m-3-4h0m-4 4h0m-17-2h0m-48 1h0m-10 2h0m0-6h0m-2 0h0m-4 7h0m-14-10h0m-75 10h0m-5-9h0m-3 7h0m-8-7h0m-19 4h0m-9 1h0m-16 3h0m-43-4h0m-11 6h0m22 10h0m10 0h0m3-5h0m12 3h0m17 0h0m15-6h0m17-2h0m112 7h0m2-1h0m51 4h0m31-9h0m30 9h0m7-8h0m-11 13h0m-10 0h0m-33 6h0m-40-5h0m-22-4h0m-3 6h0m-2 0h0m-100 3h0m-9-7h0m-7 9h0m-5-7h0m-21 1h0m-17-5h0m-33 6h0m-12 7h0m2 9h0m13-4h0m10-6h0m7 6h0m3-3h0m7 4h0m30 3h0m4-7h0m4-1h0m18 7h0m3-4h0m1-5h0m111 8h0m1-7h0m10-1h0m37 5h0m11 6h0m2-7h0m5 7h0m11-3h0m11-1h0m5-7h0m28 16h0m-14-2h0m-48 8h0m-32-1h0m-21 2h0m-14-2h0m-103-8h0m0 9h0m-3-4h0m0 2h0m-16 3h0m-4-9h0m-1 8h0m-12-3h0m-7-5h0m-19 7h0m-2-5h0m-25 7h0m-12 7h0m9-1h0m11-3h0m1-1h0m41 8h0m7-6h0m4 8h0m1-3h0m21-6h0m6 7h0m1-5h0m5 1h0m105-5h0m1 8h0m1 3h0m5-3h0m28-7h0m17 3h0m25 3h0m23-1h0m21 7h0m-2 5h0m-5-5h0m-14 0h0m-14 4h0m-41-4h0m-18 3h0m-14-1h0m-4 4h0m-5 4h0m-4-4h0m-98-1h0m0 5h0m-6-4h0m-3 3h0m-12-3h0m-14-4h0m-10-2h0m-3 6h0m-17 0h0m-10 2h0m-12-3h0m-8-4h0m-15 3h0m-5 9h0m5 5h0m5-7h0m17 1h0m4-1h0m3 6h0m12-6h0m0 11h0m7-9h0m35-2h0m4 9h0m7-8h0m1 4h0m19 5h0m90-5h0m7 4h0m44-6h0m25-2h0m47 20h0m-36 0h0m-72 2h0m-4-8h0m-2 6h0m-92-9h0m-1 6h0m-8 1h0m-6 0h0m-11-1h0m-26-4h0m-4 5h0m-7-7h0m-12 3h0m-36 4h0m5 15h0m5 1h0m15-3h0m16-6h0m15 9h0m20 0h0m4-1h0m8-4h0m7-6h0m1 4h0m117 7h0m45-9h0m52-2h0m-98 17h0m-3 6h0m-3-10h0m-110 7h0m-2-7h0m-3 7h0m-3-5h0m-24-3h0m-23 1h0m-5 10h0m-3 0h0m-6-11h0m-4 5h0m-31 6h0m-3 5h0m8 6h0m28-9h0m4 9h0m1-6h0m23 5h0m24-2h0m3 4h0m1-6h0m10 0h0m5-1h0m113 2h0m112 3h0m-3 12h0m-48-8h0m-8 8h0m-9-4h0m-13 2h0m-20-1h0m-6 4h0m-4-2h0m-123-2h0m-6-1h0m-7-2h0m-16 3h0m-2-1h0m-26 4h0m-27-7h0m-6 9h0m-4 5h0m15 5h0m14-9h0m5 4h0m19-1h0m8 4h0m21-7h0m10 2h0m2 2h0m5 1h0m128 5h0m20-2h0m10-2h0m44-6h0m14 0h0m1 11h0m-4 3h0m-13-1h0m-59 4h0m-11 2h0m-133 1h0m-3-6h0m-29 1h0m-11 6h0m-29-8h0m-6 10h0m-9 0h0m-1-9h0m-10 11h0m8 9h0m42-8h0m27 3h0m9-4h0m4 4h0m2-5h0m1 10h0m1-4h0m147-6h0m41 8h0m21-8h0m5 8h0m2-2h0m34 9h0m-45 5h0m-28-4h0m-33 5h0m-6-8h0m-6 1h0m-14 1h0m-127 0h0m-6 4h0m-10-1h0m-16-4h0m-5 5h0m-5-4h0m-9 0h0m-4 3h0m0-6h0m-17 1h0m-7 3h0m-16 1h0m14 9h0m19 1h0m17 6h0m15-9h0m1 10h0m22 0h0m8 0h0m2-2h0m120-3h0m7-3h0m3 4h0m2 1h0m25-7h0m3 5h0m11-5h0m56 2h0m33 18h0m-3 1h0m-34-9h0m-33 5h0m-19-3h0m-4 9h0m-29-11h0m-11 2h0m-130 0h0m-9-1h0m-13 9h0m-25-2h0m-3 1h0m-19-6h0m-11 16h0m6 3h0m13-5h0m22 6h0m25-8h0m11-3h0m1 6h0m6 2h0m125-7h0m1 6h0m6-6h0m0 6h0m0 3h0m28-4h0m9 4h0m3-6h0m80 5h0m-124 9h0m-4-3h0m-121 4h0m-8 0h0m-5 1h0m-22 2h0m-40-1h0m-6 1h0m-5-3h0m-14 8h0m19 5h0m9 2h0m7 0h0m10-3h0m9 0h0m12-1h0m26-4h0m3 2h0m138-3h0m4-1h0m4 10h0m25-8h0m31-2h0m9 5h0m33-1h0m-79 14h0m-9-4h0m-153 3h0m-2-5h0m-5 4h0m-47 0h0m-9 6h0m-1-6h0m-10 5h0m-10-9h0m-7 12h0m21 6h0m16-4h0m23 2h0m10 5h0m1 1h0m8-3h0m2 0h0m4-7h0m3 6h0m128-4h0m15-1h0m14 7h0m14-8h0m4 5h0m8 1h0m2 4h0m43 0h0m26-4h0m-55 8h0m-10 4h0m-3 0h0m-20-6h0m-1 6h0m-28-2h0m-4 7h0m-2-9h0m-136-2h0m-6 1h0m-10 10h0m-24-3h0m-9-6h0m-6-1h0m-29 8h0m15 7h0m16 6h0m8-6h0m10 7h0m5-2h0m5-9h0m17 2h0m6 6h0m147-1h0m8-6h0m31 4h0m22-4h0m17 1h0m12 3h0m24 11h0m-16 5h0m-27-7h0m-19 7h0m-9-2h0m-36-4h0m-4 5h0m-5-4h0m-145 6h0m-4-4h0m-4-6h0m-4 4h0m-16 0h0m-7 4h0m-19-2h0m-38-2h0m10 14h0m4-4h0m23-2h0m20 1h0m31 8h0m1-8h0m4 7h0m135 2h0m4-1h0m17-4h0m2-3h0m19 2h0m33-4h0m20 11h0m17 11h0m-35-3h0m-3-2h0m-9 6h0m-37 0h0m-9-7h0m-16 5h0m-3-8h0m-132-1h0m-7 4h0m-2 6h0m-13 1h0m-18-3h0m-5-8h0m-21 0h0m-14 1h0m-1 6h0m-1 11h0m3 1h0m8 3h0m10 1h0m25 0h0m7-6h0m12 5h0m12-7h0m2 3h0m133 3h0m5-6h0m3 4h0m10 4h0m125-1h0m-52 5h0m-16-1h0m-14 4h0m-57 5h0m-4-5h0m-2-2h0m-131 5h0m-8-7h0m-18 2h0m-21-3h0m-12 6h0m-9-2h0m-23 0h0m29 7h0m21 11h0m4-10h0m32 5h0m3-4h0m2 1h0m4 3h0m124-3h0m5 7h0m10-9h0m7 4h0m24 0h0m26 5h0m73 12h0m-77-3h0m-59 3h0m-10-7h0m-2 5h0m-120-6h0m-5 5h0m-2-6h0m-7 10h0m-7-1h0m-15-8h0m-13 7h0m-7 8h0m16-5h0m1 10h0m27-10h0m4 6h0m135 5h0m1-4h0m10 1h0m13 2h0m0-4h0m29-5h0m12 3h0m59-3h0m-4 11h0m-3 9h0m-76-1h0m-27 1h0m-2-4h0m-150 2h0m-4 3h0m-1 1h0m-3-8h0m-16 12h0m3 6h0m8-9h0m171 11h0m35-10h0m17 1h0m43 18h0m-18 1h0m-2-5h0m-75-3h0m-8 0h0m-8 1h0m-142 7h0m-3 2h0m-9-4h0m-34-2h0m-19 17h0m20 1h0m22-9h0m6 4h0m18 5h0m2-6h0m140-2h0m5 5h0m0-7h0m9 7h0m33-1h0m45 4h0m4-3h0m-44 10h0m-7-1h0m-13 2h0m-13 3h0m-4-2h0m-5-8h0m-2 1h0m-155 9h0m-39-2h0m-1 14h0m21-2h0m12-3h0m13 1h0m157 1h0m49-1h0m21-2h0m25 7h0m3 8h0m-2-2h0m-18 3h0m-1 1h0m-1-1h0m-13-7h0m-6 4h0m-25-2h0m-29 2h0m-160-2h0m-6 5h0m-9-7h0m-29 18h0m15-4h0m10 5h0m7 1h0m4 1h0m6-4h0m0-4h0m152 6h0m10-4h0m57 2h0m3 2h0m11-8h0m3 8h0m13 3h0m-34 4h0m-55 6h0m-6-8h0m-3 10h0m-156-6h0m-5-2h0m-30 20h0m21-7h0m7 1h0m5 5h0m153-3h0m12-6h0m54 8h0m6 1h0m11-3h0m23-4h0m8 1h0m-67 12h0m-5 7h0m-17-2h0m-11 2h0m-7-9h0m-3-2h0m-2 4h0m-151 3h0m-7-6h0m-2 8h0m-24-6h0m-4 7h0m-5-6h0m-17 2h0m26 7h0m21 1h0m4 5h0m4-6h0m163 5h0m71-3h0m12 19h0m-23 1h0m-51-6h0m-13 1h0m-4 4h0m-1-4h0m-149 1h0m-3 0h0m-7 0h0m-4-3h0m-4 0h0m-27 17h0m9-2h0m26-4h0m9 0h0m4 5h0m144-4h0m1 6h0m16-8h0m4 5h0m1 4h0m82 2h0m-39 9h0m-30-2h0m-27 3h0m-4-5h0m-6-2h0m-141 3h0m-5-5h0m-3 3h0m-4 4h0m-33 1h0m-9 4h0m30 1h0m10 3h0m2-3h0m3 3h0m0-4h0m152 1h0m9 5h0m14 1h0m73-2h0m-6 6h0m-63 7h0m-4-3h0m-5 0h0m-1 4h0m-4-2h0m-168-6h0m-21 8h0m-17-3h0m-8 3h0m37 6h0m1-2h0m3-1h0m2 11h0m6-2h0m156 1h0m5-6h0m4-4h0m28 4h0m-15 19h0m-10-4h0m-1-3h0m-5-1h0m-5 2h0m-154-5h0m-6 5h0m-42-1h0m-15 6h0m45 6h0m10 0h0m5-3h0m2 6h0m10 3h0m27-3h0m9 0h0m11 2h0m3-3h0m1 3h0m10-3h0m1 1h0m1 1h0m13-1h0m5 3h0m7-1h0m12-3h0m4 5h0m2-1h0m16-1h0m26-2h0m10-1h0m4-6h0m23 1h0m93 19h0m-8 0h0m-7 0h0m-5 0h0m-10 0h0m-6 0h0m-9 0h0m-8 0h0m-6 0h0m-4 0h0m-9 0h0m-12 0h0m-19-1h0m-3 1h0m-6 0h0m-10-3h0m-5-2h0m-5 2h0m-5-4h0m-2 0h0m-4 7h0m-9 0h0m-3 0h0m-6 0h0m-6 0h0m-7 0h0m-10 0h0m-7-4h0m-10-1h0m-3 5h0m-10 0h0m-8-4h0m-4 2h0m-9 2h0m-4 0h0m-9 0h0m-5 0h0m-11-6h0m-2-2h0m-1 5h0m-9 3h0m-7-8h0m-1 2h0m-6 6h0m-8 0h0m-6-8h0m-1 8h0m-6 0h0m-11 0h0m-11 0h0m-8 0h0m-11 0h0m-8 0h0m-7 0h0m-6 0h0" stroke="#1f77b4" stroke-width="2.7"/></g></g>
<rect x="332.50" y="39.50" width="151.00" height="139.00" fill="none" stroke="#000" stroke-width="1.11"/>
<path d="M339.50 178.50v4.86M473.50 178.50v4.86M332.50 122.50h-4.86M332.50 49.50h-4.86" stroke="#000" stroke-width="1.11" fill="none"/>
<g class="tk">
<text x="338.96" y="205.00" text-anchor="middle" textLength="11.1" lengthAdjust="spacingAndGlyphs">0</text>
<text x="469.85" y="205.00" text-anchor="middle" textLength="44.4" lengthAdjust="spacingAndGlyphs">1000</text>
<text x="320.50" y="131.10" text-anchor="end" textLength="33.3" lengthAdjust="spacingAndGlyphs">500</text>
<text x="319.10" y="57.80" text-anchor="end" textLength="44.4" lengthAdjust="spacingAndGlyphs">1000</text>
</g>
<text class="al" x="406.50" y="228" text-anchor="middle" textLength="134" lengthAdjust="spacingAndGlyphs">CD45-KrOrange</text>
<text class="al" transform="translate(268.10,108.5) rotate(-90)" text-anchor="middle" textLength="35.6" lengthAdjust="spacingAndGlyphs">FSC</text>
<clipPath id="ct2"><rect x="582.50" y="39.50" width="151.00" height="139.00"/></clipPath><g clip-path="url(#ct2)" fill="none" stroke-linecap="round"><g transform="translate(589.36,195.50) scale(0.13419,-0.146)"><path d="M55 176h15v7h-15zM90 176h4v7h-4zM48 183h35v7h-35zM84 183h46v7h-46zM139 183h7v7h-7zM177 183h5v7h-5zM39 190h37v7h-37zM91 190h73v7h-73zM171 190h15v7h-15zM193 190h7v7h-7zM32 197h45v7h-45zM90 197h129v7h-129zM26 204h195v7h-195zM26 211h186v7h-186zM40 218h170v7h-170zM41 225h171v7h-171zM50 232h85v7h-85zM148 232h79v7h-79zM59 239h28v7h-28zM99 239h35v7h-35zM149 239h21v7h-21zM172 239h60v7h-60zM62 246h21v7h-21zM103 246h35v7h-35zM145 246h18v7h-18zM179 246h42v7h-42zM72 253h10v7h-10zM104 253h6v7h-6zM119 253h44v7h-44zM180 253h40v7h-40zM0 260h7v7h-7zM74 260h10v7h-10zM123 260h45v7h-45zM175 260h47v7h-47zM-2 267h18v7h-18zM74 267h31v7h-31zM122 267h112v7h-112zM-2 274h19v7h-19zM94 274h18v7h-18zM114 274h119v7h-119zM-2 281h22v7h-22zM98 281h136v7h-136zM2 288h19v7h-19zM97 288h137v7h-137zM2 295h18v7h-18zM101 295h5v7h-5zM108 295h114v7h-114zM-1 302h28v7h-28zM115 302h105v7h-105zM1 309h29v7h-29zM139 309h83v7h-83zM3 316h29v7h-29zM154 316h71v7h-71zM6 323h22v7h-22zM159 323h62v7h-62zM5 330h20v7h-20zM169 330h52v7h-52zM8 337h16v7h-16zM173 337h33v7h-33zM207 337h19v7h-19zM10 344h18v7h-18zM182 344h10v7h-10zM215 344h21v7h-21zM8 351h25v7h-25zM217 351h15v7h-15zM1 358h31v7h-31zM-3 365h33v7h-33zM-4 372h33v7h-33zM-4 379h34v7h-34zM1011 379h5v7h-5zM-5 386h28v7h-28zM1012 386h5v7h-5zM-4 393h26v7h-26zM1012 393h5v7h-5zM-2 400h27v7h-27zM1012 400h5v7h-5zM-3 407h24v7h-24zM1010 407h11v7h-11zM-4 414h23v7h-23zM1010 414h10v7h-10zM-4 421h24v7h-24zM1012 421h7v7h-7zM-2 428h31v7h-31zM1013 428h6v7h-6zM0 435h26v7h-26zM1013 435h6v7h-6zM0 442h22v7h-22zM-1 449h15v7h-15zM1012 449h5v7h-5zM0 456h10v7h-10zM1012 456h7v7h-7zM3 463h7v7h-7zM1012 463h7v7h-7zM2 470h9v7h-9zM1011 470h7v7h-7zM1011 477h8v7h-8zM1012 484h9v7h-9zM1011 491h9v7h-9zM1012 498h7v7h-7zM1011 505h7v7h-7zM1013 512h9v7h-9zM1013 519h5v7h-5zM1010 526h7v7h-7zM1011 533h7v7h-7zM1013 540h8v7h-8zM1013 547h11v7h-11zM1012 554h12v7h-12zM1012 561h11v7h-11zM1011 568h12v7h-12zM1012 575h6v7h-6zM1013 582h5v7h-5zM211 589h11v7h-11zM1012 589h7v7h-7zM210 596h10v7h-10zM1011 596h8v7h-8zM210 603h6v7h-6zM208 610h9v7h-9z" fill="#808080" stroke="none"/><path vector-effect="non-scaling-stroke" d="M67 166h0m-15 13h0m8-5h0m0 2h0m6 2h0m25-1h0m33 0h0m272-2h0m-28 14h0m-34-7h0m-137 7h0m-18-6h0m-4 7h0m-17 0h0m-5-1h0m-6-2h0m-5-4h0m-4 4h0m-1 2h0m-14 1h0m-2-7h0m-8 1h0m-4 7h0m-7-11h0m-2 8h0m-11 0h0m-6-4h0m-7-3h0m-1 10h0m0-8h0m-18-1h0m-6 9h0m0-8h0m-10 6h0m-38 10h0m31-1h0m9-1h0m4-2h0m46 0h0m0 2h0m5 3h0m32-5h0m11 0h0m3 2h0m19-5h0m1 5h0m8-2h0m2 5h0m8 1h0m3-9h0m13 9h0m10-3h0m8 3h0m3-9h0m672 19h0m-461-3h0m-62 0h0m-138 0h0m-4 2h0m-6 1h0m-5-6h0m-1 7h0m-5-1h0m-5-5h0m-18-1h0m-21-1h0m-74 5h0m0 1h0m-6-5h0m-4 1h0m-8 3h0m-41-4h0m-6 0h0m-30 3h0m0 18h0m1-3h0m5-7h0m23 2h0m13-1h0m1-1h0m4 1h0m6 1h0m6 6h0m73 3h0m23-4h0m2 3h0m50-9h0m0 9h0m34-8h0m74 2h0m68-4h0m96 2h0m456 19h0m-705 0h0m-1-9h0m-6 6h0m-8-6h0m-2 3h0m-4 7h0m-33-5h0m-9 1h0m-11-1h0m-10-2h0m-5 1h0m-1-2h0m-6 8h0m-23 1h0m-4-4h0m0 3h0m-1-8h0m-5 6h0m-9-5h0m-3 8h0m-2-7h0m-22 4h0m-11-4h0m-9-1h0m-28 1h0m-11 1h0m-6 4h0m3 14h0m29-4h0m25-6h0m9-1h0m5 1h0m1 7h0m5-2h0m4-3h0m4 5h0m10-7h0m13 8h0m6-1h0m6-1h0m8 1h0m2-3h0m8 2h0m13 0h0m16-2h0m2-2h0m12 2h0m8 5h0m25 1h0m3-7h0m9 3h0m4-4h0m0 3h0m11-3h0m2 0h0m0 14h0m-22-2h0m-6 8h0m-24-3h0m0-2h0m-6-1h0m0 6h0m-19-5h0m-2-2h0m0 3h0m-10-7h0m-14 8h0m-3-3h0m-1 6h0m-8-1h0m-2-5h0m-16 2h0m-26-1h0m-10-3h0m-7-1h0m-29 6h0m-30 2h0m-1-4h0m-5 8h0m7 1h0m5 7h0m0-5h0m5-1h0m28-3h0m30 5h0m8-5h0m3 6h0m11-6h0m4 9h0m4-3h0m14 4h0m6-3h0m42 3h0m1-7h0m6-4h0m6 11h0m0-6h0m40-4h0m4 1h0m5 1h0m1-2h0m6 3h0m707 5h0m24 0h0m45 2h0m3-5h0m-29 10h0m-754-3h0m-14 10h0m-89-9h0m-4 0h0m-1 5h0m-8-3h0m-3 5h0m-11 0h0m-8-8h0m-13 1h0m-44 3h0m-18 5h0m-1-7h0m-5 6h0m-11 1h0m-2-3h0m0-4h0m13 13h0m7-1h0m76 3h0m7-2h0m7 7h0m1-9h0m6 6h0m4-8h0m92 10h0m6-5h0m4 4h0m5-6h0m4 5h0m5-8h0m709 10h0m7-8h0m34-2h0m20 10h0m6-1h0m-42 10h0m-24 3h0m-6-1h0m-18 2h0m-703-10h0m-3 5h0m-56 2h0m-19-7h0m-12 9h0m-9-4h0m-17-6h0m-36 6h0m-5-3h0m-25-3h0m-9 10h0m-1-6h0m-7-1h0m-6 4h0m-3 2h0m-3-9h0m-5 0h0m-1 5h0m-4 3h0m7 11h0m2-6h0m0 9h0m6-4h0m2 5h0m13-3h0m9 1h0m19-5h0m13 4h0m12-3h0m35-4h0m26-1h0m1 6h0m11 0h0m1-1h0m60 4h0m1-7h0m4-2h0m1 11h0m2-5h0m3 0h0m9-6h0m5 3h0m778 0h0m-816 14h0m-24-2h0m-11 0h0m-3 4h0m-5-6h0m-18 9h0m-57-9h0m0 5h0m-29-5h0m-8 0h0m-22 6h0m-4-2h0m-15 5h0m1 5h0m3 0h0m4 8h0m4-8h0m4-1h0m8 9h0m19-3h0m14 3h0m3-10h0m3 6h0m19-1h0m20-5h0m66 5h0m5-4h0m0 5h0m13-5h0m7 7h0m4-7h0m2-2h0m12 1h0m6 0h0m6 4h0m2 5h0m3-5h0m728-2h0m4 6h0m16 0h0m9 1h0m19-7h0m4 15h0m-40-3h0m-738-1h0m-6 7h0m-13-9h0m-31 6h0m-50-4h0m-18 8h0m-22-3h0m-45-4h0m-19 2h0m-4 5h0m-2-3h0m-12 2h0m-3-2h0m-4 0h0m-7 8h0m1-2h0m28 6h0m3-7h0m141 7h0m16 2h0m3-8h0m13 2h0m5 2h0m4-2h0m1 2h0m800-3h0m0 3h0m2 2h0m0 11h0m-3-2h0m0 4h0m-785-3h0m-5 3h0m-15-1h0m-34-4h0m-144 6h0m-6-3h0m-6 5h0m-19-1h0m-3-10h0m0 13h0m1 7h0m7-8h0m1 9h0m11-5h0m9-2h0m32 0h0m40 1h0m99 6h0m48-4h0m0 5h0m767-9h0m4 5h0m1 3h0m2 14h0m-5-11h0m0 9h0m-1 2h0m-780-10h0m-18 1h0m-160 5h0m-29 3h0m-4-7h0m-1 6h0m-8-1h0m-5-6h0m-9 1h0m-2 13h0m13 3h0m7 4h0m4-9h0m95-2h0m59 0h0m4 6h0m19 4h0m41 0h0m774-5h0m8 1h0m-3 11h0m-1 5h0m-5-9h0m-781 5h0m-94-2h0m-11 2h0m-97 1h0m-10 0h0m-2-7h0m-5 7h0m-7-5h0m-5 6h0m-3-5h0m4 10h0m1 9h0m1-3h0m19 2h0m3-8h0m4 5h0m90-4h0m15 8h0m20-10h0m7 7h0m32 4h0m822-5h0m0-6h0m4 3h0m4 2h0m-5 17h0m-4-5h0m-1-2h0m-798 5h0m-17 1h0m-5-1h0m-7-5h0m-11 3h0m-65 0h0m-48-4h0m-44 1h0m-3 2h0m-5 3h0m-8-2h0m-5 8h0m5 2h0m6 3h0m1-6h0m17-1h0m66 5h0m75 0h0m27-4h0m17 8h0m31-9h0m772 2h0m1 5h0m2 3h0m1-8h0m-2 16h0m-2-5h0m-2 7h0m-247-5h0m-102-3h0m-5 10h0m-536-8h0m-8-1h0m-24 2h0m-10 4h0m-66-4h0m-6 6h0m-6-3h0m-2 1h0m8 8h0m39-1h0m6 2h0m53-4h0m70 10h0m9-8h0m22 1h0m18 6h0m789-6h0m2-3h0m7 4h0m-4 12h0m-2 6h0m-3-3h0m-1-5h0m-774 3h0m-22-3h0m-8 7h0m-1-8h0m-7 3h0m-129-1h0m-63 6h0m-8 0h0m8 4h0m157 4h0m23 0h0m12-2h0m810 3h0m4 4h0m8 1h0m-6 1h0m-1 6h0m-2 2h0m-887-7h0m-29 22h0m136-9h0m778 8h0m1-9h0m3 8h0m0-6h0m5 12h0m-5 6h0m-2-8h0m-771 1h0m-9 2h0m-16-3h0m-8 0h0m-72 6h0m-7 0h0m-40-4h0m-77 11h0m69 4h0m23-5h0m34 10h0m55-10h0m8 4h0m457-3h0m294 6h0m59-5h0m1-3h0m1 9h0m3-6h0m4 6h0m3-9h0m-2 20h0m-7-2h0m-4-2h0m-773-3h0m-1 2h0m-37 5h0m-57-5h0m-48-1h0m119 12h0m28-1h0m516 0h0m254 4h0m1-2h0m2-1h0m1 8h0m0 6h0m-3 1h0m-2 5h0m-94-7h0m-686-3h0m-2 1h0m-10 5h0m-7-6h0m-1 11h0m1 8h0m5-5h0m16 5h0m781 3h0m0-4h0m2-4h0m2-1h0m-2 19h0m-5 2h0m-375 0h0m-398 0h0m-14 0h0m-5-5h0m-4 2h0m-3-4h0m-6 6h0m-3-6h0m26 19h0m784-7h0m2 6h0m1-4h0m-1 14h0m-4-1h0m-241 13h0m242-5h0m1 6h0m2-2h0m1-6h0m-2 21h0m0-7h0m-95 4h0m92 14h0m3-5h0m1 8h0m0 7h0m-4-2h0m-777-1h0m714 13h0m65 3h0m2 3h0m-4 6h0m-165 4h0m166 11h0m1-7h0m1 8h0m3-3h0m-3 14h0m0 5h0m1 4h0m-1 10h0m-2 9h0m-336 1h0m337 2h0m2 11h0m-3 8h0m-1-6h0m-855 14h0m518 2h0m339 3h0m0-5h0m2 12h0m-2 0h0m-2 6h0m-366-3h0m368 14h0m2 2h0m0 8h0m-1 2h0m-185 3h0m184 5h0m3 3h0m0 7h0m-2-2h0m-3 7h0m-364-8h0m368 11h0m0 20h0m-1-3h0m0 5h0m0 6h0m1 17h0m-1-8h0m-2 6h0m-355 7h0m355 8h0m0-8h0m3-1h0m0 9h0m1 10h0m-2-4h0m-1 3h0m-2 8h0m2 8h0m2 11h0m-1-5h0m-1 9h0m1 5h0m1-4h0m0 16h0m-2-5h0m-1 10h0m2 5h0m2-5h0m0 4h0m-2 16h0m2 14h0m0 7h0m-3 3h0m-48 0h0m-76 0h0m-76 0h0m-23 0h0m-15 0h0m-14 0h0m-48 0h0m-13 0h0m-15 0h0m-17 0h0m-17 0h0m-17 0h0" stroke="#808080" stroke-width="2.7"/><path d="M359 239h11v7h-11zM377 239h6v7h-6zM402 239h16v7h-16zM313 246h6v7h-6zM341 246h87v7h-87zM429 246h21v7h-21zM292 253h10v7h-10zM309 253h142v7h-142zM282 260h186v7h-186zM276 267h198v7h-198zM265 274h222v7h-222zM261 281h238v7h-238zM265 288h240v7h-240zM267 295h248v7h-248zM265 302h252v7h-252zM254 309h263v7h-263zM252 316h272v7h-272zM250 323h280v7h-280zM250 330h290v7h-290zM542 330h6v7h-6zM250 337h299v7h-299zM254 344h298v7h-298zM254 351h291v7h-291zM251 358h292v7h-292zM251 365h293v7h-293zM250 372h61v7h-61zM324 372h15v7h-15zM352 372h198v7h-198zM249 379h61v7h-61zM325 379h13v7h-13zM354 379h201v7h-201zM254 386h63v7h-63zM318 386h23v7h-23zM352 386h206v7h-206zM255 393h305v7h-305zM255 400h308v7h-308zM253 407h314v7h-314zM251 414h314v7h-314zM255 421h309v7h-309zM256 428h310v7h-310zM259 435h313v7h-313zM260 442h315v7h-315zM254 449h319v7h-319zM257 456h317v7h-317zM258 463h317v7h-317zM255 470h322v7h-322zM257 477h321v7h-321zM260 484h319v7h-319zM259 491h317v7h-317zM259 498h7v7h-7zM277 498h300v7h-300zM252 505h11v7h-11zM279 505h133v7h-133zM425 505h160v7h-160zM256 512h8v7h-8zM278 512h131v7h-131zM427 512h157v7h-157zM262 519h148v7h-148zM425 519h159v7h-159zM261 526h322v7h-322zM257 533h329v7h-329zM257 540h329v7h-329zM256 547h331v7h-331zM257 554h329v7h-329zM260 561h333v7h-333zM259 568h339v7h-339zM255 575h344v7h-344zM257 582h346v7h-346zM266 589h315v7h-315zM267 596h312v7h-312zM264 603h317v7h-317zM256 610h332v7h-332zM259 617h329v7h-329zM259 624h319v7h-319zM261 631h316v7h-316zM274 638h307v7h-307zM275 645h321v7h-321zM272 652h332v7h-332zM277 659h307v7h-307zM281 666h302v7h-302zM280 673h306v7h-306zM277 680h309v7h-309zM276 687h306v7h-306zM280 694h299v7h-299zM280 701h295v7h-295zM280 708h295v7h-295zM281 715h296v7h-296zM280 722h299v7h-299zM284 729h293v7h-293zM293 736h282v7h-282zM294 743h278v7h-278zM291 750h279v7h-279zM292 757h279v7h-279zM291 764h282v7h-282zM296 771h270v7h-270zM296 778h261v7h-261zM299 785h256v7h-256zM301 792h252v7h-252zM302 799h6v7h-6zM313 799h241v7h-241zM320 806h236v7h-236zM320 813h232v7h-232zM315 820h234v7h-234zM305 827h244v7h-244zM315 834h233v7h-233zM317 841h230v7h-230zM317 848h232v7h-232zM318 855h234v7h-234zM317 862h224v7h-224zM312 869h227v7h-227zM329 876h211v7h-211zM331 883h211v7h-211zM330 890h211v7h-211zM331 897h210v7h-210zM332 904h209v7h-209zM332 911h208v7h-208zM332 918h203v7h-203zM333 925h196v7h-196zM332 932h195v7h-195zM331 939h197v7h-197zM336 946h196v7h-196zM338 953h193v7h-193zM337 960h193v7h-193zM338 967h195v7h-195zM338 974h204v7h-204zM337 981h210v7h-210zM335 988h211v7h-211zM339 995h212v7h-212zM338 1002h223v7h-223zM339 1009h233v7h-233zM340 1016h234v7h-234zM339 1023h6v7h-6zM363 1023h5v7h-5zM375 1023h5v7h-5zM396 1023h4v7h-4zM410 1023h17v7h-17zM431 1023h7v7h-7zM439 1023h6v7h-6zM455 1023h4v7h-4zM477 1023h5v7h-5zM486 1023h18v7h-18zM521 1023h5v7h-5zM527 1023h6v7h-6zM549 1023h29v7h-29z" fill="#1f77b4" stroke="none"/><path vector-effect="non-scaling-stroke" d="M379 226h0m87-3h0m-52 14h0m-8 2h0m-43-3h0m-97 4h0m29 10h0m19 1h0m1-5h0m10 4h0m5 1h0m14-6h0m9 3h0m1-4h0m7-3h0m7 10h0m1-10h0m4 1h0m6 4h0m3-5h0m5 1h0m2 6h0m3-3h0m5-3h0m8 6h0m0-8h0m7 9h0m7 1h0m3-4h0m12 2h0m4-6h0m5 9h0m6-6h0m111-1h0m-93 19h0m-5-5h0m-14 1h0m-1 2h0m-1-7h0m-9-1h0m-8 0h0m-5 1h0m-11-1h0m-11 0h0m-56 5h0m-8-3h0m-4 1h0m-12-3h0m-6 2h0m-2 1h0m-3 3h0m-5-2h0m-7 5h0m-17-1h0m-51-3h0m40 12h0m2 3h0m9-1h0m6-3h0m7-2h0m9-3h0m4 2h0m7 0h0m131 0h0m3 1h0m6-2h0m16 10h0m7-5h0m23 14h0m-8-5h0m-4 2h0m-3-5h0m-9 6h0m-5-2h0m-188-2h0m-14 2h0m-6 7h0m-2-10h0m-8 13h0m14 3h0m1 6h0m4-6h0m2 3h0m213-8h0m2 3h0m16 5h0m7-1h0m2 10h0m-18-5h0m-227 11h0m-2-7h0m-7 7h0m-7-5h0m-3 14h0m5-7h0m3 9h0m8-5h0m250 4h0m2-4h0m7 1h0m28 7h0m-9 6h0m-13-3h0m-4 3h0m-2-6h0m-5-1h0m-263 7h0m-8-1h0m0 12h0m10-5h0m2 10h0m272-8h0m5 8h0m2-9h0m7 3h0m8 11h0m-6-1h0m-7 4h0m-6-3h0m-278 1h0m-5 4h0m-5 6h0m6 6h0m50-2h0m3-4h0m5 3h0m4-2h0m8 0h0m4 4h0m3 3h0m8-5h0m1 5h0m3-5h0m7 2h0m186 0h0m3-7h0m1 8h0m13 7h0m-7 4h0m-1-8h0m-5 3h0m-178 7h0m-6-6h0m-2 2h0m-4-6h0m-15 11h0m-6 0h0m-2 0h0m-1-6h0m-17-5h0m-3 6h0m-48 1h0m-7-4h0m-2 7h0m3 4h0m7 9h0m44-7h0m6 0h0m6 6h0m4-6h0m6 3h0m4-2h0m10 0h0m5 5h0m10-1h0m3-7h0m187 0h0m6-1h0m1 10h0m4-7h0m38 7h0m-31 9h0m-5-7h0m-206 3h0m-11-2h0m-23 3h0m-56-2h0m-5 1h0m-2-2h0m-11 14h0m10-2h0m5 2h0m2 3h0m297 4h0m11-6h0m48 3h0m-28 10h0m-26 3h0m-2-7h0m-7 2h0m-291 1h0m-4 5h0m-1 1h0m-5-11h0m5 15h0m5 4h0m3-3h0m290-3h0m2 6h0m2-4h0m9-1h0m11 12h0m-10 4h0m-304 4h0m-1-8h0m-1 3h0m-11 2h0m4 5h0m4 4h0m6 2h0m298-1h0m5 6h0m2-7h0m23 7h0m-21 2h0m0 7h0m-4 1h0m-308 0h0m-1-4h0m-3-5h0m-2 4h0m1 8h0m8 3h0m9 7h0m301-2h0m0 2h0m9-6h0m39 15h0m-47 4h0m-9-5h0m0-2h0m-140 1h0m-6 1h0m-3 3h0m-8-2h0m-125-1h0m-8 0h0m-5 0h0m-1-4h0m-8 9h0m-3-9h0m-12 17h0m1-4h0m11 4h0m1-7h0m19 10h0m1-4h0m120-3h0m6 5h0m3-3h0m5-2h0m9 0h0m5 3h0m143-1h0m3 6h0m11-11h0m-3 13h0m-1 5h0m-4 5h0m-4-4h0m-1 1h0m-140-5h0m-1 6h0m-3-8h0m-4 10h0m-4-3h0m-4 2h0m-7 1h0m-2-4h0m-8 2h0m-118-7h0m-3 4h0m-3-5h0m0 9h0m-7-4h0m-6-2h0m-5-3h0m-29 0h0m29 16h0m1 2h0m146-2h0m13 1h0m158 4h0m11-1h0m-2 12h0m-3-7h0m-5 0h0m-316 6h0m-2-6h0m-1 9h0m-15 0h0m6 5h0m11 4h0m317 3h0m2-8h0m14 8h0m3 6h0m-2 3h0m-14-4h0m-323 6h0m-1 8h0m11-5h0m2 9h0m305 1h0m15-7h0m18 2h0m16 11h0m-24-1h0m-18-1h0m-3 0h0m-309 6h0m-1-5h0m-9-4h0m-10 22h0m16-5h0m2 6h0m2-3h0m5-3h0m300 2h0m8 0h0m0 4h0m41 8h0m-34-5h0m-3 9h0m-4-4h0m-2-6h0m-1 10h0m-3-3h0m-4-7h0m-315 3h0m3 11h0m311 2h0m0 1h0m3 1h0m17 12h0m-7-2h0m-1 4h0m-7 2h0m-293-3h0m-4 1h0m-3-9h0m-6 2h0m-11 3h0m13 14h0m3-3h0m9-1h0m290 8h0m5-2h0m6-5h0m6 6h0m4-10h0m2 3h0m9 3h0m-7 8h0m-23 5h0m-287-5h0m-1 4h0m-6 1h0m-5-4h0m-5-1h0m-9 0h0m16 17h0m8-1h0m293 3h0m4 2h0m0-9h0m-3 14h0m-10 4h0m-286 0h0m-14-2h0m11 8h0m6 5h0m1-5h0m279 7h0m11-8h0m-4 21h0m-3-9h0m0 6h0m-289 3h0m-4-10h0m-7 20h0m18-3h0m3 5h0m274-3h0m19 2h0m-13 11h0m-1-7h0m-273 9h0m-1-3h0m-11-3h0m3 17h0m5-1h0m268-3h0m6-5h0m0 5h0m0 11h0m-6-2h0m-269-2h0m-16 14h0m12-2h0m8 10h0m5-4h0m247-2h0m6-3h0m0 5h0m5-4h0m2 8h0m14-8h0m-24 19h0m-4-5h0m-4 3h0m-237-1h0m-6-2h0m-7 1h0m7 9h0m10 9h0m8-9h0m8 9h0m215-8h0m7-1h0m2 9h0m31-7h0m-29 14h0m-9 0h0m-221 0h0m0 3h0m-3-5h0m-5-4h0m-14 0h0m0 1h0m-6 12h0m17 7h0m5-4h0m2 6h0m4-3h0m219-1h0m1 4h0m5-7h0m-1 13h0m0 2h0m-4 0h0m-220-2h0m-6 5h0m-5-1h0m-3-8h0m-10 4h0m-29 16h0m46 2h0m3-6h0m5 7h0m213-9h0m5 7h0m1-4h0m4 6h0m3 7h0m-4 4h0m-3 1h0m-3-8h0m-3-2h0m-2 4h0m-5 3h0m-204-5h0m-7 2h0m-8 11h0m14 6h0m6-5h0m200 5h0m10 13h0m-4-9h0m-198 9h0m-6 0h0m-2-10h0m-5 1h0m-14-1h0m-5 13h0m19 5h0m5 4h0m8-9h0m195 0h0m4 9h0m0 9h0m-1-8h0m-2 3h0m-202 6h0m-2 9h0m8 2h0m1-5h0m185 1h0m6 7h0m5-11h0m3 9h0m66-5h0m-56 19h0m-24-6h0m0 2h0m-4-1h0m-1 4h0m-181-8h0m-5 0h0m-2 7h0m-5 13h0m1 1h0m4-4h0m5 0h0m183 1h0m8 1h0m0-1h0m38 10h0m-34 0h0m-3 1h0m-187 3h0m-2-8h0m-1 8h0m-2 4h0m2 9h0m184 0h0m0-7h0m1 0h0m3 6h0m4 0h0m62 3h0m-47 8h0m-1-6h0m-8 3h0m-13-4h0m-187 5h0m-17 9h0m0 7h0m16-2h0m2-9h0m201 6h0m7 5h0m24 12h0m-5-2h0m-10-4h0m-10 3h0m-7-5h0m-191-2h0m-6 1h0m-9 11h0m7 2h0m2 8h0m4 0h0m13-3h0m9 1h0m0-3h0m8 5h0m6-3h0m3-2h0m1 1h0m9 4h0m8-1h0m9 1h0m9-2h0m13 0h0m11-2h0m13-1h0m4 2h0m9 1h0m7-3h0m6 0h0m4 1h0m5 2h0m6-2h0m12 3h0m10-1h0m10 0h0m12 2h0m5-11h0m8 8h0m3-7h0m62 19h0m-8 0h0m-9 0h0m-4 0h0m-9 0h0m-8 0h0m-9-8h0m0 8h0m-6 0h0m-7 0h0m-3 0h0m-7 0h0m-2-7h0m-8 5h0m-3 0h0m-8 2h0m-8 0h0m-10-4h0m-3-4h0m-4 7h0m-5 1h0m-6 0h0m-5 0h0m-11 0h0m-1-8h0m-2 3h0m-11 0h0m-7 5h0m-2-7h0m-7 3h0m-6 4h0m-8 0h0m-7-4h0m-4 4h0m-7 0h0m-4 0h0m-11-6h0m-4 6h0m-8-6h0m-11 6h0m-1 0h0m-12 0h0m-5-5h0m-4-3h0m-3 6h0m-7-2h0m-4 4h0m-8 0h0m-18-4h0" stroke="#1f77b4" stroke-width="2.7"/></g></g>
<rect x="582.50" y="39.50" width="151.00" height="139.00" fill="none" stroke="#000" stroke-width="1.11"/>
<path d="M589.50 178.50v4.86M723.50 178.50v4.86M582.50 122.50h-4.86M582.50 49.50h-4.86" stroke="#000" stroke-width="1.11" fill="none"/>
<g class="tk">
<text x="588.96" y="205.00" text-anchor="middle" textLength="11.1" lengthAdjust="spacingAndGlyphs">0</text>
<text x="719.85" y="205.00" text-anchor="middle" textLength="44.4" lengthAdjust="spacingAndGlyphs">1000</text>
<text x="570.50" y="131.10" text-anchor="end" textLength="33.3" lengthAdjust="spacingAndGlyphs">500</text>
<text x="569.10" y="57.80" text-anchor="end" textLength="44.4" lengthAdjust="spacingAndGlyphs">1000</text>
</g>
<text class="al" x="656.50" y="228" text-anchor="middle" textLength="134" lengthAdjust="spacingAndGlyphs">CD45-KrOrange</text>
<text class="al" transform="translate(518.10,108.5) rotate(-90)" text-anchor="middle" textLength="35.6" lengthAdjust="spacingAndGlyphs">FSC</text>
<clipPath id="ct3"><rect x="832.50" y="39.50" width="151.00" height="139.00"/></clipPath><g clip-path="url(#ct3)" fill="none" stroke-linecap="round"><g transform="translate(839.36,195.50) scale(0.13419,-0.146)"><path d="M3 169h5v7h-5zM18 169h5v7h-5zM34 169h14v7h-14zM49 169h13v7h-13zM98 169h10v7h-10zM133 169h11v7h-11zM0 176h108v7h-108zM134 176h17v7h-17zM168 176h8v7h-8zM-4 183h115v7h-115zM131 183h55v7h-55zM-4 190h35v7h-35zM43 190h144v7h-144zM-3 197h32v7h-32zM45 197h141v7h-141zM-1 204h32v7h-32zM43 204h142v7h-142zM-1 211h190v7h-190zM-5 218h204v7h-204zM-5 225h226v7h-226zM-4 232h36v7h-36zM45 232h169v7h-169zM-4 239h35v7h-35zM46 239h7v7h-7zM67 239h146v7h-146zM-5 246h40v7h-40zM42 246h10v7h-10zM68 246h147v7h-147zM-2 253h41v7h-41zM52 253h4v7h-4zM64 253h87v7h-87zM164 253h31v7h-31zM204 253h13v7h-13zM-3 260h41v7h-41zM53 260h97v7h-97zM165 260h27v7h-27zM211 260h5v7h-5zM-4 267h44v7h-44zM69 267h85v7h-85zM161 267h32v7h-32zM212 267h7v7h-7zM-5 274h55v7h-55zM70 274h131v7h-131zM208 274h13v7h-13zM-3 281h10v7h-10zM14 281h37v7h-37zM67 281h157v7h-157zM40 288h188v7h-188zM62 295h163v7h-163zM66 302h5v7h-5zM88 302h135v7h-135zM92 309h11v7h-11zM111 309h113v7h-113zM116 316h114v7h-114zM116 323h123v7h-123zM129 330h108v7h-108zM145 337h93v7h-93zM146 344h90v7h-90zM144 351h77v7h-77zM158 358h61v7h-61zM167 365h53v7h-53zM169 372h69v7h-69zM167 379h7v7h-7zM175 379h9v7h-9zM202 379h36v7h-36zM203 386h34v7h-34zM199 393h42v7h-42zM194 400h44v7h-44zM204 407h33v7h-33zM217 414h15v7h-15zM1004 442h5v7h-5zM1004 449h6v7h-6zM1004 456h7v7h-7zM1005 463h6v7h-6zM1004 470h7v7h-7zM1003 477h9v7h-9zM1003 484h10v7h-10zM1004 491h11v7h-11zM1006 498h6v7h-6zM1005 505h6v7h-6zM1005 512h5v7h-5zM1003 519h8v7h-8zM1004 526h7v7h-7zM1005 533h7v7h-7zM1005 540h7v7h-7zM1002 547h10v7h-10zM1004 554h7v7h-7zM1002 561h8v7h-8zM1004 568h5v7h-5zM1006 589h5v7h-5zM1005 596h8v7h-8zM1006 603h6v7h-6zM1005 610h6v7h-6zM1004 617h10v7h-10zM1005 624h9v7h-9zM1006 631h9v7h-9zM1005 638h5v7h-5zM1005 645h5v7h-5zM1004 652h9v7h-9z" fill="#808080" stroke="none"/><path vector-effect="non-scaling-stroke" d="M140 166h0m-83 0h0m-18 0h0m-35 3h0m2 10h0m7-3h0m7-6h0m6 3h0m4 0h0m7 3h0m0-4h0m7 0h0m1 7h0m7 0h0m9-7h0m7 2h0m5 1h0m10-1h0m5 1h0m11-5h0m6 9h0m4-11h0m23 3h0m11 3h0m1 3h0m8 1h0m11 1h0m9-3h0m3 3h0m13 12h0m-4-7h0m-5 3h0m-1 3h0m-8 1h0m-2-9h0m-4 4h0m-7 5h0m-1-5h0m-8 4h0m-4-2h0m-5 3h0m-5-7h0m-2 7h0m-11-5h0m-1 5h0m-13-8h0m-1 6h0m-2-8h0m-18 3h0m-30-1h0m-7 5h0m-3-4h0m-5 6h0m0-3h0m-7-2h0m-1-5h0m-16 1h0m-2 3h0m-4-1h0m-9 1h0m-4 2h0m-2-5h0m0 14h0m2 6h0m1 2h0m6-6h0m16 3h0m3-7h0m8-1h0m15 7h0m4-4h0m64-2h0m10 3h0m53 1h0m5 4h0m101-5h0m5 7h0m567-11h0m-444 19h0m-57 2h0m-15 0h0m-60-9h0m-20 3h0m-8 0h0m-1 8h0m-33-9h0m-32 6h0m-7-8h0m-2 6h0m-130 3h0m-1-7h0m-11 3h0m-4 0h0m-12-4h0m-11 7h0m-4 1h0m-3-4h0m-5 10h0m5 6h0m3-7h0m24-2h0m4 8h0m4 3h0m8-3h0m139-3h0m9-3h0m1 6h0m1-8h0m3 4h0m10 4h0m16-2h0m41 4h0m9-3h0m10-1h0m168 5h0m110-6h0m-301 16h0m-14-5h0m-28 0h0m-6 2h0m-4 1h0m-134 4h0m-6-4h0m-4 4h0m-6-7h0m-1 6h0m-11-4h0m-18 2h0m-3-1h0m-26 2h0m-3-9h0m0 11h0m0 11h0m9-9h0m21 7h0m1-6h0m2 2h0m13 7h0m5-7h0m2 2h0m1-4h0m19 9h0m5-4h0m3 0h0m75 3h0m5-4h0m8 2h0m4 0h0m19 1h0m5-2h0m7-2h0m5 1h0m7 0h0m5 7h0m-1 1h0m-3 5h0m-5 1h0m-14-7h0m-5 10h0m-2-6h0m-2 3h0m-12-5h0m-1 6h0m-19-8h0m-7 10h0m-2-5h0m-72 5h0m-1-5h0m-9 1h0m-6-3h0m-1 3h0m-19-1h0m-7-1h0m-2-4h0m-21 4h0m-5 6h0m-2-9h0m-3 12h0m21 8h0m17-8h0m1 0h0m1 7h0m7 1h0m6 0h0m2-4h0m13-6h0m2 3h0m6 0h0m72 8h0m2-3h0m4-3h0m8 1h0m7-1h0m2-5h0m16 2h0m6 6h0m7 2h0m19-8h0m2 4h0m795 11h0m-791-2h0m-2 4h0m-4-1h0m-2-4h0m-7-1h0m-14 3h0m-1-4h0m-3 2h0m-22 3h0m-1-4h0m-16 2h0m-71 1h0m-10 3h0m-19 1h0m-3-3h0m0 6h0m-16-6h0m-3 6h0m-3-5h0m-17-6h0m0 8h0m-1-5h0m-2 5h0m-8-3h0m0-4h0m4 12h0m0 7h0m18-8h0m18 1h0m8 9h0m9-10h0m2 9h0m3-8h0m4 10h0m3-1h0m2-9h0m6-1h0m10 11h0m6-5h0m3 2h0m129-3h0m5 1h0m0-4h0m719 9h0m5-10h0m-728 12h0m-1-1h0m-7 10h0m-100 0h0m-5-5h0m-7 0h0m-12 2h0m-8-6h0m-8 0h0m-6 9h0m-71-2h0m-1-6h0m0-2h0m0 18h0m35 4h0m63-5h0m6-3h0m6-2h0m10 5h0m3-4h0m102 8h0m3-7h0m0 9h0m5-4h0m2 0h0m0 3h0m9 3h0m-6 8h0m-5-4h0m-80 1h0m-6 3h0m-12 2h0m-3-11h0m-7 6h0m-2-3h0m-1-1h0m-65 8h0m-14-2h0m-39-5h0m-2 0h0m-2 3h0m0 15h0m0-8h0m4 7h0m0-5h0m17-2h0m97 0h0m28 1h0m10 0h0m79 5h0m6-2h0m2 5h0m713-4h0m-1 6h0m-721 5h0m-9-5h0m-3 7h0m-5 4h0m-47 0h0m-11-9h0m-8 3h0m-3 1h0m-26 5h0m0-7h0m-122-2h0m0 19h0m4-9h0m4 4h0m19 4h0m124-8h0m15 6h0m6-1h0m6-2h0m18 7h0m0 1h0m17-8h0m3 3h0m5 0h0m17 3h0m711 0h0m59-7h0m-50 18h0m-5-4h0m-710 3h0m-15-3h0m0 4h0m-13-3h0m-15 1h0m-11 1h0m-2-3h0m-2 5h0m0-9h0m-7 1h0m-7 9h0m-171 0h0m0-10h0m1 13h0m48 2h0m55 4h0m17-2h0m27-5h0m1 7h0m25-7h0m10 1h0m23 7h0m3-5h0m25 2h0m9 6h0m733-11h0m5 8h0m10 2h0m13-10h0m4 21h0m0-9h0m-767 6h0m-11 3h0m-22-4h0m-2 5h0m-1-8h0m-7 0h0m-4 6h0m-28-6h0m-68 0h0m-20-1h0m-4 6h0m-43 1h0m-32-4h0m0-3h0m1 11h0m0 6h0m31 1h0m4-7h0m123 0h0m17 10h0m30-9h0m5 4h0m9 5h0m0-9h0m4 1h0m4-2h0m10 2h0m1 7h0m741-6h0m20-2h0m10-1h0m1 5h0m1 7h0m-1 5h0m-3 3h0m-779-5h0m-49-3h0m-10 10h0m-103-2h0m-4 3h0m-63-5h0m0 2h0m0 13h0m2-1h0m65-4h0m28 0h0m14 4h0m8-6h0m60 6h0m833 0h0m2-5h0m0 13h0m-4-1h0m0 2h0m-777 4h0m-8-2h0m-15-7h0m-4 4h0m-40-3h0m-5 4h0m-21-2h0m-32 5h0m-12 1h0m-14 0h0m-35-8h0m-24 8h0m-20 0h0m-1 11h0m3-4h0m29 4h0m1-5h0m7 4h0m7-7h0m116 8h0m7 2h0m5-5h0m63 4h0m770-4h0m2 4h0m2-3h0m0-5h0m2 12h0m-4 4h0m-1 6h0m-778-4h0m-132 1h0m-39 2h0m-60-4h0m1 15h0m2-8h0m48 3h0m151-4h0m21 5h0m3-4h0m5 2h0m778 1h0m0 7h0m3-6h0m1-5h0m8 10h0m-5 6h0m0 1h0m-6 2h0m-289 0h0m-509 3h0m-56-6h0m-152 6h0m-3 1h0m-1-9h0m0 15h0m1 5h0m5-5h0m207-3h0m11 8h0m786 0h0m1-6h0m2-1h0m-1 10h0m0 6h0m-3-3h0m-146 3h0m-646-1h0m-1 4h0m-17-5h0m-7 3h0m-15-4h0m-28 3h0m-143 0h0m-5 0h0m-1 4h0m3 9h0m2 3h0m184-10h0m43 10h0m5 0h0m666-8h0m105-3h0m3 10h0m1-10h0m1 8h0m1 8h0m-1 7h0m-2-6h0m-4 4h0m-374 0h0m-414-8h0m-7 6h0m-3-7h0m-17 9h0m-40-1h0m-149-7h0m-3 8h0m0 5h0m199 2h0m440-2h0m369 8h0m1-9h0m3 4h0m1 9h0m-1 3h0m-2 6h0m-3-7h0m-765 1h0m-2-1h0m-11-1h0m-37 8h0m-29 0h0m-12-3h0m-40 5h0m31-1h0m38 6h0m13 4h0m818-1h0m1-6h0m0 2h0m4 13h0m-4 5h0m-1-5h0m-176 2h0m-636-6h0m-77 0h0m-122 19h0m121 1h0m59-10h0m25 2h0m18 4h0m787-4h0m0-1h0m2 8h0m3-5h0m4 17h0m-6 0h0m-3-1h0m-1-6h0m-773-2h0m-14 5h0m-59 0h0m22 8h0m6 1h0m623 3h0m197-4h0m0 5h0m2 0h0m2-1h0m4 7h0m-6 2h0m-2 6h0m-1-4h0m-778 4h0m-18-8h0m-3 10h0m-41 1h0m-149-10h0m144 15h0m15 4h0m8 0h0m43-2h0m4 5h0m4-5h0m417-6h0m209 7h0m145-4h0m0 7h0m2-7h0m7 6h0m-5 3h0m-5 8h0m-149 1h0m-670-9h0m-10 5h0m-32 16h0m31-1h0m11 2h0m14-3h0m805-2h0m1 3h0m2 13h0m-2-7h0m-366 6h0m-422-1h0m-3-5h0m-72 6h0m-147-5h0m121 13h0m85-2h0m15 4h0m790-6h0m-1 14h0m-785 0h0m-29 3h0m-4-5h0m-23 9h0m48 7h0m742 2h0m52-1h0m0-5h0m1 19h0m-2-6h0m-1 9h0m0-3h0m-778-7h0m-4 4h0m-12 0h0m-20 9h0m9 9h0m32-1h0m776-3h0m1-2h0m-5 10h0m-49 9h0m-780-4h0m28 12h0m5-7h0m15 0h0m16 4h0m766-4h0m0 10h0m2-8h0m-2 19h0m-104 2h0m-687-7h0m-6 10h0m13 3h0m783-2h0m4 15h0m0-6h0m-2 0h0m-1 3h0m0 7h0m-823-4h0m-4 17h0m60-7h0m742 2h0m25 2h0m2 3h0m1-11h0m0 12h0m-3 10h0m-779-1h0m-46-3h0m755 9h0m71 6h0m0-9h0m0 22h0m-1-2h0m-813 6h0m19 5h0m4-7h0m11 5h0m778 6h0m3-3h0m2 1h0m1 7h0m-6 5h0m-751-2h0m-27-4h0m-8 18h0m4-9h0m3 10h0m13 1h0m683-1h0m86-5h0m0 9h0m-1 5h0m-779-3h0m17 12h0m761 5h0m1-6h0m3 8h0m-2 8h0m-2-7h0m-770 8h0m-25 5h0m794 6h0m2 3h0m3-5h0m-3 11h0m-2 8h0m4 2h0m0 12h0m-1 4h0m-2 13h0m0-7h0m-1 17h0m0-4h0m3 17h0m1-5h0m0 6h0m10 13h0m-12-8h0m-1 6h0m-16 2h0m-71 0h0m-144 0h0m-68 0h0m-17 0h0m-14 0h0m-14 0h0m-15 0h0m-14 0h0" stroke="#808080" stroke-width="2.7"/><path d="M388 267h5v7h-5zM417 267h7v7h-7zM379 274h15v7h-15zM413 274h15v7h-15zM355 281h80v7h-80zM341 288h102v7h-102zM328 295h4v7h-4zM334 295h112v7h-112zM322 302h127v7h-127zM312 309h146v7h-146zM296 316h164v7h-164zM296 323h175v7h-175zM259 330h7v7h-7zM297 330h177v7h-177zM252 337h36v7h-36zM290 337h95v7h-95zM398 337h86v7h-86zM251 344h133v7h-133zM404 344h84v7h-84zM249 351h136v7h-136zM405 351h84v7h-84zM250 358h143v7h-143zM402 358h88v7h-88zM255 365h251v7h-251zM258 372h250v7h-250zM258 379h255v7h-255zM256 386h262v7h-262zM255 393h271v7h-271zM253 400h275v7h-275zM250 407h279v7h-279zM250 414h280v7h-280zM254 421h276v7h-276zM253 428h280v7h-280zM251 435h237v7h-237zM503 435h42v7h-42zM252 442h235v7h-235zM504 442h40v7h-40zM250 449h241v7h-241zM501 449h42v7h-42zM248 456h238v7h-238zM499 456h51v7h-51zM247 463h238v7h-238zM500 463h68v7h-68zM248 470h80v7h-80zM342 470h147v7h-147zM496 470h72v7h-72zM245 477h82v7h-82zM343 477h224v7h-224zM248 484h82v7h-82zM340 484h216v7h-216zM248 491h307v7h-307zM248 498h310v7h-310zM247 505h316v7h-316zM247 512h316v7h-316zM249 519h321v7h-321zM255 526h318v7h-318zM256 533h321v7h-321zM254 540h324v7h-324zM246 547h332v7h-332zM247 554h330v7h-330zM254 561h326v7h-326zM256 568h104v7h-104zM377 568h207v7h-207zM255 575h104v7h-104zM379 575h198v7h-198zM254 582h108v7h-108zM377 582h199v7h-199zM255 589h323v7h-323zM256 596h324v7h-324zM255 603h322v7h-322zM259 610h316v7h-316zM261 617h315v7h-315zM263 624h315v7h-315zM262 631h317v7h-317zM259 638h325v7h-325zM261 645h321v7h-321zM262 652h322v7h-322zM260 659h321v7h-321zM259 666h320v7h-320zM261 673h316v7h-316zM262 680h316v7h-316zM260 687h316v7h-316zM262 694h313v7h-313zM264 701h310v7h-310zM262 708h308v7h-308zM258 715h313v7h-313zM263 722h311v7h-311zM266 729h305v7h-305zM267 736h305v7h-305zM264 743h316v7h-316zM267 750h319v7h-319zM269 757h286v7h-286zM269 764h285v7h-285zM267 771h289v7h-289zM265 778h212v7h-212zM491 778h69v7h-69zM280 785h195v7h-195zM492 785h63v7h-63zM281 792h195v7h-195zM489 792h55v7h-55zM282 799h259v7h-259zM285 806h230v7h-230zM287 813h227v7h-227zM292 820h225v7h-225zM299 827h222v7h-222zM299 834h221v7h-221zM294 841h224v7h-224zM292 848h226v7h-226zM307 855h205v7h-205zM315 862h198v7h-198zM316 869h199v7h-199zM314 876h202v7h-202zM312 883h203v7h-203zM301 890h214v7h-214zM305 897h6v7h-6zM324 897h188v7h-188zM325 904h187v7h-187zM329 911h186v7h-186zM328 918h188v7h-188zM324 925h193v7h-193zM331 932h188v7h-188zM342 939h171v7h-171zM350 946h163v7h-163zM351 953h161v7h-161zM352 960h158v7h-158zM353 967h159v7h-159zM355 974h167v7h-167zM359 981h164v7h-164zM358 988h164v7h-164zM364 995h159v7h-159zM366 1002h157v7h-157zM377 1009h13v7h-13zM423 1009h86v7h-86zM378 1016h11v7h-11zM424 1016h84v7h-84zM378 1023h6v7h-6zM423 1023h22v7h-22zM447 1023h12v7h-12zM460 1023h7v7h-7zM471 1023h9v7h-9zM482 1023h7v7h-7zM492 1023h11v7h-11z" fill="#1f77b4" stroke="none"/><path vector-effect="non-scaling-stroke" d="M451 239h0m-52-2h0m-63 1h0m0 10h0m29-8h0m13 5h0m23 5h0m55-9h0m-7 17h0m-6-1h0m-3 3h0m-17 2h0m-98-10h0m-18 6h0m-5 2h0m-8-3h0m-13-1h0m-37 3h0m7 14h0m63-1h0m4-5h0m17 2h0m47 5h0m9-7h0m28-1h0m6 9h0m27-1h0m3-8h0m4 7h0m-28 7h0m-10 0h0m-4 6h0m-5-2h0m-4-7h0m-9 8h0m-6-7h0m-4 5h0m-1-5h0m-10 8h0m-11-4h0m-2-6h0m-8 6h0m-1 5h0m-13-3h0m-18-6h0m-11-1h0m-15 2h0m-4 2h0m-7-3h0m-22 2h0m-7 2h0m-20 2h0m18 8h0m8 7h0m4-9h0m4 5h0m55 1h0m5 1h0m9-5h0m2-4h0m3 10h0m13-6h0m22-4h0m19 1h0m5-1h0m19 0h0m5 3h0m9-2h0m2 4h0m2 4h0m5-8h0m13 15h0m-12 7h0m-2-1h0m-1-6h0m-7-4h0m-97 0h0m-4 6h0m-4 0h0m-8 5h0m-9-6h0m-17 6h0m-48-1h0m10 11h0m32-1h0m11-5h0m5 6h0m8 0h0m0-9h0m132 5h0m2 6h0m4-5h0m6 5h0m2-2h0m6-1h0m2 12h0m-7 2h0m-4-8h0m-59 5h0m-4 2h0m-8 1h0m-13 0h0m-66-10h0m-5 10h0m-4-8h0m-2 4h0m-2-4h0m-18 9h0m-18-7h0m-4 7h0m-6 8h0m2-7h0m11 4h0m4-3h0m9 7h0m1-2h0m4 0h0m13-5h0m5 1h0m75-2h0m2 9h0m5-4h0m3-4h0m10-1h0m4 0h0m1 9h0m6-3h0m70 4h0m5-10h0m99 23h0m-90-11h0m-5 9h0m-7 2h0m-69-10h0m-21 9h0m-7-6h0m-86-2h0m-13-1h0m-29 10h0m-2-6h0m-15 1h0m14 9h0m3 3h0m8-5h0m119 1h0m3 4h0m3-1h0m8-2h0m4 3h0m2 5h0m2-11h0m7 2h0m71 5h0m2 2h0m10-2h0m8-3h0m5 4h0m8 15h0m-4-3h0m-10-8h0m0 10h0m-8-10h0m-96 1h0m-131 0h0m-4 7h0m-3-7h0m-2 13h0m1 9h0m4-3h0m4-1h0m241-3h0m5 5h0m9 2h0m6-1h0m1 11h0m-273-2h0m-4 14h0m2-9h0m3 9h0m270-9h0m3 8h0m42 5h0m-43 1h0m-4 1h0m-17 6h0m-9-3h0m-7 5h0m-1 0h0m-8-1h0m-224 1h0m-2-9h0m-5 13h0m5 4h0m4-5h0m1-1h0m220 2h0m6 2h0m10-3h0m3 1h0m10 4h0m15-3h0m1-1h0m4-2h0m4 10h0m1-11h0m0 4h0m8 4h0m2-7h0m30 18h0m-33-6h0m-2 6h0m-30-5h0m-5 3h0m-2 4h0m-10 2h0m0-3h0m-9 3h0m0-10h0m-5-1h0m-218 4h0m-8 1h0m-8 12h0m5 5h0m3-6h0m4 4h0m68 2h0m3-5h0m10 6h0m138-4h0m2-5h0m25 1h0m0 8h0m6-2h0m2-9h0m31 10h0m3-9h0m8 3h0m1-2h0m0 7h0m15-3h0m-1 13h0m-16-7h0m-4 2h0m-42 5h0m-3 2h0m-2-8h0m-6 4h0m-7 6h0m-3-10h0m-1-1h0m-5 2h0m-132-2h0m-1 7h0m-6-5h0m-15 8h0m-1-6h0m-2-1h0m-77 8h0m4 5h0m76 1h0m9 3h0m7 0h0m3-3h0m3-5h0m1 10h0m5-5h0m142 0h0m0-4h0m3 2h0m51 0h0m2-3h0m5 6h0m6-4h0m4 2h0m1 19h0m-13-6h0m-4 2h0m-216-1h0m-9 0h0m-68 3h0m-4-7h0m-3 1h0m-2 19h0m2-10h0m303 6h0m5-1h0m4-3h0m9 15h0m-4-1h0m-6 5h0m-4-8h0m0 8h0m0-3h0m-302 5h0m-2-4h0m-2 3h0m-18-8h0m26 17h0m3-5h0m1 4h0m306-1h0m1-5h0m7 6h0m4 13h0m-11-2h0m-308-1h0m-3 4h0m-10-3h0m-2 2h0m-13 16h0m14-4h0m7 1h0m115 2h0m200-9h0m1 10h0m3-11h0m5 11h0m28 1h0m-14 7h0m-13 4h0m-5-6h0m-192-4h0m0 9h0m-7-4h0m-3-4h0m-5 2h0m-8-1h0m0-2h0m-7 9h0m-88-7h0m-4-1h0m-4 1h0m-10 15h0m7 1h0m5-6h0m4 1h0m1 6h0m87-1h0m10 1h0m9 3h0m2 0h0m8 0h0m7-10h0m180 5h0m3-2h0m4 5h0m24-3h0m-1 16h0m-20-7h0m-3 0h0m-190-2h0m-6 4h0m-13-2h0m-5-1h0m-6 1h0m-91-1h0m-6 5h0m0 11h0m2 4h0m3-10h0m4 7h0m300 1h0m2 0h0m3 3h0m7-6h0m5-3h0m12 1h0m-20 16h0m-1-1h0m-8-6h0m-297 1h0m-4 4h0m-5-4h0m-17 7h0m21 4h0m7 5h0m302 5h0m4-10h0m2 11h0m20-1h0m-15 7h0m-8 3h0m-305-6h0m-9-1h0m-2 9h0m5 8h0m3 1h0m0-7h0m306 3h0m4 6h0m4-4h0m27 10h0m-12 3h0m-1-6h0m-16 2h0m-3 8h0m-3-3h0m-305-6h0m0 5h0m-9 1h0m-1 1h0m-12-8h0m-2 1h0m19 18h0m2-6h0m6 9h0m296-10h0m2 7h0m5 0h0m2-7h0m20 9h0m-15 6h0m-8 5h0m-1 3h0m-303-8h0m-4 8h0m-2-8h0m-7 8h0m-8 2h0m317 7h0m4 0h0m5 0h0m19-1h0m4-5h0m-8 10h0m-20 10h0m-3-10h0m-1 9h0m-294-2h0m-3-4h0m-6 0h0m-2 6h0m-2 1h0m-6 8h0m11-2h0m7-2h0m307 2h0m14 8h0m-17 9h0m-6-2h0m-3-6h0m-1 8h0m-290-9h0m-6 0h0m-9 13h0m13 0h0m2 9h0m277-2h0m3-1h0m9-6h0m3 5h0m3 2h0m10-4h0m8-2h0m8 13h0m-17-1h0m-13-1h0m-10 2h0m-8 8h0m-1-11h0m-1 0h0m-272 8h0m-2 0h0m-2-8h0m-16 19h0m17-5h0m6 9h0m0-9h0m193 3h0m13 5h0m6-3h0m3-1h0m55-4h0m1 8h0m10-3h0m16-1h0m6 2h0m10 4h0m-27 0h0m-8 6h0m-14 3h0m-44-7h0m-21-1h0m-3 8h0m-5-8h0m-180 2h0m-3-3h0m-2 10h0m-15-9h0m-4 9h0m20 7h0m2 4h0m2-5h0m4 3h0m179-2h0m4 5h0m11 0h0m4-5h0m3-5h0m4 7h0m2-7h0m15 10h0m17-2h0m2-2h0m4-5h0m5 3h0m16 3h0m-19 6h0m-10 0h0m-15 4h0m-9 2h0m-12-4h0m-9-1h0m-6-2h0m-182 5h0m-13-2h0m-27-3h0m-9 6h0m17 13h0m22 0h0m3 1h0m3-6h0m3 3h0m2-5h0m9 6h0m200 0h0m3-5h0m7 8h0m3-1h0m19-5h0m6 3h0m4-2h0m11 6h0m16-10h0m-55 13h0m-2 10h0m-5-11h0m-207 6h0m-5 4h0m0-9h0m-41 9h0m34 6h0m6-2h0m0 8h0m3-4h0m11 4h0m195-6h0m2 4h0m2-2h0m2 4h0m4 2h0m-13 9h0m-1-6h0m-2 0h0m-181 7h0m-3-5h0m-4 2h0m-4 2h0m-6-8h0m-5 1h0m-9-1h0m-41 5h0m72 11h0m186 2h0m4-5h0m12 10h0m-8 0h0m-192 7h0m-7-7h0m-1 7h0m-16 4h0m-13-8h0m10 14h0m11 3h0m12 0h0m6-2h0m4-3h0m3 7h0m174-2h0m2-1h0m3 2h0m3-6h0m-5 16h0m-175-4h0m-8 6h0m-19-6h0m-20 3h0m-26-1h0m-9 10h0m5 3h0m21-3h0m8 2h0m11-3h0m7 4h0m26 3h0m5-9h0m175 6h0m3-5h0m2 11h0m0 9h0m-7-8h0m-162 6h0m-8-3h0m-9-2h0m-11 8h0m-2-7h0m-48 12h0m66 0h0m8-3h0m3 10h0m10-6h0m153 7h0m1-8h0m10-3h0m-6 19h0m-1-4h0m-9-3h0m-149 3h0m-1 5h0m-111 15h0m65-1h0m28-8h0m18 0h0m2 4h0m7-1h0m0 1h0m140-6h0m1 6h0m1 4h0m2-10h0m24 13h0m-5 8h0m-11-9h0m-7 2h0m-145-1h0m-3 8h0m-12-4h0m-46-4h0m14 11h0m42 9h0m11-7h0m202 11h0m-48 10h0m0-11h0m-5 5h0m-2-5h0m-5 6h0m-80 5h0m-9-5h0m-2 1h0m-13 3h0m-2-3h0m-7 1h0m-8-1h0m-5 0h0m-17 2h0m-50-9h0m-13 1h0m64 11h0m16 6h0m2 3h0m3-6h0m6-2h0m10 3h0m17-1h0m9 3h0m16 3h0m1-2h0m12 0h0m19 3h0m15-1h0m9-7h0m6-2h0m2 1h0m8 0h0m101 19h0m-5 0h0m-10 0h0m-7 0h0m-7 0h0m-6 0h0m-11 0h0m-5 0h0m-6 0h0m-4 0h0m-11 0h0m-9 0h0m-1 0h0m-8 0h0m-10 0h0m-5 0h0m-8-4h0m-7 4h0m-5 0h0m-10 0h0m-9 0h0m-2 0h0m-11 0h0m-8 0h0m-5 0h0m-9 0h0m-6 0h0m-7 0h0m-2-7h0m-2 7h0m-9 0h0m-3 0h0m-12 0h0m-2 0h0m-8 0h0m-10-8h0m0 8h0m-13 0h0m-7 0h0m-10 0h0m-7 0h0m-6 0h0m-3 0h0" stroke="#1f77b4" stroke-width="2.7"/></g></g>
<rect x="832.50" y="39.50" width="151.00" height="139.00" fill="none" stroke="#000" stroke-width="1.11"/>
<path d="M839.50 178.50v4.86M973.50 178.50v4.86M832.50 122.50h-4.86M832.50 49.50h-4.86" stroke="#000" stroke-width="1.11" fill="none"/>
<g class="tk">
<text x="838.96" y="205.00" text-anchor="middle" textLength="11.1" lengthAdjust="spacingAndGlyphs">0</text>
<text x="969.85" y="205.00" text-anchor="middle" textLength="44.4" lengthAdjust="spacingAndGlyphs">1000</text>
<text x="820.50" y="131.10" text-anchor="end" textLength="33.3" lengthAdjust="spacingAndGlyphs">500</text>
<text x="819.10" y="57.80" text-anchor="end" textLength="44.4" lengthAdjust="spacingAndGlyphs">1000</text>
</g>
<text class="al" x="906.50" y="228" text-anchor="middle" textLength="134" lengthAdjust="spacingAndGlyphs">CD45-KrOrange</text>
<text class="al" transform="translate(768.10,108.5) rotate(-90)" text-anchor="middle" textLength="35.6" lengthAdjust="spacingAndGlyphs">FSC</text>
<clipPath id="ce2"><rect x="82.50" y="313.50" width="413.00" height="347.00"/></clipPath><g clip-path="url(#ce2)" fill="none" stroke-linecap="round"><g transform="translate(101.27,680.20) scale(0.36945,-0.3428)"><use href="#cgf" fill="#808080" stroke="none"/><use href="#cg" stroke="#808080" stroke-width="4.35"/><use href="#daf" fill="#808080" stroke="none"/><use href="#da" stroke="#808080" stroke-width="4.35"/><use href="#cbf" fill="#1f77b4" stroke="none"/><use href="#cb" stroke="#1f77b4" stroke-width="4.35"/><use href="#dbf" fill="#1f77b4" stroke="none"/><use href="#db" stroke="#1f77b4" stroke-width="4.35"/><use href="#ove" stroke="#808080" stroke-width="4.35"/></g></g><path d="M156.50 553.50H267.50V628.50H156.50Z" fill="none" stroke="#000" stroke-opacity="0.5" stroke-width="1.11"/><path d="M156.50 553.50L247.50 348.50M267.50 628.50L454.50 521.50" fill="none" stroke="#000" stroke-opacity="0.5" stroke-width="1.4"/><rect x="247.50" y="348.50" width="207.00" height="173.00" fill="#fff"/><clipPath id="cie2"><rect x="247.50" y="348.50" width="207.00" height="173.00"/></clipPath><g clip-path="url(#cie2)" fill="none" stroke-linecap="round"><g transform="translate(144.00,639.45) scale(0.69000,-0.78636)"><use href="#cgf" fill="#808080" stroke="none"/><use href="#cg" stroke="#808080" stroke-width="4.35"/><use href="#daf" fill="#808080" stroke="none"/><use href="#da" stroke="#808080" stroke-width="4.35"/><use href="#cbf" fill="#1f77b4" stroke="none"/><use href="#cb" stroke="#1f77b4" stroke-width="4.35"/><use href="#dbf" fill="#1f77b4" stroke="none"/><use href="#db" stroke="#1f77b4" stroke-width="4.35"/><use href="#ove" stroke="#808080" stroke-width="4.35"/></g></g><rect x="247.50" y="348.50" width="207.00" height="173.00" fill="none" stroke="#000" stroke-width="1.11"/>
<rect x="82.50" y="313.50" width="413.00" height="347.00" fill="none" stroke="#000" stroke-width="1.11"/>
<path d="M101.50 660.50v4.86M193.50 660.50v4.86M286.50 660.50v4.86M378.50 660.50v4.86M470.50 660.50v4.86M82.50 611.50h-4.86M82.50 543.50h-4.86M82.50 474.50h-4.86M82.50 405.50h-4.86M82.50 337.50h-4.86" stroke="#000" stroke-width="1.11" fill="none"/>
<g class="tk">
<text x="100.77" y="687.10" text-anchor="middle" textLength="11.1" lengthAdjust="spacingAndGlyphs">0</text>
<text x="191.83" y="687.10" text-anchor="middle" textLength="33.3" lengthAdjust="spacingAndGlyphs">250</text>
<text x="283.39" y="687.10" text-anchor="middle" textLength="33.3" lengthAdjust="spacingAndGlyphs">500</text>
<text x="376.16" y="687.10" text-anchor="middle" textLength="33.3" lengthAdjust="spacingAndGlyphs">750</text>
<text x="467.12" y="687.10" text-anchor="middle" textLength="44.4" lengthAdjust="spacingAndGlyphs">1000</text>
<text x="70.90" y="619.34" text-anchor="end" textLength="33.3" lengthAdjust="spacingAndGlyphs">200</text>
<text x="70.90" y="550.78" text-anchor="end" textLength="33.3" lengthAdjust="spacingAndGlyphs">400</text>
<text x="70.90" y="482.22" text-anchor="end" textLength="33.3" lengthAdjust="spacingAndGlyphs">600</text>
<text x="70.90" y="413.66" text-anchor="end" textLength="33.3" lengthAdjust="spacingAndGlyphs">800</text>
<text x="69.20" y="345.10" text-anchor="end" textLength="44.4" lengthAdjust="spacingAndGlyphs">1000</text>
</g>
<text class="al" x="287.50" y="710.10" text-anchor="middle" textLength="134" lengthAdjust="spacingAndGlyphs">CD45-KrOrange</text>
<text class="al" transform="translate(18.10,486.70) rotate(-90)" text-anchor="middle" textLength="35.6" lengthAdjust="spacingAndGlyphs">FSC</text>
<text class="ti" x="82.20" y="304.10" textLength="80.6" lengthAdjust="spacingAndGlyphs">Expert</text>
<clipPath id="cg2"><rect x="583.50" y="313.50" width="413.00" height="347.00"/></clipPath><g clip-path="url(#cg2)" fill="none" stroke-linecap="round"><g transform="translate(602.27,680.20) scale(0.36945,-0.3428)"><use href="#cgf" fill="#808080" stroke="none"/><use href="#cg" stroke="#808080" stroke-width="4.35"/><use href="#dbf" fill="#808080" stroke="none"/><use href="#db" stroke="#808080" stroke-width="4.35"/><use href="#cbf" fill="#1f77b4" stroke="none"/><use href="#cb" stroke="#1f77b4" stroke-width="4.35"/><use href="#daf" fill="#1f77b4" stroke="none"/><use href="#da" stroke="#1f77b4" stroke-width="4.35"/><use href="#ovg" stroke="#808080" stroke-width="4.35"/></g></g><path d="M657.50 553.50H768.50V628.50H657.50Z" fill="none" stroke="#000" stroke-opacity="0.5" stroke-width="1.11"/><path d="M657.50 553.50L748.50 348.50M768.50 628.50L955.50 521.50" fill="none" stroke="#000" stroke-opacity="0.5" stroke-width="1.4"/><rect x="748.50" y="348.50" width="207.00" height="173.00" fill="#fff"/><clipPath id="cig2"><rect x="748.50" y="348.50" width="207.00" height="173.00"/></clipPath><g clip-path="url(#cig2)" fill="none" stroke-linecap="round"><g transform="translate(645.00,639.45) scale(0.69000,-0.78636)"><use href="#cgf" fill="#808080" stroke="none"/><use href="#cg" stroke="#808080" stroke-width="4.35"/><use href="#dbf" fill="#808080" stroke="none"/><use href="#db" stroke="#808080" stroke-width="4.35"/><use href="#cbf" fill="#1f77b4" stroke="none"/><use href="#cb" stroke="#1f77b4" stroke-width="4.35"/><use href="#daf" fill="#1f77b4" stroke="none"/><use href="#da" stroke="#1f77b4" stroke-width="4.35"/><use href="#ovg" stroke="#808080" stroke-width="4.35"/></g></g><rect x="748.50" y="348.50" width="207.00" height="173.00" fill="none" stroke="#000" stroke-width="1.11"/>
<rect x="583.50" y="313.50" width="413.00" height="347.00" fill="none" stroke="#000" stroke-width="1.11"/>
<path d="M602.50 660.50v4.86M694.50 660.50v4.86M787.50 660.50v4.86M879.50 660.50v4.86M971.50 660.50v4.86M583.50 611.50h-4.86M583.50 543.50h-4.86M583.50 474.50h-4.86M583.50 405.50h-4.86M583.50 337.50h-4.86" stroke="#000" stroke-width="1.11" fill="none"/>
<g class="tk">
<text x="601.77" y="687.10" text-anchor="middle" textLength="11.1" lengthAdjust="spacingAndGlyphs">0</text>
<text x="692.83" y="687.10" text-anchor="middle" textLength="33.3" lengthAdjust="spacingAndGlyphs">250</text>
<text x="784.39" y="687.10" text-anchor="middle" textLength="33.3" lengthAdjust="spacingAndGlyphs">500</text>
<text x="877.16" y="687.10" text-anchor="middle" textLength="33.3" lengthAdjust="spacingAndGlyphs">750</text>
<text x="968.12" y="687.10" text-anchor="middle" textLength="44.4" lengthAdjust="spacingAndGlyphs">1000</text>
<text x="571.90" y="619.34" text-anchor="end" textLength="33.3" lengthAdjust="spacingAndGlyphs">200</text>
<text x="571.90" y="550.78" text-anchor="end" textLength="33.3" lengthAdjust="spacingAndGlyphs">400</text>
<text x="571.90" y="482.22" text-anchor="end" textLength="33.3" lengthAdjust="spacingAndGlyphs">600</text>
<text x="571.90" y="413.66" text-anchor="end" textLength="33.3" lengthAdjust="spacingAndGlyphs">800</text>
<text x="570.20" y="345.10" text-anchor="end" textLength="44.4" lengthAdjust="spacingAndGlyphs">1000</text>
</g>
<text class="al" x="788.50" y="710.10" text-anchor="middle" textLength="134" lengthAdjust="spacingAndGlyphs">CD45-KrOrange</text>
<text class="al" transform="translate(519.10,486.70) rotate(-90)" text-anchor="middle" textLength="35.6" lengthAdjust="spacingAndGlyphs">FSC</text>
<text class="ti" x="994.90" y="304.50" text-anchor="end" textLength="101.6" lengthAdjust="spacingAndGlyphs">GateNet</text>
<clipPath id="ce3"><rect x="82.50" y="760.50" width="413.00" height="381.00"/></clipPath><g clip-path="url(#ce3)" fill="none" stroke-linecap="round"><g transform="translate(101.27,1163.70) scale(0.36945,-0.3776)"><use href="#cgf" fill="#808080" stroke="none"/><use href="#cg" stroke="#808080" stroke-width="4.35"/><use href="#daf" fill="#808080" stroke="none"/><use href="#da" stroke="#808080" stroke-width="4.35"/></g></g>
<rect x="82.50" y="760.50" width="413.00" height="381.00" fill="none" stroke="#000" stroke-width="1.11"/>
<path d="M101.50 1141.50v4.86M193.50 1141.50v4.86M286.50 1141.50v4.86M378.50 1141.50v4.86M470.50 1141.50v4.86M82.50 1088.50h-4.86M82.50 1012.50h-4.86M82.50 937.50h-4.86M82.50 861.50h-4.86M82.50 786.50h-4.86" stroke="#000" stroke-width="1.11" fill="none"/>
<g class="tk">
<text x="100.77" y="1168.10" text-anchor="middle" textLength="11.1" lengthAdjust="spacingAndGlyphs">0</text>
<text x="191.83" y="1168.10" text-anchor="middle" textLength="33.3" lengthAdjust="spacingAndGlyphs">250</text>
<text x="283.39" y="1168.10" text-anchor="middle" textLength="33.3" lengthAdjust="spacingAndGlyphs">500</text>
<text x="376.16" y="1168.10" text-anchor="middle" textLength="33.3" lengthAdjust="spacingAndGlyphs">750</text>
<text x="467.12" y="1168.10" text-anchor="middle" textLength="44.4" lengthAdjust="spacingAndGlyphs">1000</text>
<text x="70.90" y="1095.88" text-anchor="end" textLength="33.3" lengthAdjust="spacingAndGlyphs">200</text>
<text x="70.90" y="1020.36" text-anchor="end" textLength="33.3" lengthAdjust="spacingAndGlyphs">400</text>
<text x="70.90" y="944.84" text-anchor="end" textLength="33.3" lengthAdjust="spacingAndGlyphs">600</text>
<text x="70.90" y="869.32" text-anchor="end" textLength="33.3" lengthAdjust="spacingAndGlyphs">800</text>
<text x="69.20" y="793.80" text-anchor="end" textLength="44.4" lengthAdjust="spacingAndGlyphs">1000</text>
</g>
<text class="al" x="287.50" y="1191.10" text-anchor="middle" textLength="134" lengthAdjust="spacingAndGlyphs">CD45-KrOrange</text>
<text class="al" transform="translate(18.10,950.70) rotate(-90)" text-anchor="middle" textLength="35.6" lengthAdjust="spacingAndGlyphs">FSC</text>
<text class="ti" x="82.20" y="751.10" textLength="80.6" lengthAdjust="spacingAndGlyphs">Expert</text>
<clipPath id="cg3"><rect x="583.50" y="760.50" width="413.00" height="381.00"/></clipPath><g clip-path="url(#cg3)" fill="none" stroke-linecap="round"><g transform="translate(602.27,1163.70) scale(0.36945,-0.3776)"><use href="#cgf" fill="#808080" stroke="none"/><use href="#cg" stroke="#808080" stroke-width="4.35"/><use href="#dbf" fill="#808080" stroke="none"/><use href="#db" stroke="#808080" stroke-width="4.35"/></g></g>
<rect x="583.50" y="760.50" width="413.00" height="381.00" fill="none" stroke="#000" stroke-width="1.11"/>
<path d="M602.50 1141.50v4.86M694.50 1141.50v4.86M787.50 1141.50v4.86M879.50 1141.50v4.86M971.50 1141.50v4.86M583.50 1088.50h-4.86M583.50 1012.50h-4.86M583.50 937.50h-4.86M583.50 861.50h-4.86M583.50 786.50h-4.86" stroke="#000" stroke-width="1.11" fill="none"/>
<g class="tk">
<text x="601.77" y="1168.10" text-anchor="middle" textLength="11.1" lengthAdjust="spacingAndGlyphs">0</text>
<text x="692.83" y="1168.10" text-anchor="middle" textLength="33.3" lengthAdjust="spacingAndGlyphs">250</text>
<text x="784.39" y="1168.10" text-anchor="middle" textLength="33.3" lengthAdjust="spacingAndGlyphs">500</text>
<text x="877.16" y="1168.10" text-anchor="middle" textLength="33.3" lengthAdjust="spacingAndGlyphs">750</text>
<text x="968.12" y="1168.10" text-anchor="middle" textLength="44.4" lengthAdjust="spacingAndGlyphs">1000</text>
<text x="571.90" y="1095.88" text-anchor="end" textLength="33.3" lengthAdjust="spacingAndGlyphs">200</text>
<text x="571.90" y="1020.36" text-anchor="end" textLength="33.3" lengthAdjust="spacingAndGlyphs">400</text>
<text x="571.90" y="944.84" text-anchor="end" textLength="33.3" lengthAdjust="spacingAndGlyphs">600</text>
<text x="571.90" y="869.32" text-anchor="end" textLength="33.3" lengthAdjust="spacingAndGlyphs">800</text>
<text x="570.20" y="793.80" text-anchor="end" textLength="44.4" lengthAdjust="spacingAndGlyphs">1000</text>
</g>
<text class="al" x="788.50" y="1191.10" text-anchor="middle" textLength="134" lengthAdjust="spacingAndGlyphs">CD45-KrOrange</text>
<text class="al" transform="translate(519.10,950.70) rotate(-90)" text-anchor="middle" textLength="35.6" lengthAdjust="spacingAndGlyphs">FSC</text>
<text class="ti" x="994.90" y="751.50" text-anchor="end" textLength="101.6" lengthAdjust="spacingAndGlyphs">GateNet</text>
</svg></body></html>
